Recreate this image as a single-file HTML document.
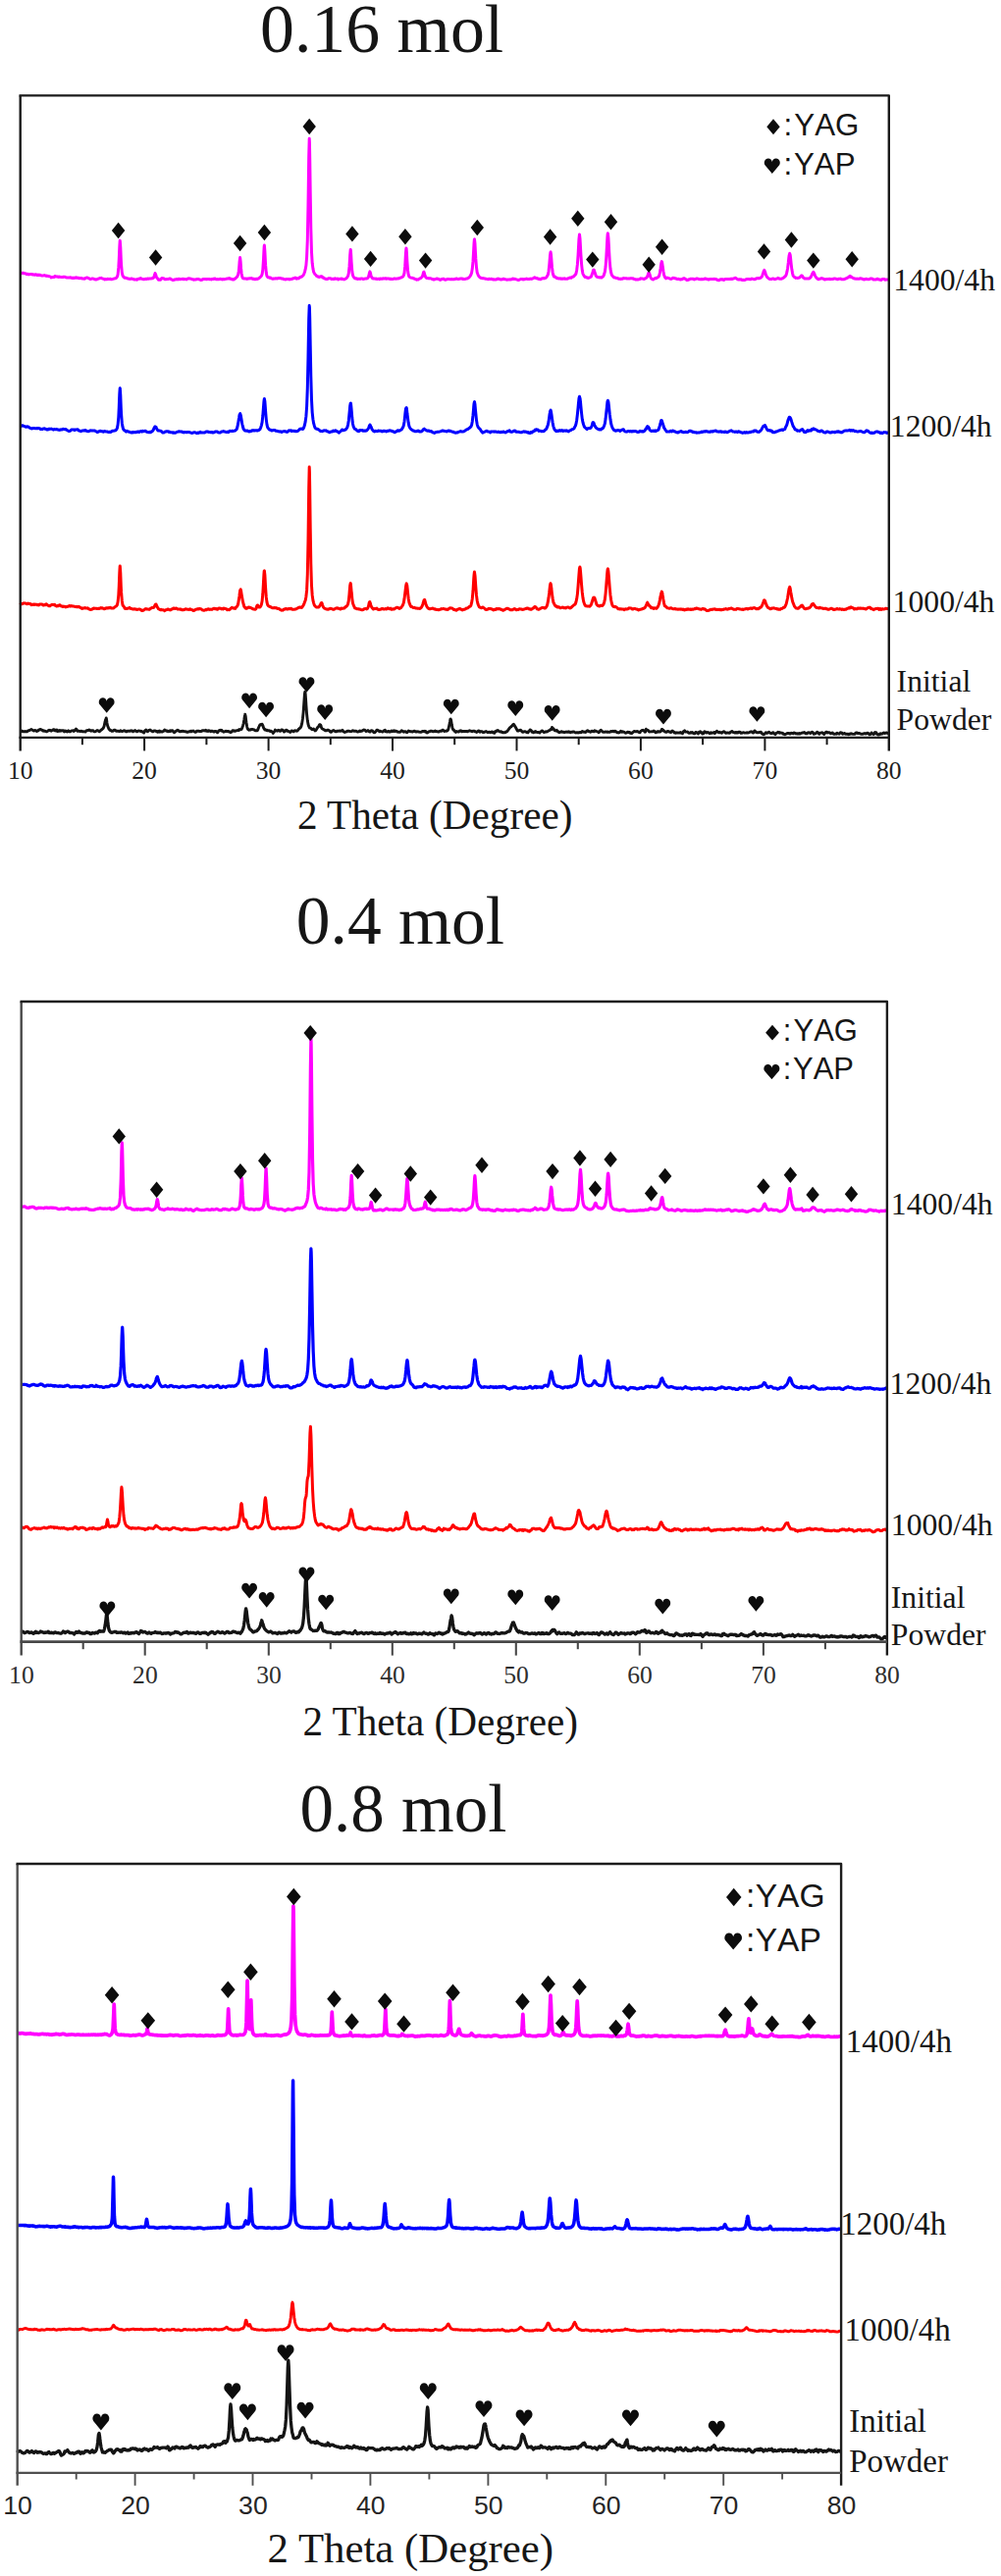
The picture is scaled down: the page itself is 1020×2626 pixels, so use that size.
<!DOCTYPE html>
<html lang="en"><head><meta charset="utf-8"><title>XRD patterns</title>
<style>
html,body{margin:0;padding:0;background:#fff}
svg{display:block}
text{white-space:pre}
</style></head><body>
<svg width="1020" height="2626" viewBox="0 0 1020 2626">
<rect width="1020" height="2626" fill="#ffffff"/>
<g>
<polyline points="20.7,278.1 21.4,278.0 22.1,278.4 22.8,278.4 23.5,278.2 24.2,278.5 24.9,278.8 25.6,278.7 26.3,278.9 27.0,279.5 27.7,279.4 28.4,279.2 29.1,279.9 29.8,279.7 30.5,279.6 31.2,279.4 31.9,279.5 32.6,279.4 33.3,280.0 34.0,279.7 34.7,280.1 35.4,280.3 36.1,279.8 36.8,279.8 37.5,280.5 38.2,280.4 38.9,280.0 39.6,280.4 40.3,280.3 41.0,280.3 41.7,280.6 42.4,281.1 43.1,281.0 43.8,280.9 44.5,280.8 45.2,280.6 45.9,280.9 46.6,281.0 47.3,281.4 48.0,281.2 48.7,281.4 49.4,281.5 50.1,281.7 50.8,281.9 51.5,282.1 52.2,282.9 52.9,282.7 53.6,282.4 54.3,282.4 55.0,282.5 55.7,281.6 56.4,281.6 57.1,282.0 57.8,282.1 58.5,282.0 59.2,282.3 59.9,282.5 60.6,282.1 61.3,282.3 62.0,282.4 62.7,282.5 63.4,282.4 64.1,282.5 64.8,282.2 65.5,282.2 66.2,282.3 66.9,282.6 67.6,282.9 68.3,282.9 69.0,282.9 69.7,282.9 70.4,282.9 71.1,282.9 71.8,282.7 72.5,283.2 73.2,283.2 73.9,283.5 74.6,283.3 75.3,283.5 76.0,283.2 76.7,283.3 77.4,282.8 78.1,283.3 78.8,283.1 79.5,283.4 80.2,283.3 80.9,283.7 81.6,283.5 82.3,283.6 83.0,283.5 83.7,284.1 84.4,283.9 85.1,284.0 85.8,284.2 86.5,284.0 87.2,283.4 87.9,283.2 88.6,282.9 89.3,283.1 90.0,283.6 90.7,283.8 91.4,284.2 92.1,284.6 92.8,284.4 93.5,284.1 94.2,284.0 94.9,284.1 95.6,284.3 96.3,284.7 97.0,284.8 97.7,285.1 98.4,284.8 99.1,284.6 99.8,284.3 100.5,284.1 101.2,283.7 101.9,283.6 102.6,283.6 103.3,283.3 104.0,283.9 104.7,284.1 105.4,284.3 106.1,284.5 106.8,284.9 107.5,284.6 108.2,284.7 108.9,284.8 109.6,284.3 110.3,284.5 111.0,284.4 111.7,284.4 112.4,284.3 113.1,284.7 113.8,284.7 114.5,284.6 115.2,284.4 115.9,284.1 116.6,283.9 117.3,283.8 118.0,283.8 118.7,283.1 119.4,282.2 120.1,279.8 120.8,272.9 121.3,264.2 121.5,259.6 121.8,252.1 122.2,245.3 122.3,245.6 122.8,252.4 122.9,254.9 123.3,264.2 123.6,270.2 124.3,277.9 125.0,280.8 125.7,282.1 126.4,282.8 127.1,283.3 127.8,283.1 128.5,283.4 129.2,283.4 129.9,283.9 130.6,284.0 131.3,284.2 132.0,284.3 132.7,284.4 133.4,284.2 134.1,284.0 134.8,284.3 135.5,284.4 136.2,284.5 136.9,285.0 137.6,285.1 138.3,285.1 139.0,284.7 139.7,285.1 140.4,284.4 141.1,284.3 141.8,284.1 142.5,284.3 143.2,283.6 143.9,284.0 144.6,284.3 145.3,284.4 146.0,284.5 146.7,284.8 147.4,284.6 148.1,284.3 148.8,284.5 149.5,284.4 150.2,284.0 150.9,284.3 151.6,284.3 152.3,283.9 153.0,284.0 153.7,284.1 154.4,283.8 155.1,283.7 155.8,283.7 156.5,283.1 157.0,281.8 157.2,281.3 157.5,280.3 157.9,278.9 158.0,278.5 158.5,279.7 158.6,279.6 159.0,280.9 159.3,282.4 160.0,283.3 160.7,284.1 161.4,285.3 162.1,285.3 162.8,285.0 163.5,285.2 164.2,284.4 164.9,283.5 165.6,283.7 166.3,283.7 167.0,284.0 167.7,284.5 168.4,284.8 169.1,284.7 169.8,284.6 170.5,284.5 171.2,284.6 171.9,284.4 172.6,283.9 173.3,284.0 174.0,284.5 174.7,284.8 175.4,285.2 176.1,285.5 176.8,285.6 177.5,285.1 178.2,285.0 178.9,284.9 179.6,284.5 180.3,284.7 181.0,284.9 181.7,284.5 182.4,284.3 183.1,284.8 183.8,284.5 184.5,284.4 185.2,284.5 185.9,284.5 186.6,284.2 187.3,284.8 188.0,284.6 188.7,284.6 189.4,284.7 190.1,284.9 190.8,284.2 191.5,284.1 192.2,283.8 192.9,284.1 193.6,283.9 194.3,284.1 195.0,284.4 195.7,284.7 196.4,284.8 197.1,285.0 197.8,285.2 198.5,284.9 199.2,285.1 199.9,284.8 200.6,284.5 201.3,284.5 202.0,284.6 202.7,284.6 203.4,285.1 204.1,285.2 204.8,285.5 205.5,285.3 206.2,285.0 206.9,284.4 207.6,284.4 208.3,284.4 209.0,284.6 209.7,284.5 210.4,284.7 211.1,284.5 211.8,284.5 212.5,284.4 213.2,284.5 213.9,284.7 214.6,284.7 215.3,284.9 216.0,284.5 216.7,284.4 217.4,284.3 218.1,284.4 218.8,283.9 219.5,284.3 220.2,284.7 220.9,284.8 221.6,284.6 222.3,284.7 223.0,284.7 223.7,284.6 224.4,284.2 225.1,284.6 225.8,284.7 226.5,284.9 227.2,284.5 227.9,284.8 228.6,284.7 229.3,284.4 230.0,284.4 230.7,284.2 231.4,284.0 232.1,283.9 232.8,283.9 233.5,283.5 234.2,284.2 234.9,284.1 235.6,284.5 236.3,284.5 237.0,284.9 237.7,284.8 238.4,284.9 239.1,284.3 239.8,283.9 240.5,283.2 241.2,282.5 241.9,281.7 242.6,280.2 243.3,276.2 243.6,273.3 244.0,268.1 244.1,266.6 244.6,262.6 244.7,262.9 245.1,266.4 245.4,270.5 245.6,273.4 246.1,278.7 246.8,282.1 247.5,283.7 248.2,283.9 248.9,284.1 249.6,284.0 250.3,283.9 251.0,284.2 251.7,284.4 252.4,284.0 253.1,283.9 253.8,284.0 254.5,283.7 255.2,283.7 255.9,283.9 256.6,283.6 257.3,284.1 258.0,284.5 258.7,284.3 259.4,284.5 260.1,284.8 260.8,284.3 261.5,284.3 262.2,284.5 262.9,284.1 263.6,283.8 264.3,283.3 265.0,282.7 265.7,282.0 266.4,281.3 267.1,279.4 267.8,275.0 268.4,266.2 268.5,264.5 268.9,256.1 269.2,251.1 269.4,250.0 269.9,256.3 270.4,266.5 270.6,270.2 271.3,278.1 272.0,281.5 272.7,282.5 273.4,282.8 274.1,282.8 274.8,283.3 275.5,283.0 276.2,283.6 276.9,283.9 277.6,284.3 278.3,284.1 279.0,284.2 279.7,283.9 280.4,284.0 281.1,283.7 281.8,283.9 282.5,284.0 283.2,283.7 283.9,283.4 284.6,283.7 285.3,283.4 286.0,283.7 286.7,284.0 287.4,284.1 288.1,284.0 288.8,284.6 289.5,284.6 290.2,284.8 290.9,284.9 291.6,284.5 292.3,284.4 293.0,284.5 293.7,284.4 294.4,284.5 295.1,284.9 295.8,284.7 296.5,284.4 297.2,284.4 297.9,284.3 298.6,283.8 299.3,283.7 300.0,283.7 300.7,283.1 301.4,283.3 302.1,284.1 302.8,283.7 303.5,283.8 304.2,283.9 304.9,283.4 305.6,282.6 306.3,282.5 307.0,282.3 307.7,281.9 308.4,281.2 309.1,280.5 309.8,279.1 310.5,277.2 311.2,274.4 311.9,270.5 312.6,262.0 313.3,244.6 314.0,209.4 314.2,195.9 314.7,159.5 315.2,141.3 315.4,144.7 315.7,160.3 316.1,189.0 316.2,196.2 316.8,232.7 317.5,257.1 318.2,268.3 318.9,273.6 319.6,277.1 320.3,278.5 321.0,279.6 321.7,280.1 322.4,281.3 323.1,281.4 323.8,282.1 324.5,282.1 325.2,282.5 325.9,282.2 326.6,282.1 326.8,281.8 327.3,281.9 327.8,281.8 328.0,281.7 328.3,282.0 328.7,282.9 328.8,282.5 329.4,282.8 330.1,283.6 330.8,284.0 331.5,284.0 332.2,284.5 332.9,284.4 333.6,284.5 334.3,284.0 335.0,283.8 335.7,283.7 336.4,283.7 337.1,283.9 337.8,284.5 338.5,284.4 339.2,284.2 339.9,284.5 340.6,284.4 341.3,283.7 342.0,284.2 342.7,284.3 343.4,284.2 344.1,284.1 344.8,284.9 345.5,284.4 346.2,284.3 346.9,284.2 347.6,284.4 348.3,284.0 349.0,284.4 349.7,284.4 350.4,284.9 351.1,284.7 351.8,284.4 352.5,283.9 353.2,283.6 353.9,282.4 354.6,281.2 355.3,278.6 356.0,271.9 356.2,268.7 356.7,259.9 357.2,254.4 357.4,255.4 357.7,259.7 358.1,267.3 358.2,268.7 358.8,276.5 359.5,280.5 360.2,282.3 360.9,283.0 361.6,283.8 362.3,283.9 363.0,283.8 363.7,283.9 364.4,284.5 365.1,284.2 365.8,284.2 366.5,284.3 367.2,284.4 367.9,283.9 368.6,284.1 369.3,284.1 370.0,284.6 370.7,284.2 371.4,284.2 372.1,284.1 372.8,284.1 373.5,283.9 374.2,283.8 374.9,283.3 375.6,282.0 375.9,280.9 376.3,278.7 376.4,278.3 376.9,276.9 377.0,277.0 377.4,278.0 377.7,279.3 377.9,280.3 378.4,282.0 379.1,283.1 379.8,283.9 380.5,284.1 381.2,284.1 381.9,284.1 382.6,284.2 383.3,284.1 384.0,284.5 384.7,284.4 385.4,284.2 386.1,284.2 386.8,284.6 387.5,284.0 388.2,284.1 388.9,284.3 389.6,284.2 390.3,283.7 391.0,284.1 391.7,284.1 392.4,283.8 393.1,283.7 393.8,284.2 394.5,284.1 395.2,284.1 395.9,283.9 396.6,284.3 397.3,284.2 398.0,284.5 398.7,284.3 399.4,284.6 400.1,284.4 400.8,284.3 401.5,284.0 402.2,283.9 402.9,284.2 403.6,284.2 404.3,284.1 405.0,283.9 405.7,284.0 406.4,283.7 407.1,283.6 407.8,283.2 408.5,283.1 409.2,282.7 409.9,282.3 410.6,282.0 411.3,280.8 412.0,278.5 412.7,271.7 412.9,268.7 413.4,258.7 413.9,253.1 414.1,253.4 414.4,257.7 414.8,265.3 414.9,267.0 415.5,275.2 416.2,280.1 416.9,282.0 417.6,282.5 418.3,282.9 419.0,283.2 419.7,283.3 420.4,283.3 421.1,283.7 421.8,284.0 422.5,284.1 423.2,284.6 423.9,284.8 424.6,285.2 425.3,284.9 426.0,285.1 426.7,284.4 427.4,284.1 428.1,283.7 428.8,283.5 429.5,282.8 430.2,282.1 430.9,280.3 431.4,278.1 431.6,277.4 431.9,277.2 432.3,278.1 432.4,278.4 432.9,280.7 433.0,281.0 433.7,282.4 434.4,283.2 435.1,283.5 435.8,283.6 436.5,283.7 437.2,283.9 437.9,283.7 438.6,283.8 439.3,283.9 440.0,284.4 440.7,284.5 441.4,284.9 442.1,284.8 442.8,284.9 443.5,284.6 444.2,284.4 444.9,284.0 445.6,284.0 446.3,284.4 447.0,284.4 447.7,284.8 448.4,285.4 449.1,285.2 449.8,284.6 450.5,284.6 451.2,284.2 451.9,284.3 452.6,284.5 453.3,285.2 454.0,285.2 454.7,285.1 455.4,284.6 456.1,284.5 456.8,284.5 457.5,284.4 458.2,284.6 458.9,284.8 459.6,284.7 460.3,284.5 461.0,284.7 461.7,284.8 462.4,284.8 463.1,284.5 463.8,284.5 464.5,284.2 465.2,284.0 465.9,284.3 466.6,284.4 467.3,284.4 468.0,284.3 468.7,284.3 469.4,283.9 470.1,284.1 470.8,284.1 471.5,284.5 472.2,284.3 472.9,284.6 473.6,284.6 474.3,284.4 475.0,284.1 475.7,284.1 476.4,283.8 477.1,283.4 477.8,283.0 478.5,282.2 479.2,281.3 479.9,280.1 480.6,278.0 481.3,273.8 482.0,266.4 482.5,257.7 482.7,254.0 483.0,248.5 483.4,244.0 483.5,243.9 484.0,248.5 484.1,250.5 484.5,258.2 484.8,263.7 485.5,272.5 486.2,277.7 486.9,279.6 487.6,281.1 488.3,282.1 489.0,282.7 489.7,283.2 490.4,283.5 491.1,283.6 491.8,283.8 492.5,283.6 493.2,283.8 493.9,283.9 494.6,284.3 495.3,284.2 496.0,284.4 496.7,284.4 497.4,284.7 498.1,284.3 498.8,284.3 499.5,284.6 500.2,284.5 500.9,284.3 501.6,284.7 502.3,284.9 503.0,284.8 503.7,285.0 504.4,285.0 505.1,285.0 505.8,284.8 506.5,284.5 507.2,284.1 507.9,284.4 508.6,284.3 509.3,284.6 510.0,284.9 510.7,285.0 511.4,284.7 512.1,284.7 512.8,284.2 513.5,284.3 514.2,284.7 514.9,284.7 515.6,284.9 516.3,285.2 517.0,285.2 517.7,284.9 518.4,285.1 519.1,285.1 519.8,284.7 520.5,284.9 521.2,284.8 521.9,284.5 522.6,284.0 523.3,284.6 524.0,284.3 524.7,284.4 525.4,284.4 526.1,284.9 526.8,285.1 527.5,285.3 528.2,285.5 528.9,285.4 529.6,284.9 530.3,284.7 531.0,284.4 531.7,284.5 532.4,284.6 533.1,285.0 533.8,284.6 534.5,284.8 535.2,284.4 535.9,284.3 536.6,284.1 537.3,284.5 538.0,284.4 538.7,284.4 539.4,284.5 540.1,284.3 540.8,284.1 541.5,284.4 542.2,284.2 542.9,283.9 543.6,283.5 544.3,283.2 544.7,282.7 545.0,282.8 545.2,283.0 545.7,283.3 546.2,283.5 546.4,283.7 546.7,283.8 547.1,283.6 547.8,283.7 548.5,284.4 549.2,284.2 549.9,284.5 550.6,284.7 551.3,284.5 552.0,284.0 552.7,283.8 553.4,283.6 554.1,283.9 554.8,283.6 555.5,283.5 556.2,283.2 556.9,282.5 557.6,281.4 558.3,280.1 559.0,277.0 559.7,270.6 560.0,267.2 560.4,262.0 560.5,260.7 561.0,257.0 561.1,256.9 561.5,259.5 561.8,263.2 562.0,266.0 562.5,272.4 563.2,277.8 563.9,280.5 564.6,282.0 565.3,282.2 566.0,282.2 566.7,283.1 567.4,283.7 568.1,283.4 568.8,283.8 569.5,284.1 570.2,283.9 570.9,283.8 571.6,284.3 572.3,284.2 573.0,284.0 573.7,284.3 574.4,284.1 575.1,283.7 575.8,284.2 576.5,284.3 577.2,284.3 577.9,284.2 578.6,284.0 579.3,283.6 580.0,283.4 580.7,283.0 581.4,283.0 582.1,283.2 582.8,282.4 583.5,282.2 584.2,282.0 584.9,281.5 585.6,280.6 586.3,280.0 587.0,278.7 587.7,275.2 588.4,269.4 589.1,259.5 589.5,252.1 589.8,246.3 590.0,243.1 590.5,238.9 591.0,243.2 591.2,246.6 591.5,252.2 591.9,259.4 592.6,269.3 593.3,275.8 594.0,279.1 594.7,280.4 595.4,281.6 596.1,282.4 596.8,282.5 597.5,282.5 598.2,283.2 598.9,282.9 599.6,283.4 600.3,283.1 601.0,282.9 601.7,282.4 602.4,282.1 603.1,280.0 603.8,277.9 604.1,276.9 604.5,275.4 604.6,275.4 605.1,275.1 605.2,275.0 605.6,276.0 605.9,277.3 606.1,277.6 606.6,279.4 607.3,281.2 608.0,282.1 608.7,282.4 609.4,282.4 610.1,282.7 610.8,282.9 611.5,282.7 612.2,283.0 612.9,283.0 613.6,282.4 614.3,282.1 615.0,281.2 615.7,279.3 616.4,276.9 617.1,271.8 617.8,262.3 618.4,251.4 618.5,249.4 618.9,242.0 619.2,238.3 619.4,237.8 619.9,242.1 620.4,250.9 620.6,255.2 621.3,266.8 622.0,274.1 622.7,278.0 623.4,280.4 624.1,281.3 624.8,282.0 625.5,282.7 626.2,283.0 626.9,283.1 627.6,283.2 628.3,283.6 629.0,283.5 629.7,283.7 630.4,284.2 631.1,284.2 631.8,284.3 632.5,284.5 633.2,284.3 633.9,284.1 634.6,284.2 635.3,283.6 636.0,283.7 636.7,283.7 637.4,283.7 638.1,283.8 638.8,284.0 639.5,284.0 640.2,284.1 640.9,283.9 641.6,284.0 642.3,283.8 643.0,283.8 643.7,283.8 644.4,283.9 645.1,283.8 645.8,284.5 646.5,284.5 647.2,284.7 647.9,285.1 648.6,284.9 649.3,284.8 650.0,285.1 650.7,284.9 651.4,284.6 652.1,284.6 652.8,283.8 653.5,283.9 654.2,284.1 654.9,284.1 655.6,284.3 656.3,284.5 657.0,284.1 657.7,283.6 658.4,283.5 659.1,282.8 659.8,281.4 660.2,280.1 660.5,279.5 660.7,278.5 661.2,277.9 661.7,278.7 661.9,279.3 662.2,280.2 662.6,281.8 663.3,283.4 664.0,284.3 664.7,284.5 665.4,284.9 666.1,284.5 666.8,284.2 667.5,283.6 668.2,283.7 668.9,283.5 669.6,282.9 670.3,282.7 671.0,282.3 671.7,281.0 672.4,278.0 673.1,273.8 673.3,272.2 673.8,268.5 674.3,266.6 674.5,266.8 674.8,268.4 675.2,271.1 675.3,271.7 675.9,276.2 676.6,280.2 677.3,282.0 678.0,283.4 678.7,283.9 679.4,283.4 680.1,283.1 680.8,283.4 681.5,283.6 682.2,283.9 682.9,284.2 683.6,284.4 684.3,284.2 685.0,283.7 685.7,283.3 686.4,283.5 687.1,283.4 687.8,283.8 688.5,284.0 689.2,284.1 689.9,284.5 690.6,284.6 691.3,284.2 692.0,284.6 692.7,284.8 693.4,285.0 694.1,284.8 694.8,284.8 695.5,284.3 696.2,284.0 696.9,283.7 697.6,283.8 698.3,284.4 699.0,284.6 699.7,285.4 700.4,285.4 701.1,285.4 701.8,284.7 702.5,284.9 703.2,284.2 703.9,284.2 704.6,284.3 705.3,284.3 706.0,284.3 706.7,284.5 707.4,284.9 708.1,284.6 708.8,284.5 709.5,284.1 710.2,284.1 710.9,284.1 711.6,284.4 712.3,284.4 713.0,284.8 713.7,284.8 714.4,284.6 715.1,284.5 715.8,284.8 716.5,284.6 717.2,284.6 717.9,284.2 718.6,283.9 719.3,284.1 720.0,284.5 720.7,284.5 721.4,284.8 722.1,285.1 722.8,284.8 723.5,284.4 724.2,284.5 724.9,284.5 725.6,284.6 726.3,284.6 727.0,284.6 727.7,284.3 728.4,284.4 729.1,284.5 729.8,284.7 730.5,285.0 731.2,285.5 731.9,285.5 732.6,285.7 733.3,285.2 734.0,284.8 734.7,284.8 735.4,285.0 736.1,284.7 736.8,285.0 737.5,285.5 738.2,284.9 738.9,284.5 739.6,284.5 740.3,284.6 741.0,284.4 741.7,284.6 742.4,284.5 743.1,284.5 743.8,284.5 744.5,284.3 745.2,284.3 745.9,284.5 746.6,284.2 747.3,284.1 748.0,283.8 748.7,283.4 749.4,283.3 750.1,283.8 750.8,284.2 751.5,284.6 752.2,285.0 752.9,285.0 753.6,284.8 754.3,284.9 755.0,284.8 755.7,284.9 756.4,285.6 757.1,285.4 757.8,285.3 758.5,285.6 759.2,285.4 759.9,284.8 760.6,284.8 761.3,284.4 762.0,284.4 762.7,284.5 763.4,284.5 764.1,284.7 764.8,284.7 765.5,284.2 766.2,284.1 766.9,284.3 767.6,284.4 768.3,284.7 769.0,284.7 769.7,284.5 770.4,284.0 771.1,283.8 771.8,283.7 772.5,283.6 773.2,283.7 773.9,283.7 774.6,283.4 775.3,283.1 776.0,282.3 776.7,281.3 777.4,279.0 777.9,277.4 778.1,276.7 778.4,276.1 778.8,275.3 778.9,275.9 779.4,276.6 779.5,276.8 779.9,278.3 780.2,279.3 780.9,281.1 781.6,282.4 782.3,283.1 783.0,283.6 783.7,284.2 784.4,284.5 785.1,284.5 785.8,284.5 786.5,284.4 787.2,284.0 787.9,284.1 788.6,284.2 789.3,284.7 790.0,284.4 790.7,284.4 791.4,283.9 792.1,283.9 792.8,283.4 793.5,283.9 794.2,284.0 794.9,284.3 795.6,284.3 796.3,284.3 797.0,283.9 797.7,283.5 798.4,283.3 799.1,282.6 799.8,281.9 800.5,281.3 801.2,280.0 801.9,277.2 802.6,273.4 803.3,267.7 803.7,263.6 804.0,261.1 804.2,260.1 804.7,258.4 805.2,260.0 805.4,261.5 805.7,264.3 806.1,268.3 806.8,274.3 807.5,278.3 808.2,281.0 808.9,282.0 809.6,282.5 810.3,283.0 811.0,283.4 811.7,283.2 812.4,283.4 813.1,283.4 813.8,283.2 814.5,283.1 815.2,282.5 815.9,281.7 816.4,281.4 816.6,281.0 816.9,280.9 817.3,281.4 817.4,281.1 817.9,281.8 818.0,282.0 818.7,283.3 819.4,283.4 820.1,284.0 820.8,283.9 821.5,284.0 822.2,283.9 822.9,284.1 823.6,284.0 824.3,284.0 825.0,283.6 825.7,283.0 826.4,282.1 827.1,280.7 827.8,278.9 828.3,278.0 828.5,277.7 828.8,277.3 829.2,277.8 829.3,278.0 829.8,279.1 829.9,279.4 830.6,281.1 831.3,282.4 832.0,283.3 832.7,284.0 833.4,284.3 834.1,284.8 834.8,284.3 835.5,284.3 836.2,284.1 836.9,283.6 837.6,283.8 838.3,284.0 839.0,284.2 839.7,284.4 840.4,285.0 841.1,284.7 841.8,284.8 842.5,284.4 843.2,284.5 843.9,284.5 844.6,284.5 845.3,284.3 846.0,284.7 846.7,284.6 847.4,284.6 848.1,284.5 848.8,284.5 849.5,284.1 850.2,283.9 850.9,284.1 851.6,284.2 852.3,284.4 853.0,284.7 853.7,284.7 854.4,284.2 855.1,284.2 855.8,284.3 856.5,284.1 857.2,284.5 857.9,284.8 858.6,284.7 859.3,284.7 860.0,284.8 860.7,284.4 861.4,284.2 862.1,283.8 862.8,283.7 863.5,283.1 864.2,283.0 864.9,282.3 865.2,282.1 865.6,281.7 865.7,282.1 866.2,281.4 866.3,281.6 866.7,282.2 867.0,282.4 867.2,281.9 867.7,282.6 868.4,282.9 869.1,283.4 869.8,283.7 870.5,284.0 871.2,284.1 871.9,284.2 872.6,284.2 873.3,284.1 874.0,284.3 874.7,284.2 875.4,284.2 876.1,284.0 876.8,283.8 877.5,284.1 878.2,284.1 878.9,284.5 879.6,284.6 880.3,285.0 881.0,284.8 881.7,284.7 882.4,284.2 883.1,284.4 883.8,284.6 884.5,284.8 885.2,284.7 885.9,284.6 886.6,284.3 887.3,283.9 888.0,283.9 888.7,284.1 889.4,284.5 890.1,285.0 890.8,285.1 891.5,284.9 892.2,285.0 892.9,284.8 893.6,284.5 894.3,284.2 895.0,284.8 895.7,284.9 896.4,285.2 897.1,285.1 897.8,285.5 898.5,284.9 899.2,284.4 899.9,284.5 900.6,284.5 901.3,284.5 902.0,285.3 902.7,285.1 903.4,284.9 904.1,284.9 904.8,285.1 905.3,284.1" fill="none" stroke="#ff00ff" stroke-width="3.00" stroke-linejoin="round" stroke-linecap="butt"/>
<polyline points="20.7,434.9 21.4,434.6 22.1,434.0 22.8,433.7 23.5,434.0 24.2,434.4 24.9,434.6 25.6,434.7 26.3,435.2 27.0,435.2 27.7,434.8 28.4,434.9 29.1,435.3 29.8,436.0 30.5,436.1 31.2,436.6 31.9,436.8 32.6,436.9 33.3,436.5 34.0,436.5 34.7,436.6 35.4,436.6 36.1,436.8 36.8,436.7 37.5,436.6 38.2,436.7 38.9,436.5 39.6,436.6 40.3,436.7 41.0,437.4 41.7,437.3 42.4,437.4 43.1,437.5 43.8,437.2 44.5,436.9 45.2,436.8 45.9,437.3 46.6,437.2 47.3,437.7 48.0,438.0 48.7,438.1 49.4,437.2 50.1,437.5 50.8,437.3 51.5,437.3 52.2,437.1 52.9,437.4 53.6,437.6 54.3,438.1 55.0,437.6 55.7,437.6 56.4,437.8 57.1,437.7 57.8,437.4 58.5,437.9 59.2,438.0 59.9,438.2 60.6,438.4 61.3,438.2 62.0,437.8 62.7,437.9 63.4,438.0 64.1,437.3 64.8,437.4 65.5,437.6 66.2,437.8 66.9,437.5 67.6,438.1 68.3,438.5 69.0,438.9 69.7,439.4 70.4,439.4 71.1,439.4 71.8,439.1 72.5,438.3 73.2,437.9 73.9,438.1 74.6,437.9 75.3,438.0 76.0,438.6 76.7,438.0 77.4,437.9 78.1,438.1 78.8,437.8 79.5,438.0 80.2,439.0 80.9,439.1 81.6,439.4 82.3,439.7 83.0,439.2 83.7,439.2 84.4,438.9 85.1,439.1 85.8,438.7 86.5,438.9 87.2,438.5 87.9,439.3 88.6,439.4 89.3,439.6 90.0,439.8 90.7,439.6 91.4,439.1 92.1,438.8 92.8,439.1 93.5,438.9 94.2,439.1 94.9,438.9 95.6,438.9 96.3,438.9 97.0,439.3 97.7,439.6 98.4,440.1 99.1,440.7 99.8,440.1 100.5,440.2 101.2,439.6 101.9,439.3 102.6,439.5 103.3,439.8 104.0,439.6 104.7,440.1 105.4,440.2 106.1,439.7 106.8,439.5 107.5,439.9 108.2,440.1 108.9,440.0 109.6,440.1 110.3,440.5 111.0,440.4 111.7,440.3 112.4,440.5 113.1,440.3 113.8,439.7 114.5,439.2 115.2,439.3 115.9,439.2 116.6,439.1 117.3,438.8 118.0,438.5 118.7,437.9 119.4,436.4 120.1,432.9 120.8,425.3 121.3,415.1 121.5,409.5 121.8,401.9 122.2,395.8 122.3,395.7 122.8,403.1 122.9,406.0 123.3,416.1 123.6,422.2 124.3,431.2 125.0,435.2 125.7,437.6 126.4,438.4 127.1,438.8 127.8,439.6 128.5,440.1 129.2,439.3 129.9,439.6 130.6,439.9 131.3,440.3 132.0,440.2 132.7,440.6 133.4,440.9 134.1,441.0 134.8,440.5 135.5,440.9 136.2,440.6 136.9,440.6 137.6,440.7 138.3,440.7 139.0,440.2 139.7,440.5 140.4,439.9 141.1,439.9 141.8,440.5 142.5,439.9 143.2,439.7 143.9,439.5 144.6,440.1 145.3,439.3 146.0,439.8 146.7,439.6 147.4,439.5 148.1,439.2 148.8,439.8 149.5,440.3 150.2,440.4 150.9,440.6 151.6,440.7 152.3,440.8 153.0,440.2 153.7,440.6 154.4,440.0 155.1,439.8 155.8,438.9 156.5,437.7 157.0,436.2 157.2,436.2 157.5,435.5 157.9,434.9 158.0,434.8 158.5,435.5 158.6,435.2 159.0,435.2 159.3,436.3 160.0,437.7 160.7,438.7 161.4,439.1 162.1,439.1 162.8,439.1 163.5,439.3 164.2,439.5 164.9,440.0 165.6,440.9 166.3,441.0 167.0,440.9 167.7,440.5 168.4,440.0 169.1,440.0 169.8,439.7 170.5,439.7 171.2,439.8 171.9,440.5 172.6,440.1 173.3,440.8 174.0,440.8 174.7,440.8 175.4,440.8 176.1,441.2 176.8,440.7 177.5,441.3 178.2,441.3 178.9,441.2 179.6,440.6 180.3,440.4 181.0,440.2 181.7,440.1 182.4,439.7 183.1,440.0 183.8,440.1 184.5,440.0 185.2,440.0 185.9,440.6 186.6,440.5 187.3,440.9 188.0,440.6 188.7,440.4 189.4,440.6 190.1,440.8 190.8,440.5 191.5,440.6 192.2,440.6 192.9,440.5 193.6,440.9 194.3,441.1 195.0,441.2 195.7,441.6 196.4,441.1 197.1,440.9 197.8,440.8 198.5,440.8 199.2,440.9 199.9,441.4 200.6,441.7 201.3,441.0 202.0,441.5 202.7,441.2 203.4,440.7 204.1,440.3 204.8,441.1 205.5,440.9 206.2,441.0 206.9,441.1 207.6,441.1 208.3,441.1 209.0,440.7 209.7,440.2 210.4,440.0 211.1,440.0 211.8,439.9 212.5,440.5 213.2,440.4 213.9,440.6 214.6,440.7 215.3,440.6 216.0,440.4 216.7,441.1 217.4,440.9 218.1,440.8 218.8,440.3 219.5,440.0 220.2,440.0 220.9,439.9 221.6,440.3 222.3,440.8 223.0,440.9 223.7,440.9 224.4,440.9 225.1,440.5 225.8,440.0 226.5,440.1 227.2,439.7 227.9,439.6 228.6,440.1 229.3,440.1 230.0,440.4 230.7,440.6 231.4,440.5 232.1,440.1 232.8,440.6 233.5,439.7 234.2,439.3 234.9,439.4 235.6,439.6 236.3,439.2 237.0,439.5 237.7,439.4 238.4,439.2 239.1,439.2 239.8,438.9 240.5,438.1 241.2,437.6 241.9,435.2 242.6,431.9 243.3,427.6 243.6,425.9 244.0,423.0 244.1,423.0 244.6,421.8 244.7,421.6 245.1,422.7 245.4,423.6 245.6,425.1 246.1,428.1 246.8,432.3 247.5,435.0 248.2,437.5 248.9,438.2 249.6,439.1 250.3,439.1 251.0,439.2 251.7,439.1 252.4,439.1 253.1,439.6 253.8,440.0 254.5,439.4 255.2,439.7 255.9,439.6 256.6,439.0 257.3,438.7 258.0,439.0 258.7,438.8 259.4,439.1 260.1,438.7 260.8,438.7 261.5,438.8 262.2,439.1 262.9,438.8 263.6,438.6 264.3,438.0 265.0,437.5 265.7,435.7 266.4,433.6 267.1,430.4 267.8,424.0 268.4,416.2 268.5,414.8 268.9,409.7 269.2,407.1 269.4,406.5 269.9,409.3 270.4,416.1 270.6,419.2 271.3,427.6 272.0,432.9 272.7,435.6 273.4,436.7 274.1,437.6 274.8,438.0 275.5,438.3 276.2,438.5 276.9,439.0 277.6,438.8 278.3,438.6 279.0,438.5 279.7,438.5 280.4,438.7 281.1,439.2 281.8,439.3 282.5,439.5 283.2,439.6 283.9,439.8 284.6,440.0 285.3,439.9 286.0,439.8 286.7,440.5 287.4,440.4 288.1,439.9 288.8,439.7 289.5,439.7 290.2,439.6 290.9,439.9 291.6,440.0 292.3,440.4 293.0,440.2 293.7,439.5 294.4,438.8 295.1,438.9 295.8,439.0 296.5,438.8 297.2,439.6 297.9,439.3 298.6,439.3 299.3,439.2 300.0,439.6 300.7,439.3 301.4,439.8 302.1,439.7 302.8,439.6 303.5,439.3 304.2,438.7 304.9,438.1 305.6,437.3 306.3,437.2 307.0,437.1 307.7,437.1 308.4,437.5 309.1,436.9 309.8,435.4 310.5,433.0 311.2,429.6 311.9,424.4 312.6,414.5 313.3,395.6 314.0,364.3 314.2,352.7 314.7,324.8 315.2,311.6 315.4,313.2 315.7,323.8 316.1,346.0 316.2,351.9 316.8,383.3 317.5,407.7 318.2,420.6 318.9,427.2 319.6,431.4 320.3,433.9 321.0,435.9 321.7,436.8 322.4,437.2 323.1,437.2 323.8,437.5 324.5,437.8 325.2,438.2 325.9,439.1 326.6,439.6 327.3,439.6 328.0,439.6 328.7,439.7 329.4,439.1 330.1,438.8 330.8,438.9 331.5,438.9 332.2,438.8 332.9,439.5 333.6,439.7 334.3,440.0 335.0,440.2 335.7,440.7 336.4,440.5 337.1,440.1 337.8,440.1 338.5,440.1 339.2,439.2 339.9,439.1 340.6,439.6 341.3,438.9 342.0,438.8 342.7,439.5 343.4,439.8 344.1,440.0 344.8,440.7 345.5,441.1 346.2,440.3 346.9,439.7 347.6,439.3 348.3,438.2 349.0,438.0 349.7,438.8 350.4,438.6 351.1,438.2 351.8,438.3 352.5,437.6 353.2,436.6 353.9,435.5 354.6,432.8 355.3,428.7 356.0,421.5 356.2,419.3 356.7,413.7 357.2,411.1 357.4,411.0 357.7,413.2 358.1,417.3 358.2,418.6 358.8,426.0 359.5,432.0 360.2,434.8 360.9,436.3 361.6,437.3 362.3,437.4 363.0,438.1 363.7,438.8 364.4,439.4 365.1,439.2 365.8,439.6 366.5,438.6 367.2,438.6 367.9,438.7 368.6,438.7 369.3,438.5 370.0,439.3 370.7,439.3 371.4,438.9 372.1,439.3 372.8,439.0 373.5,439.0 374.2,438.2 374.9,437.4 375.6,436.2 375.9,435.6 376.3,434.0 376.4,434.2 376.9,433.6 377.0,433.0 377.4,433.6 377.7,434.5 377.9,434.7 378.4,435.8 379.1,437.8 379.8,438.5 380.5,439.4 381.2,439.5 381.9,440.0 382.6,439.3 383.3,439.4 384.0,439.4 384.7,439.7 385.4,439.0 386.1,439.2 386.8,439.3 387.5,439.3 388.2,439.2 388.9,439.7 389.6,439.9 390.3,439.5 391.0,439.3 391.7,439.3 392.4,439.5 393.1,439.5 393.8,439.9 394.5,439.2 395.2,439.4 395.9,439.2 396.6,439.0 397.3,438.8 398.0,439.1 398.7,439.2 399.4,439.5 400.1,439.8 400.8,439.8 401.5,440.6 402.2,440.7 402.9,440.2 403.6,440.0 404.3,439.6 405.0,439.0 405.7,438.8 406.4,439.3 407.1,439.0 407.8,438.7 408.5,438.3 409.2,437.9 409.9,436.7 410.6,435.7 411.3,433.8 412.0,429.9 412.7,423.6 412.9,421.5 413.4,417.1 413.9,415.7 414.1,415.5 414.4,416.3 414.8,420.3 414.9,421.3 415.5,426.0 416.2,431.1 416.9,434.4 417.6,436.0 418.3,437.0 419.0,437.7 419.7,438.1 420.4,438.7 421.1,439.1 421.8,439.1 422.5,439.8 423.2,439.8 423.9,439.8 424.6,439.5 425.3,439.4 426.0,439.0 426.7,439.5 427.4,440.0 428.1,439.8 428.8,440.1 429.5,439.9 430.2,439.4 430.9,438.2 431.4,437.7 431.6,437.4 431.9,437.4 432.3,437.1 432.4,437.2 432.9,438.1 433.0,438.1 433.7,438.3 434.4,438.7 435.1,439.0 435.8,439.2 436.5,439.1 437.2,439.1 437.9,439.8 438.6,439.8 439.3,439.5 440.0,440.0 440.7,440.8 441.4,440.8 442.1,441.1 442.8,441.5 443.5,440.8 444.2,440.6 444.9,440.4 445.6,440.3 446.3,440.3 447.0,440.3 447.7,440.1 448.4,439.9 449.1,439.7 449.8,439.4 450.5,439.1 451.2,439.0 451.9,439.2 452.6,439.2 453.3,439.6 454.0,439.6 454.7,439.8 455.4,439.9 456.1,439.4 456.8,439.0 457.5,439.0 458.2,439.5 458.9,439.2 459.6,439.6 460.3,439.9 461.0,440.3 461.7,440.2 462.4,440.5 463.1,440.9 463.8,441.0 464.5,441.2 465.2,441.1 465.9,441.1 466.6,440.4 467.3,440.4 468.0,440.1 468.7,439.9 469.4,439.5 470.1,440.0 470.8,440.0 471.5,439.9 472.2,439.9 472.9,439.6 473.6,439.2 474.3,438.8 475.0,438.1 475.7,437.8 476.4,437.6 477.1,437.2 477.8,436.5 478.5,436.3 479.2,435.5 479.9,434.9 480.6,433.2 481.3,429.4 482.0,423.2 482.5,417.6 482.7,414.7 483.0,411.6 483.4,409.8 483.5,409.6 484.0,412.2 484.1,413.5 484.5,418.2 484.8,421.1 485.5,428.3 486.2,432.6 486.9,434.9 487.6,435.9 488.3,436.7 489.0,437.1 489.7,438.4 490.4,439.5 491.1,440.3 491.8,441.2 492.5,440.9 493.2,440.4 493.9,440.2 494.6,439.9 495.3,439.4 496.0,439.3 496.7,439.8 497.4,440.1 498.1,440.1 498.8,440.3 499.5,440.9 500.2,440.0 500.9,440.0 501.6,439.9 502.3,440.0 503.0,439.9 503.7,440.2 504.4,440.0 505.1,439.9 505.8,440.2 506.5,440.4 507.2,440.4 507.9,440.1 508.6,440.5 509.3,440.6 510.0,440.8 510.7,440.3 511.4,440.4 512.1,440.4 512.8,440.0 513.5,440.2 514.2,440.6 514.9,440.9 515.6,440.8 516.3,440.1 517.0,439.6 517.7,439.7 518.4,439.3 519.1,438.9 519.8,440.0 520.5,440.1 521.2,440.4 521.9,440.2 522.6,439.9 523.3,439.3 524.0,439.4 524.7,439.0 525.4,439.5 526.1,440.3 526.8,440.3 527.5,440.2 528.2,440.2 528.9,440.3 529.6,440.6 530.3,440.8 531.0,440.7 531.7,440.7 532.4,440.3 533.1,440.1 533.8,439.8 534.5,440.3 535.2,440.1 535.9,440.2 536.6,440.3 537.3,441.0 538.0,440.5 538.7,441.0 539.4,441.6 540.1,441.6 540.8,440.5 541.5,440.6 542.2,441.0 542.9,439.9 543.6,439.6 544.3,439.3 544.7,439.4 545.0,438.3 545.2,438.7 545.7,438.6 546.2,438.5 546.4,437.8 546.7,438.3 547.1,437.9 547.8,437.9 548.5,438.6 549.2,439.4 549.9,439.2 550.6,439.3 551.3,439.4 552.0,439.9 552.7,439.4 553.4,439.5 554.1,439.7 554.8,439.1 555.5,438.2 556.2,437.9 556.9,436.9 557.6,435.1 558.3,433.2 559.0,430.1 559.7,425.1 560.0,422.7 560.4,420.3 560.5,419.6 561.0,418.3 561.1,418.1 561.5,419.4 561.8,421.4 562.0,422.7 562.5,426.6 563.2,431.0 563.9,434.6 564.6,436.9 565.3,438.2 566.0,438.7 566.7,439.7 567.4,439.4 568.1,439.0 568.8,439.5 569.5,439.1 570.2,438.6 570.9,439.3 571.6,439.3 572.3,438.6 573.0,438.7 573.7,439.5 574.4,439.1 575.1,439.2 575.8,438.9 576.5,439.3 577.2,438.8 577.9,439.1 578.6,439.5 579.3,439.9 580.0,439.3 580.7,438.9 581.4,438.6 582.1,438.3 582.8,437.7 583.5,437.6 584.2,437.4 584.9,436.9 585.6,435.3 586.3,434.2 587.0,432.0 587.7,428.2 588.4,422.3 589.1,415.2 589.5,410.7 589.8,407.8 590.0,405.9 590.5,404.3 591.0,406.0 591.2,407.1 591.5,409.7 591.9,414.2 592.6,421.3 593.3,427.3 594.0,430.8 594.7,433.0 595.4,435.0 596.1,435.9 596.8,436.4 597.5,437.0 598.2,437.6 598.9,436.8 599.6,436.6 600.3,436.4 601.0,436.6 601.7,436.3 602.4,435.7 603.1,434.0 603.5,432.7 603.8,431.2 604.0,430.7 604.5,430.6 605.0,431.1 605.2,432.0 605.5,432.9 605.9,433.8 606.6,434.9 607.3,436.0 608.0,436.5 608.7,437.0 609.4,437.4 610.1,437.5 610.8,438.0 611.5,437.7 612.2,437.9 612.9,437.1 613.6,437.1 614.3,436.5 615.0,435.6 615.7,433.7 616.4,431.6 617.1,426.8 617.8,420.4 618.4,414.8 618.5,413.9 618.9,409.8 619.2,408.6 619.4,408.3 619.9,409.5 620.4,413.6 620.6,415.7 621.3,422.4 622.0,427.6 622.7,432.0 623.4,434.3 624.1,436.2 624.8,437.3 625.5,438.4 626.2,438.4 626.9,439.0 627.6,439.2 628.3,438.7 629.0,438.7 629.7,438.6 630.4,438.7 631.1,438.8 631.8,439.5 632.5,438.8 633.2,438.6 633.9,438.1 634.6,438.0 635.3,437.7 636.0,439.0 636.7,439.7 637.4,440.0 638.1,439.9 638.8,440.2 639.5,439.6 640.2,439.4 640.9,439.4 641.6,439.9 642.3,439.5 643.0,439.6 643.7,440.1 644.4,439.7 645.1,439.4 645.8,439.8 646.5,439.5 647.2,439.4 647.9,439.7 648.6,440.0 649.3,440.2 650.0,440.5 650.7,440.3 651.4,440.2 652.1,439.4 652.8,439.7 653.5,439.8 654.2,440.0 654.9,439.5 655.6,440.0 656.3,439.6 657.0,439.1 657.7,437.6 658.4,437.3 659.1,435.7 659.2,435.3 659.7,434.7 659.8,434.9 660.2,434.7 660.5,435.0 660.7,435.6 661.2,436.1 661.9,438.1 662.6,438.7 663.3,439.2 664.0,439.6 664.7,439.4 665.4,439.0 666.1,439.5 666.8,439.4 667.5,438.9 668.2,439.6 668.9,439.1 669.6,438.8 670.3,438.6 671.0,438.1 671.7,435.9 672.4,433.7 673.1,430.9 673.3,430.0 673.8,428.5 674.3,428.7 674.5,429.1 674.8,430.3 675.2,431.5 675.3,431.8 675.9,433.5 676.6,436.0 677.3,436.9 678.0,438.3 678.7,439.0 679.4,440.1 680.1,440.0 680.8,440.1 681.5,440.1 682.2,440.1 682.9,439.5 683.6,439.3 684.3,439.9 685.0,439.2 685.7,439.0 686.4,439.5 687.1,439.8 687.8,439.7 688.5,440.4 689.2,440.7 689.9,440.7 690.6,441.0 691.3,440.8 692.0,440.3 692.7,440.1 693.4,439.7 694.1,439.6 694.8,440.0 695.5,440.6 696.2,440.5 696.9,440.7 697.6,440.6 698.3,440.2 699.0,440.3 699.7,440.6 700.4,440.7 701.1,440.4 701.8,439.8 702.5,439.2 703.2,439.4 703.9,439.2 704.6,439.6 705.3,440.2 706.0,440.5 706.7,440.2 707.4,440.7 708.1,440.7 708.8,440.7 709.5,441.0 710.2,441.2 710.9,440.9 711.6,441.1 712.3,441.1 713.0,440.8 713.7,440.8 714.4,440.6 715.1,440.0 715.8,440.4 716.5,440.2 717.2,439.9 717.9,439.7 718.6,440.0 719.3,439.4 720.0,439.6 720.7,439.9 721.4,440.0 722.1,440.3 722.8,440.2 723.5,440.4 724.2,439.8 724.9,440.1 725.6,439.8 726.3,440.0 727.0,439.4 727.7,439.4 728.4,439.2 729.1,439.1 729.8,439.2 730.5,439.8 731.2,440.0 731.9,439.9 732.6,440.2 733.3,440.1 734.0,439.7 734.7,440.0 735.4,440.4 736.1,440.2 736.8,440.3 737.5,440.3 738.2,440.6 738.9,440.0 739.6,440.2 740.3,440.5 741.0,440.7 741.7,440.2 742.4,440.2 743.1,439.6 743.8,439.3 744.5,439.1 745.2,438.8 745.9,439.4 746.6,439.9 747.3,440.0 748.0,439.9 748.7,440.4 749.4,440.1 750.1,440.2 750.8,440.1 751.5,440.6 752.2,440.0 752.9,439.8 753.6,440.1 754.3,440.5 755.0,440.7 755.7,440.9 756.4,441.4 757.1,441.2 757.8,441.1 758.5,440.6 759.2,441.2 759.9,441.1 760.6,440.5 761.3,440.9 762.0,441.0 762.7,440.9 763.4,440.6 764.1,440.7 764.8,440.3 765.5,440.4 766.2,439.9 766.9,440.1 767.6,440.0 768.3,439.1 769.0,439.2 769.7,439.0 770.4,439.1 771.1,439.7 771.8,440.2 772.5,440.2 773.2,440.4 773.9,440.0 774.6,439.4 775.3,438.8 776.0,437.7 776.7,436.4 777.4,435.1 777.9,434.2 778.1,434.6 778.4,434.5 778.8,434.3 778.9,434.4 779.4,434.3 779.5,433.6 779.9,434.3 780.2,435.0 780.9,436.4 781.6,437.8 782.3,438.7 783.0,438.9 783.7,438.7 784.4,438.5 785.1,439.3 785.8,439.0 786.5,439.3 787.2,440.5 787.9,440.7 788.6,440.5 789.3,440.8 790.0,440.3 790.7,440.0 791.4,440.1 792.1,439.6 792.8,439.3 793.5,439.1 794.2,438.7 794.9,438.5 795.6,438.4 796.3,437.9 797.0,438.3 797.7,438.5 798.4,437.9 799.1,437.8 799.8,437.4 800.5,435.5 801.2,434.3 801.9,432.7 802.6,429.8 803.3,427.5 803.7,426.8 804.0,425.7 804.2,425.3 804.7,425.3 805.2,425.9 805.4,426.1 805.7,426.7 806.1,427.8 806.8,430.2 807.5,432.4 808.2,434.5 808.9,435.4 809.6,436.7 810.3,438.0 811.0,438.0 811.7,438.2 812.4,439.2 813.1,439.0 813.8,438.9 814.5,439.4 815.2,439.2 815.9,438.3 816.4,438.3 816.6,438.1 816.9,437.9 817.3,437.6 817.4,437.7 817.9,437.7 818.0,438.2 818.7,439.3 819.4,440.4 820.1,440.0 820.8,440.6 821.5,440.2 822.2,439.4 822.9,438.7 823.6,439.5 824.3,439.0 825.0,438.8 825.7,438.8 826.4,439.0 827.1,437.6 827.8,437.7 828.3,437.2 828.5,437.1 828.8,437.0 829.2,437.8 829.3,436.9 829.8,437.5 829.9,437.7 830.6,437.7 831.3,437.9 832.0,438.4 832.7,438.7 833.4,439.4 834.1,439.6 834.8,439.7 835.5,439.9 836.2,439.5 836.9,438.9 837.6,439.1 838.3,439.7 839.0,440.4 839.7,440.8 840.4,440.9 841.1,441.1 841.8,440.5 842.5,439.9 843.2,439.9 843.9,440.1 844.6,440.6 845.3,440.8 846.0,441.0 846.7,441.0 847.4,440.7 848.1,440.2 848.8,440.6 849.5,440.6 850.2,440.3 850.9,440.9 851.6,440.4 852.3,440.1 853.0,440.0 853.7,440.2 854.4,439.7 855.1,440.2 855.8,440.2 856.5,440.8 857.2,440.6 857.9,440.9 858.6,440.3 859.3,439.9 860.0,439.4 860.7,439.1 861.4,438.9 862.1,439.0 862.8,439.1 863.5,438.9 864.2,438.9 864.9,438.7 865.2,438.6 865.6,438.4 865.7,438.3 866.2,438.5 866.3,438.5 866.7,439.2 867.0,439.1 867.2,439.0 867.7,438.6 868.4,439.1 869.1,438.6 869.8,438.9 870.5,438.9 871.2,439.7 871.9,439.4 872.6,439.7 873.3,439.9 874.0,440.0 874.7,439.9 875.4,439.7 876.1,439.7 876.8,439.4 877.5,439.7 878.2,439.9 878.9,440.4 879.6,440.6 880.3,440.8 881.0,440.7 881.7,440.1 882.4,439.2 883.1,438.8 883.8,439.4 884.5,439.3 885.2,440.1 885.9,440.6 886.6,441.2 887.3,441.2 888.0,441.5 888.7,441.1 889.4,441.6 890.1,441.2 890.8,441.2 891.5,440.7 892.2,440.4 892.9,440.1 893.6,440.0 894.3,440.0 895.0,440.5 895.7,440.5 896.4,441.0 897.1,441.5 897.8,441.0 898.5,441.2 899.2,441.7 899.9,441.1 900.6,440.6 901.3,440.8 902.0,440.7 902.7,440.8 903.4,441.3 904.1,441.4 904.8,440.8 905.3,440.0" fill="none" stroke="#0000ff" stroke-width="3.00" stroke-linejoin="round" stroke-linecap="butt"/>
<polyline points="20.7,616.6 21.4,615.6 22.1,615.8 22.8,615.5 23.5,615.2 24.2,614.8 24.9,615.1 25.6,615.1 26.3,615.1 27.0,615.6 27.7,615.7 28.4,615.0 29.1,615.5 29.8,615.6 30.5,615.4 31.2,615.6 31.9,616.6 32.6,616.3 33.3,616.2 34.0,616.5 34.7,616.1 35.4,616.4 36.1,616.1 36.8,616.3 37.5,616.3 38.2,616.8 38.9,616.4 39.6,616.9 40.3,616.0 41.0,616.0 41.7,615.9 42.4,615.9 43.1,616.2 43.8,616.9 44.5,616.9 45.2,616.5 45.9,616.7 46.6,615.9 47.3,615.8 48.0,616.5 48.7,617.2 49.4,617.2 50.1,617.7 50.8,617.8 51.5,616.9 52.2,616.9 52.9,616.3 53.6,616.4 54.3,616.4 55.0,616.7 55.7,616.3 56.4,617.4 57.1,617.7 57.8,618.0 58.5,617.5 59.2,617.7 59.9,617.2 60.6,616.7 61.3,617.0 62.0,617.8 62.7,618.0 63.4,617.9 64.1,618.5 64.8,618.3 65.5,618.3 66.2,618.3 66.9,618.9 67.6,618.6 68.3,618.5 69.0,618.3 69.7,618.2 70.4,617.6 71.1,617.6 71.8,618.2 72.5,617.6 73.2,617.8 73.9,618.0 74.6,618.1 75.3,618.1 76.0,618.4 76.7,618.6 77.4,618.6 78.1,618.7 78.8,618.5 79.5,618.8 80.2,618.5 80.9,618.7 81.6,619.3 82.3,619.7 83.0,620.0 83.7,620.4 84.4,620.2 85.1,619.8 85.8,620.1 86.5,619.6 87.2,619.7 87.9,620.1 88.6,620.1 89.3,619.7 90.0,620.5 90.7,620.9 91.4,621.0 92.1,621.4 92.8,621.4 93.5,621.2 94.2,620.7 94.9,620.5 95.6,619.9 96.3,620.1 97.0,620.3 97.7,620.2 98.4,620.2 99.1,620.6 99.8,620.4 100.5,620.3 101.2,620.4 101.9,620.1 102.6,619.6 103.3,619.9 104.0,619.8 104.7,620.0 105.4,620.4 106.1,620.8 106.8,620.2 107.5,620.4 108.2,619.8 108.9,620.1 109.6,619.7 110.3,619.9 111.0,619.6 111.7,619.7 112.4,619.2 113.1,619.7 113.8,620.1 114.5,620.1 115.2,620.0 115.9,619.8 116.6,619.2 117.3,618.6 118.0,618.1 118.7,617.7 119.4,616.6 120.1,613.7 120.8,606.8 121.3,597.4 121.5,592.1 121.8,584.1 122.2,577.0 122.3,577.0 122.8,584.4 122.9,587.4 123.3,598.1 123.6,603.7 124.3,612.4 125.0,616.8 125.7,617.8 126.4,618.5 127.1,620.1 127.8,620.5 128.5,620.3 129.2,620.5 129.9,620.3 130.6,620.1 131.3,620.0 132.0,619.4 132.7,620.0 133.4,620.5 134.1,620.6 134.8,620.7 135.5,621.1 136.2,621.0 136.9,620.7 137.6,620.9 138.3,621.2 139.0,621.1 139.7,621.4 140.4,621.3 141.1,621.1 141.8,620.9 142.5,621.2 143.2,621.2 143.9,622.1 144.6,622.5 145.3,622.6 146.0,621.9 146.7,621.9 147.4,621.3 148.1,620.8 148.8,620.6 149.5,621.0 150.2,620.9 150.9,621.1 151.6,621.2 152.3,621.2 153.0,620.4 153.7,620.2 154.4,619.8 155.1,619.4 155.8,619.6 156.5,619.4 157.2,618.6 157.6,617.7 157.9,617.1 158.1,616.5 158.6,616.0 159.1,616.0 159.3,616.8 159.6,617.5 160.0,618.2 160.7,619.5 161.4,620.6 162.1,621.0 162.8,621.4 163.5,621.8 164.2,621.3 164.9,621.7 165.6,621.8 166.3,621.8 167.0,621.9 167.7,622.7 168.4,622.0 169.1,621.8 169.8,621.6 170.5,621.2 171.2,621.0 171.9,621.3 172.6,621.6 173.3,621.9 174.0,621.7 174.7,621.1 175.4,621.0 176.1,620.5 176.8,620.0 177.5,620.0 178.2,620.5 178.9,620.2 179.6,620.1 180.3,620.5 181.0,621.0 181.7,620.9 182.4,620.9 183.1,621.0 183.8,621.2 184.5,621.0 185.2,621.7 185.9,621.8 186.6,621.8 187.3,621.5 188.0,621.4 188.7,621.0 189.4,620.8 190.1,621.1 190.8,621.2 191.5,621.2 192.2,621.3 192.9,621.5 193.6,620.8 194.3,621.2 195.0,621.5 195.7,621.7 196.4,621.9 197.1,622.5 197.8,622.4 198.5,621.8 199.2,621.5 199.9,621.2 200.6,621.1 201.3,620.7 202.0,621.0 202.7,620.7 203.4,620.5 204.1,620.7 204.8,620.8 205.5,621.2 206.2,621.9 206.9,622.1 207.6,622.2 208.3,622.2 209.0,621.9 209.7,621.3 210.4,621.7 211.1,621.2 211.8,620.9 212.5,620.7 213.2,621.4 213.9,621.1 214.6,621.2 215.3,621.2 216.0,621.4 216.7,620.9 217.4,620.5 218.1,620.3 218.8,620.5 219.5,620.8 220.2,620.5 220.9,621.0 221.6,621.2 222.3,620.4 223.0,620.0 223.7,620.0 224.4,620.2 225.1,620.3 225.8,620.9 226.5,620.6 227.2,620.9 227.9,620.1 228.6,620.2 229.3,620.6 230.0,620.6 230.7,620.8 231.4,621.7 232.1,621.5 232.8,621.4 233.5,621.7 234.2,621.3 234.9,620.4 235.6,620.1 236.3,619.3 237.0,619.8 237.7,619.9 238.4,620.2 239.1,619.9 239.8,620.4 240.5,619.0 241.2,618.6 241.9,617.7 242.6,615.9 243.3,611.8 244.0,607.4 244.2,605.2 244.7,601.8 245.2,600.9 245.4,601.5 245.7,602.9 246.1,605.6 246.2,606.2 246.8,609.8 247.5,613.5 248.2,616.0 248.9,618.5 249.6,619.3 250.3,620.2 251.0,620.1 251.7,620.2 252.4,619.5 253.1,619.2 253.8,618.9 254.5,619.5 255.2,619.4 255.9,619.8 256.6,620.2 257.3,620.5 258.0,620.8 258.7,621.1 259.4,621.0 260.1,621.2 260.8,620.8 261.2,619.7 261.5,618.8 261.7,617.9 262.2,617.1 262.7,617.1 262.9,617.7 263.2,618.5 263.6,618.9 264.3,618.9 265.0,618.9 265.7,617.9 266.4,616.2 267.1,612.8 267.8,605.5 268.4,595.4 268.5,593.0 268.9,585.8 269.2,582.1 269.4,581.9 269.9,586.1 270.4,595.7 270.6,599.1 271.3,608.9 272.0,614.0 272.7,616.7 273.4,617.7 274.1,618.0 274.8,618.4 275.5,618.5 276.2,619.0 276.9,619.4 277.6,619.7 278.3,619.8 279.0,619.6 279.7,619.5 280.4,619.8 281.1,619.6 281.8,619.8 282.5,620.5 283.2,620.5 283.9,620.4 284.6,620.7 285.3,621.4 286.0,621.6 286.7,622.2 287.4,621.9 288.1,622.2 288.8,621.5 289.5,621.2 290.2,620.7 290.9,621.0 291.6,620.6 292.3,620.7 293.0,621.1 293.7,620.8 294.4,620.4 295.1,620.7 295.8,620.8 296.5,620.2 297.2,620.7 297.9,621.2 298.6,621.2 299.3,621.3 300.0,621.2 300.7,621.1 301.4,621.0 302.1,620.6 302.8,620.2 303.5,619.9 304.2,619.2 304.9,619.3 305.6,619.0 306.3,619.1 307.0,619.4 307.7,619.3 308.4,618.2 309.1,617.2 309.8,615.7 310.5,613.6 311.2,612.0 311.9,608.2 312.6,601.9 313.3,585.5 314.0,551.5 314.2,537.2 314.7,497.9 315.2,476.0 315.4,480.5 315.7,498.4 316.1,530.3 316.2,538.0 316.8,574.4 317.5,597.0 318.2,606.9 318.9,611.9 319.6,614.6 320.3,616.9 321.0,617.8 321.7,618.5 322.4,618.9 323.1,618.9 323.8,619.1 324.5,619.1 325.2,618.5 325.9,617.4 326.6,616.5 326.8,615.7 327.3,614.6 327.8,614.5 328.0,614.9 328.3,615.6 328.7,617.1 328.8,617.4 329.4,618.7 330.1,619.8 330.8,620.1 331.5,620.6 332.2,620.8 332.9,621.1 333.6,621.0 334.3,621.3 335.0,620.9 335.7,620.8 336.4,620.2 337.1,620.6 337.8,620.6 338.5,620.8 339.2,621.2 339.9,621.3 340.6,621.0 341.3,620.7 342.0,620.1 342.7,619.9 343.4,619.8 344.1,620.2 344.8,620.1 345.5,620.4 346.2,620.8 346.9,621.0 347.6,620.1 348.3,620.4 349.0,620.2 349.7,620.3 350.4,619.9 351.1,619.9 351.8,618.8 352.5,618.5 353.2,618.0 353.9,617.3 354.6,615.4 355.3,612.4 356.0,605.6 356.2,602.6 356.7,596.8 357.2,594.5 357.4,595.4 357.7,598.6 358.1,603.4 358.2,603.5 358.8,610.1 359.5,614.8 360.2,616.9 360.9,618.3 361.6,619.8 362.3,620.1 363.0,620.4 363.7,620.7 364.4,620.8 365.1,620.7 365.8,621.0 366.5,620.9 367.2,621.3 367.9,621.6 368.6,621.7 369.3,621.7 370.0,621.6 370.7,621.0 371.4,620.7 372.1,620.6 372.8,620.4 373.5,620.9 374.2,620.6 374.9,619.5 375.6,617.6 375.9,615.9 376.3,614.2 376.4,613.9 376.9,613.5 377.0,613.9 377.4,615.3 377.7,616.2 377.9,616.9 378.4,618.4 379.1,619.5 379.8,620.4 380.5,621.0 381.2,620.5 381.9,620.5 382.6,620.6 383.3,620.5 384.0,620.1 384.7,621.0 385.4,621.4 386.1,621.6 386.8,621.3 387.5,621.2 388.2,621.0 388.9,620.5 389.6,620.7 390.3,620.5 391.0,620.9 391.7,620.9 392.4,620.8 393.1,620.5 393.8,620.9 394.5,620.7 395.2,619.7 395.9,620.1 396.6,620.7 397.3,620.6 398.0,620.1 398.7,621.2 399.4,621.2 400.1,620.8 400.8,621.0 401.5,621.0 402.2,620.5 402.9,620.0 403.6,619.6 404.3,619.3 405.0,619.2 405.7,619.7 406.4,620.0 407.1,620.4 407.8,619.8 408.5,619.7 409.2,618.7 409.9,617.8 410.6,616.5 411.3,614.5 412.0,610.6 412.7,605.3 413.2,600.9 413.4,599.4 413.7,597.0 414.1,595.2 414.2,594.9 414.7,596.4 414.8,597.0 415.2,600.7 415.5,603.8 416.2,610.2 416.9,614.1 417.6,615.9 418.3,617.6 419.0,618.6 419.7,618.5 420.4,619.0 421.1,619.4 421.8,619.4 422.5,619.3 423.2,619.9 423.9,619.9 424.6,619.9 425.3,620.3 426.0,620.2 426.7,620.2 427.4,620.4 428.1,620.3 428.8,619.7 429.5,618.9 430.2,617.8 430.9,615.7 431.6,613.3 432.1,611.8 432.3,611.6 432.6,611.4 433.0,612.2 433.1,612.9 433.6,614.5 433.7,615.3 434.4,617.2 435.1,618.6 435.8,619.5 436.5,620.3 437.2,620.5 437.9,620.7 438.6,620.7 439.3,620.4 440.0,620.4 440.7,620.1 441.4,620.2 442.1,620.7 442.8,621.1 443.5,620.7 444.2,621.5 444.9,621.6 445.6,621.5 446.3,621.6 447.0,621.8 447.7,621.4 448.4,621.3 449.1,621.0 449.8,620.6 450.5,620.8 451.2,620.6 451.9,620.6 452.6,620.7 453.3,620.9 454.0,621.0 454.7,621.3 455.4,621.3 456.1,621.5 456.8,621.0 457.5,620.5 458.2,620.0 458.9,619.8 459.6,619.9 460.3,619.9 461.0,620.3 461.7,620.7 462.4,621.5 463.1,621.2 463.8,621.9 464.5,622.1 465.2,622.2 465.9,621.3 466.6,621.3 467.3,620.9 468.0,620.5 468.7,620.4 469.4,621.0 470.1,621.2 470.8,621.7 471.5,621.9 472.2,621.4 472.9,621.2 473.6,621.2 474.3,620.8 475.0,620.1 475.7,620.2 476.4,619.9 477.1,619.5 477.8,618.7 478.5,618.4 479.2,618.1 479.9,617.0 480.6,614.4 481.3,610.2 482.0,602.5 482.5,594.3 482.7,590.7 483.0,586.5 483.4,583.1 483.5,583.1 484.0,586.7 484.1,587.7 484.5,593.6 484.8,598.1 485.5,606.9 486.2,612.2 486.9,615.4 487.6,617.1 488.3,618.6 489.0,619.3 489.7,619.3 490.4,619.7 491.1,619.5 491.8,619.0 492.5,619.3 493.2,619.9 493.9,620.4 494.6,621.1 495.3,621.5 496.0,621.4 496.7,621.1 497.4,621.1 498.1,620.3 498.8,620.6 499.5,620.4 500.2,620.8 500.9,620.7 501.6,621.2 502.3,621.5 503.0,621.9 503.7,621.3 504.4,621.5 505.1,621.4 505.8,620.6 506.5,620.6 507.2,620.9 507.9,620.4 508.6,620.7 509.3,620.8 510.0,621.0 510.7,621.6 511.4,621.6 512.1,622.0 512.8,622.3 513.5,621.9 514.2,621.5 514.9,621.1 515.6,620.6 516.3,620.3 517.0,620.3 517.7,620.5 518.4,620.7 519.1,621.1 519.8,621.5 520.5,621.8 521.2,621.7 521.9,621.8 522.6,621.2 523.3,621.2 524.0,620.6 524.7,620.7 525.4,621.3 526.1,621.7 526.8,621.5 527.5,621.6 528.2,621.5 528.9,621.0 529.6,620.7 530.3,620.9 531.0,620.9 531.7,621.3 532.4,621.4 533.1,621.2 533.8,621.2 534.5,620.9 535.2,620.6 535.9,620.2 536.6,620.4 537.3,619.9 538.0,620.3 538.7,620.5 539.4,621.0 540.1,620.7 540.8,621.2 541.5,621.2 542.2,620.8 542.9,620.1 543.6,620.0 544.3,619.0 544.7,618.6 545.0,618.6 545.2,618.5 545.7,618.6 546.2,619.6 546.4,619.6 546.7,619.8 547.1,620.7 547.8,620.9 548.5,621.3 549.2,621.2 549.9,620.9 550.6,620.4 551.3,620.0 552.0,619.6 552.7,619.4 553.4,619.5 554.1,619.5 554.8,620.0 555.5,620.0 556.2,619.4 556.9,618.4 557.6,616.8 558.3,613.7 559.0,609.6 559.7,604.2 560.0,601.4 560.4,597.6 560.5,596.9 561.0,594.7 561.1,594.9 561.5,596.3 561.8,599.3 562.0,600.9 562.5,605.6 563.2,610.2 563.9,614.1 564.6,615.2 565.3,617.0 566.0,617.7 566.7,618.2 567.4,618.1 568.1,618.9 568.8,618.9 569.5,618.7 570.2,619.2 570.9,619.8 571.6,619.6 572.3,619.4 573.0,619.1 573.7,619.2 574.4,619.5 575.1,619.8 575.8,619.6 576.5,619.9 577.2,619.6 577.9,619.1 578.6,619.1 579.3,619.1 580.0,619.6 580.7,619.9 581.4,619.8 582.1,619.3 582.8,618.5 583.5,617.9 584.2,617.3 584.9,616.6 585.6,616.3 586.3,615.7 587.0,613.5 587.7,610.4 588.4,605.6 589.1,597.2 589.8,587.7 589.9,586.3 590.4,580.1 590.5,579.2 590.9,578.0 591.2,579.1 591.4,581.2 591.9,587.1 592.6,596.3 593.3,604.0 594.0,609.6 594.7,613.2 595.4,615.3 596.1,616.9 596.8,617.7 597.5,617.8 598.2,617.9 598.9,618.0 599.6,618.0 600.3,618.1 601.0,618.2 601.7,617.3 602.4,616.3 603.1,614.3 603.8,611.8 604.1,610.7 604.5,610.0 604.6,609.4 605.1,609.1 605.2,609.0 605.6,609.2 605.9,609.3 606.1,610.3 606.6,611.7 607.3,614.0 608.0,616.3 608.7,617.0 609.4,617.5 610.1,617.7 610.8,618.0 611.5,617.2 612.2,617.4 612.9,617.3 613.6,617.5 614.3,616.9 615.0,615.9 615.7,613.9 616.4,610.9 617.1,604.8 617.8,596.5 618.4,588.5 618.5,587.1 618.9,582.4 619.2,580.3 619.4,579.9 619.9,582.4 620.4,588.0 620.6,590.6 621.3,599.7 622.0,606.9 622.7,611.7 623.4,615.2 624.1,617.2 624.8,618.2 625.5,618.5 626.2,618.5 626.9,618.7 627.6,618.6 628.3,619.1 629.0,619.6 629.7,620.5 630.4,620.8 631.1,620.8 631.8,621.0 632.5,620.7 633.2,620.7 633.9,621.1 634.6,621.1 635.3,620.9 636.0,621.6 636.7,621.2 637.4,620.7 638.1,620.9 638.8,621.0 639.5,620.8 640.2,620.5 640.9,619.8 641.6,619.9 642.3,620.1 643.0,619.9 643.7,620.4 644.4,621.0 645.1,620.9 645.8,620.5 646.5,620.5 647.2,620.4 647.9,620.9 648.6,620.9 649.3,621.3 650.0,621.5 650.7,621.9 651.4,621.6 652.1,621.3 652.8,621.2 653.5,621.1 654.2,620.8 654.9,620.5 655.6,620.3 656.3,620.0 657.0,619.7 657.7,618.5 658.4,617.1 659.1,615.7 659.2,615.0 659.7,614.2 659.8,615.0 660.2,615.2 660.5,615.7 660.7,616.7 661.2,617.3 661.9,617.5 662.6,618.3 663.3,619.7 664.0,619.7 664.7,619.5 665.4,620.0 666.1,620.5 666.8,619.7 667.5,619.9 668.2,620.2 668.9,620.2 669.6,619.4 670.3,618.6 671.0,617.0 671.7,615.1 672.4,611.6 673.1,607.6 673.3,606.9 673.8,604.7 674.3,603.1 674.5,603.5 674.8,604.2 675.2,606.5 675.3,606.9 675.9,611.0 676.6,614.8 677.3,617.5 678.0,618.1 678.7,618.4 679.4,619.2 680.1,619.7 680.8,619.9 681.5,620.1 682.2,620.3 682.9,619.9 683.6,619.8 684.3,620.0 685.0,620.4 685.7,620.7 686.4,620.7 687.1,620.7 687.8,620.5 688.5,620.8 689.2,621.1 689.9,620.9 690.6,621.2 691.3,621.2 692.0,620.9 692.7,621.0 693.4,621.2 694.1,620.9 694.8,620.9 695.5,621.5 696.2,621.1 696.9,621.7 697.6,621.9 698.3,621.5 699.0,621.3 699.7,621.5 700.4,620.9 701.1,620.8 701.8,621.3 702.5,621.2 703.2,621.1 703.9,621.5 704.6,621.2 705.3,621.0 706.0,621.3 706.7,621.1 707.4,620.6 708.1,620.7 708.8,620.5 709.5,619.9 710.2,620.2 710.9,620.3 711.6,620.6 712.3,620.8 713.0,621.1 713.7,620.9 714.4,621.4 715.1,620.9 715.8,620.6 716.5,620.5 717.2,621.0 717.9,620.7 718.6,621.2 719.3,621.8 720.0,622.4 720.7,622.5 721.4,622.4 722.1,622.3 722.8,622.0 723.5,621.7 724.2,621.3 724.9,621.5 725.6,621.5 726.3,621.0 727.0,621.0 727.7,620.9 728.4,620.8 729.1,621.3 729.8,621.6 730.5,621.3 731.2,621.3 731.9,621.6 732.6,621.3 733.3,621.3 734.0,621.7 734.7,621.5 735.4,621.7 736.1,621.6 736.8,621.5 737.5,621.0 738.2,621.1 738.9,621.0 739.6,620.6 740.3,620.9 741.0,621.2 741.7,621.1 742.4,620.6 743.1,620.7 743.8,620.4 744.5,620.2 745.2,620.0 745.9,620.3 746.6,620.6 747.3,621.2 748.0,621.2 748.7,621.2 749.4,621.2 750.1,621.3 750.8,620.5 751.5,620.4 752.2,620.6 752.9,620.7 753.6,620.7 754.3,621.1 755.0,621.1 755.7,621.3 756.4,621.1 757.1,621.5 757.8,621.2 758.5,621.1 759.2,620.8 759.9,620.8 760.6,620.4 761.3,620.5 762.0,620.9 762.7,620.5 763.4,620.4 764.1,620.2 764.8,620.0 765.5,620.1 766.2,620.5 766.9,620.0 767.6,619.8 768.3,619.7 769.0,619.6 769.7,620.1 770.4,620.5 771.1,620.8 771.8,620.4 772.5,620.7 773.2,619.9 773.9,619.9 774.6,619.1 775.3,619.1 776.0,618.1 776.7,616.9 777.4,615.0 777.9,613.7 778.1,613.0 778.4,612.2 778.8,611.7 778.9,611.7 779.4,612.2 779.5,612.4 779.9,613.5 780.2,614.8 780.9,616.5 781.6,618.0 782.3,619.1 783.0,619.8 783.7,619.8 784.4,620.5 785.1,620.7 785.8,620.6 786.5,619.9 787.2,620.1 787.9,619.9 788.6,619.8 789.3,620.1 790.0,620.3 790.7,620.4 791.4,620.5 792.1,621.0 792.8,620.7 793.5,621.3 794.2,621.2 794.9,621.3 795.6,620.4 796.3,620.6 797.0,620.4 797.7,619.8 798.4,619.3 799.1,619.3 799.8,618.7 800.5,617.2 801.2,615.5 801.9,612.5 802.6,609.5 803.3,604.8 803.7,602.1 804.0,600.4 804.2,599.9 804.7,598.4 805.2,599.7 805.4,601.2 805.7,603.2 806.1,605.2 806.8,609.4 807.5,612.7 808.2,614.9 808.9,616.4 809.6,618.3 810.3,619.0 811.0,620.0 811.7,619.9 812.4,620.3 813.1,620.3 813.8,620.1 814.5,619.1 815.2,618.8 815.9,618.0 816.0,618.1 816.5,617.4 816.6,617.6 817.0,617.3 817.3,617.5 817.5,617.2 818.0,618.2 818.7,619.2 819.4,620.2 820.1,620.6 820.8,620.7 821.5,620.5 822.2,620.3 822.9,620.2 823.6,620.0 824.3,619.8 825.0,619.5 825.7,618.8 826.4,617.9 827.1,616.3 827.8,615.6 828.3,615.5 828.5,615.6 828.8,615.5 829.2,616.4 829.3,616.6 829.8,617.0 829.9,617.2 830.6,618.2 831.3,618.9 832.0,619.5 832.7,619.6 833.4,619.7 834.1,619.8 834.8,619.9 835.5,619.2 836.2,619.7 836.9,619.9 837.6,620.1 838.3,620.1 839.0,620.5 839.7,620.5 840.4,620.3 841.1,620.2 841.8,620.5 842.5,620.8 843.2,621.0 843.9,621.2 844.6,621.3 845.3,620.9 846.0,620.6 846.7,620.2 847.4,620.3 848.1,620.7 848.8,621.0 849.5,621.6 850.2,621.5 850.9,621.2 851.6,621.0 852.3,620.9 853.0,620.4 853.7,620.9 854.4,620.9 855.1,620.9 855.8,620.6 856.5,621.1 857.2,621.0 857.9,621.4 858.6,621.1 859.3,621.2 860.0,621.6 860.7,621.3 861.4,621.0 862.1,621.2 862.8,620.8 863.5,620.3 864.2,620.3 864.9,619.6 865.2,619.5 865.6,619.9 865.7,619.6 866.2,619.1 866.3,619.6 866.7,619.7 867.0,619.0 867.2,618.8 867.7,619.5 868.4,619.5 869.1,619.7 869.8,620.1 870.5,621.0 871.2,620.4 871.9,620.7 872.6,620.7 873.3,620.8 874.0,620.0 874.7,620.2 875.4,620.1 876.1,620.3 876.8,619.9 877.5,620.3 878.2,620.2 878.9,620.3 879.6,620.1 880.3,620.6 881.0,620.5 881.7,620.8 882.4,620.9 883.1,620.5 883.8,619.9 884.5,619.6 885.2,619.6 885.9,619.1 886.6,619.3 887.3,620.4 888.0,620.7 888.7,620.6 889.4,621.1 890.1,621.6 890.8,620.9 891.5,621.1 892.2,620.6 892.9,620.6 893.6,620.6 894.3,620.2 895.0,620.5 895.7,621.5 896.4,620.7 897.1,620.5 897.8,621.4 898.5,621.3 899.2,620.6 899.9,621.1 900.6,621.1 901.3,620.9 902.0,620.5 902.7,620.3 903.4,620.5 904.1,620.4 904.8,620.6 905.3,620.6" fill="none" stroke="#ff0000" stroke-width="3.00" stroke-linejoin="round" stroke-linecap="butt"/>
<polyline points="20.7,745.3 21.4,745.6 22.1,745.0 22.8,745.3 23.5,745.6 24.2,745.8 24.9,745.9 25.6,745.4 26.3,745.8 27.0,745.8 27.7,745.7 28.4,745.0 29.1,744.8 29.8,744.5 30.5,744.3 31.2,743.9 31.9,743.5 32.6,743.9 33.3,744.4 34.0,744.9 34.7,745.0 35.4,744.5 36.1,744.6 36.8,744.7 37.5,745.5 38.2,745.2 38.9,744.9 39.6,743.9 40.3,744.0 41.0,743.4 41.7,743.6 42.4,744.2 43.1,744.2 43.8,745.0 44.5,744.7 45.2,745.4 45.9,745.3 46.6,745.4 47.3,745.9 48.0,745.6 48.7,745.2 49.4,744.6 50.1,744.3 50.8,744.5 51.5,744.5 52.2,745.2 52.9,744.6 53.6,744.4 54.3,743.7 55.0,743.6 55.7,744.7 56.4,744.2 57.1,744.9 57.8,744.0 58.5,745.5 59.2,744.8 59.9,745.4 60.6,744.6 61.3,745.2 62.0,744.6 62.7,745.1 63.4,744.7 64.1,744.9 64.8,744.8 65.5,745.9 66.2,745.1 66.9,745.5 67.6,745.2 68.3,745.9 69.0,745.5 69.7,744.9 70.4,745.7 71.1,745.7 71.8,745.8 72.5,745.1 73.2,744.9 73.9,744.9 74.6,744.7 75.3,745.5 76.0,744.9 76.7,743.9 77.4,743.1 78.1,743.7 78.8,745.2 79.5,745.2 80.2,745.2 80.9,745.2 81.6,745.6 82.3,745.5 83.0,745.2 83.7,745.6 84.4,745.9 85.1,745.7 85.8,745.9 86.5,745.9 87.2,746.1 87.9,744.8 88.6,744.6 89.3,744.5 90.0,744.6 90.7,744.0 91.4,744.1 92.1,744.9 92.8,745.2 93.5,744.8 94.2,744.7 94.9,744.8 95.6,745.7 96.3,745.9 97.0,745.8 97.7,745.4 98.4,744.9 99.1,744.5 99.8,744.8 100.5,745.2 101.2,745.7 101.9,745.2 102.6,744.5 103.3,744.0 104.0,743.5 104.7,742.9 105.4,742.0 106.1,740.3 106.8,736.9 107.0,736.2 107.5,733.8 108.0,732.8 108.2,732.0 108.5,733.0 108.9,735.9 109.0,737.0 109.6,739.8 110.3,741.5 111.0,743.2 111.7,743.7 112.4,744.6 113.1,744.5 113.8,745.3 114.5,745.1 115.2,745.2 115.9,744.3 116.6,744.1 117.3,744.1 118.0,745.0 118.7,745.3 119.4,745.2 120.1,745.1 120.8,745.4 121.5,745.6 122.2,745.3 122.9,744.8 123.6,745.2 124.3,745.6 125.0,745.4 125.7,745.2 126.4,744.8 127.1,744.9 127.8,745.2 128.5,745.7 129.2,745.7 129.9,745.3 130.6,745.2 131.3,745.2 132.0,745.2 132.7,745.2 133.4,744.8 134.1,745.0 134.8,745.0 135.5,745.8 136.2,745.2 136.9,745.1 137.6,744.6 138.3,745.3 139.0,745.4 139.7,745.8 140.4,745.3 141.1,744.9 141.8,745.1 142.5,745.1 143.2,745.5 143.9,745.3 144.6,745.6 145.3,746.3 146.0,746.1 146.7,747.0 147.4,745.4 148.1,744.5 148.8,744.1 149.5,745.1 150.2,745.8 150.9,745.4 151.6,744.5 152.3,744.4 153.0,744.0 153.7,744.6 154.4,745.2 155.1,745.6 155.8,745.8 156.5,745.2 157.2,745.0 157.9,744.9 158.6,745.1 159.3,745.7 160.0,745.4 160.7,746.2 161.4,745.3 162.1,746.1 162.8,745.1 163.5,746.0 164.2,745.7 164.9,746.1 165.6,745.8 166.3,745.5 167.0,745.0 167.7,744.0 168.4,744.7 169.1,744.8 169.8,745.3 170.5,744.9 171.2,745.8 171.9,745.4 172.6,745.5 173.3,744.7 174.0,745.5 174.7,744.7 175.4,744.7 176.1,744.9 176.8,746.1 177.5,746.8 178.2,746.2 178.9,745.6 179.6,745.0 180.3,744.8 181.0,744.3 181.7,744.6 182.4,745.2 183.1,745.7 183.8,745.9 184.5,745.4 185.2,745.6 185.9,745.2 186.6,745.5 187.3,745.5 188.0,745.6 188.7,745.7 189.4,745.6 190.1,746.3 190.8,746.1 191.5,746.3 192.2,745.9 192.9,745.8 193.6,745.8 194.3,745.2 195.0,745.8 195.7,745.2 196.4,745.3 197.1,745.0 197.8,745.6 198.5,746.1 199.2,746.4 199.9,746.0 200.6,745.3 201.3,745.2 202.0,745.3 202.7,745.3 203.4,745.5 204.1,745.5 204.8,745.5 205.5,745.3 206.2,744.7 206.9,744.7 207.6,744.7 208.3,744.6 209.0,745.0 209.7,744.3 210.4,745.2 211.1,744.9 211.8,745.5 212.5,744.6 213.2,744.8 213.9,745.1 214.6,745.8 215.3,745.2 216.0,745.2 216.7,745.4 217.4,745.9 218.1,746.1 218.8,745.4 219.5,745.5 220.2,745.4 220.9,746.2 221.6,746.8 222.3,745.9 223.0,744.8 223.7,744.5 224.4,744.3 225.1,744.9 225.8,744.3 226.5,745.2 227.2,745.6 227.9,746.2 228.6,745.9 229.3,745.6 230.0,745.3 230.7,745.4 231.4,745.5 232.1,745.7 232.8,745.4 233.5,746.0 234.2,745.9 234.9,746.6 235.6,746.4 236.3,745.9 237.0,744.8 237.7,744.7 238.4,744.9 239.1,745.5 239.8,744.9 240.5,745.1 241.2,744.6 241.9,744.6 242.6,744.2 243.3,744.6 244.0,743.6 244.7,743.9 245.4,743.7 246.1,743.4 246.8,741.8 247.5,739.9 248.2,737.3 248.7,734.2 248.9,733.2 249.2,730.9 249.6,729.0 249.7,728.1 250.2,730.1 250.3,730.8 250.7,734.3 251.0,736.5 251.7,740.8 252.4,743.1 253.1,743.8 253.8,744.2 254.5,743.9 255.2,744.0 255.9,743.5 256.6,743.6 257.3,743.5 258.0,743.6 258.7,743.8 259.4,744.3 260.1,744.6 260.8,744.9 261.5,744.8 262.2,744.9 262.9,743.5 263.6,741.5 264.3,740.0 265.0,738.8 265.5,738.8 265.7,738.5 266.0,738.7 266.4,738.6 266.5,738.8 267.0,738.9 267.1,738.3 267.8,739.5 268.5,741.7 269.2,742.9 269.9,744.1 270.6,743.8 271.3,744.5 272.0,744.3 272.7,744.8 273.4,744.7 274.1,744.8 274.8,744.9 275.5,745.6 276.2,745.3 276.9,745.8 277.6,746.2 278.3,747.4 279.0,746.3 279.7,745.7 280.4,744.1 281.1,744.8 281.8,744.9 282.5,745.2 283.2,744.5 283.9,744.3 284.6,745.0 285.3,745.3 286.0,745.1 286.7,744.0 287.4,744.0 288.1,744.1 288.8,745.1 289.5,746.0 290.2,745.5 290.9,744.6 291.6,744.1 292.3,744.3 293.0,745.3 293.7,745.3 294.4,745.7 295.1,746.1 295.8,746.4 296.5,745.5 297.2,744.9 297.9,745.1 298.6,745.5 299.3,745.8 300.0,744.9 300.7,744.8 301.4,744.9 302.1,745.2 302.8,745.1 303.5,744.6 304.2,743.4 304.9,742.8 305.6,742.2 306.3,741.7 307.0,740.1 307.7,737.4 308.4,732.9 309.1,726.3 309.8,716.4 310.3,709.3 310.5,706.8 310.8,705.3 311.2,707.3 311.3,709.0 311.8,716.5 311.9,718.6 312.6,728.0 313.3,734.3 314.0,738.3 314.7,740.5 315.4,742.0 316.1,741.9 316.8,742.4 317.5,743.2 318.2,743.7 318.9,743.5 319.6,743.0 320.3,744.0 321.0,745.0 321.7,744.7 322.4,743.6 323.1,742.4 323.8,741.4 324.5,740.7 325.1,739.7 325.2,739.4 325.6,738.8 325.9,738.6 326.1,738.8 326.6,738.9 327.1,739.9 327.3,741.2 328.0,742.6 328.7,743.1 329.4,743.3 330.1,743.9 330.8,744.2 331.5,744.7 332.2,744.6 332.9,744.8 333.6,744.1 334.3,744.2 335.0,744.5 335.7,745.0 336.4,745.9 337.1,746.3 337.8,746.1 338.5,745.1 339.2,744.9 339.9,744.5 340.6,745.0 341.3,745.4 342.0,745.8 342.7,745.8 343.4,745.2 344.1,745.1 344.8,745.2 345.5,745.2 346.2,745.0 346.9,745.3 347.6,745.0 348.3,745.1 349.0,744.3 349.7,745.5 350.4,745.9 351.1,746.5 351.8,746.1 352.5,746.0 353.2,745.9 353.9,745.2 354.6,745.2 355.3,745.3 356.0,745.4 356.7,745.6 357.4,745.6 358.1,745.6 358.8,745.1 359.5,744.7 360.2,745.1 360.9,745.4 361.6,745.1 362.3,745.2 363.0,745.1 363.7,745.9 364.4,746.0 365.1,745.8 365.8,745.8 366.5,745.0 367.2,745.5 367.9,745.1 368.6,745.4 369.3,744.9 370.0,744.3 370.7,744.0 371.4,744.1 372.1,744.5 372.8,745.5 373.5,745.3 374.2,745.1 374.9,744.5 375.6,745.4 376.3,745.9 377.0,746.1 377.7,745.1 378.4,744.6 379.1,744.8 379.8,745.3 380.5,746.2 381.2,746.7 381.9,746.6 382.6,745.9 383.3,745.2 384.0,744.2 384.7,744.1 385.4,744.6 386.1,745.3 386.8,745.8 387.5,745.2 388.2,745.6 388.9,745.6 389.6,746.1 390.3,745.9 391.0,745.0 391.7,744.8 392.4,744.3 393.1,745.8 393.8,745.9 394.5,746.1 395.2,745.7 395.9,745.4 396.6,746.1 397.3,745.6 398.0,745.9 398.7,745.1 399.4,745.6 400.1,744.9 400.8,745.4 401.5,744.8 402.2,745.7 402.9,745.0 403.6,745.4 404.3,745.4 405.0,746.1 405.7,746.1 406.4,746.3 407.1,746.4 407.8,746.2 408.5,745.5 409.2,744.7 409.9,745.1 410.6,745.3 411.3,746.2 412.0,746.0 412.7,745.7 413.4,745.7 414.1,746.4 414.8,746.7 415.5,746.0 416.2,745.0 416.9,745.4 417.6,745.5 418.3,745.7 419.0,745.6 419.7,745.8 420.4,746.0 421.1,745.6 421.8,745.3 422.5,745.3 423.2,745.6 423.9,746.1 424.6,745.8 425.3,745.9 426.0,745.8 426.7,746.1 427.4,746.1 428.1,746.3 428.8,746.4 429.5,746.2 430.2,745.5 430.9,745.5 431.6,745.5 432.3,745.7 433.0,745.3 433.7,745.5 434.4,746.6 435.1,747.0 435.8,746.9 436.5,746.1 437.2,745.7 437.9,745.7 438.6,745.3 439.3,745.3 440.0,745.3 440.7,745.6 441.4,745.8 442.1,745.4 442.8,745.5 443.5,745.1 444.2,745.7 444.9,745.4 445.6,745.8 446.3,745.8 447.0,746.1 447.7,745.6 448.4,745.2 449.1,745.1 449.8,745.2 450.5,744.4 451.2,744.2 451.9,744.5 452.6,745.5 453.3,745.4 454.0,745.3 454.7,745.0 455.4,745.2 456.1,744.6 456.8,743.5 457.5,740.5 458.1,737.8 458.2,736.9 458.6,735.3 458.9,733.1 459.1,733.0 459.6,734.0 460.1,737.2 460.3,738.6 461.0,741.9 461.7,743.8 462.4,744.1 463.1,745.2 463.8,745.8 464.5,746.4 465.2,745.5 465.9,745.8 466.6,745.9 467.3,746.1 468.0,745.6 468.7,744.9 469.4,745.2 470.1,744.9 470.8,745.8 471.5,745.4 472.2,745.6 472.9,745.5 473.6,745.7 474.3,745.5 475.0,745.4 475.7,745.5 476.4,745.9 477.1,745.4 477.8,745.1 478.5,744.8 479.2,745.1 479.9,745.2 480.6,745.6 481.3,745.7 482.0,745.1 482.7,745.2 483.4,745.2 484.1,745.7 484.8,745.6 485.5,746.4 486.2,746.1 486.9,745.5 487.6,745.0 488.3,745.2 489.0,746.3 489.7,745.6 490.4,745.8 491.1,745.6 491.8,746.3 492.5,746.6 493.2,746.5 493.9,746.1 494.6,745.8 495.3,745.5 496.0,746.1 496.7,746.5 497.4,746.6 498.1,746.2 498.8,746.2 499.5,746.7 500.2,746.5 500.9,746.2 501.6,745.9 502.3,746.9 503.0,747.0 503.7,747.3 504.4,745.8 505.1,746.0 505.8,745.0 506.5,745.2 507.2,744.6 507.9,745.0 508.6,745.5 509.3,745.8 510.0,746.0 510.7,745.7 511.4,746.5 512.1,746.5 512.8,746.9 513.5,746.6 514.2,746.7 514.9,746.6 515.6,745.9 516.3,746.0 517.0,745.2 517.7,744.4 518.4,743.3 519.1,742.3 519.8,741.6 520.5,741.0 521.2,740.5 521.9,739.8 522.4,739.2 522.6,738.8 522.9,738.8 523.3,738.4 523.4,738.5 523.9,738.8 524.0,739.1 524.7,740.4 525.4,741.4 526.1,742.7 526.8,744.0 527.5,745.1 528.2,745.1 528.9,744.6 529.6,744.3 530.3,744.1 531.0,744.7 531.7,745.5 532.4,746.3 533.1,746.2 533.8,745.8 534.5,745.6 535.2,745.7 535.9,746.1 536.6,746.6 537.3,746.3 538.0,746.9 538.7,745.6 539.4,745.2 540.1,743.9 540.8,744.3 541.5,744.9 542.2,746.2 542.9,746.3 543.6,746.8 544.3,745.9 545.0,746.2 545.7,745.5 546.4,746.4 547.1,746.4 547.8,746.5 548.5,746.5 549.2,746.6 549.9,747.0 550.6,746.1 551.3,745.7 552.0,745.0 552.7,745.0 553.4,745.8 554.1,746.5 554.8,746.5 555.5,746.2 556.2,745.7 556.9,746.1 557.6,745.6 558.3,745.5 559.0,744.9 559.7,744.7 560.4,744.3 561.1,743.5 561.7,743.1 561.8,743.6 562.2,743.0 562.5,741.5 562.7,741.7 563.2,742.1 563.7,743.3 563.9,742.9 564.6,743.5 565.3,744.7 566.0,744.6 566.7,745.0 567.4,744.4 568.1,745.6 568.8,745.7 569.5,746.6 570.2,746.6 570.9,746.3 571.6,745.9 572.3,745.7 573.0,746.2 573.7,746.2 574.4,746.3 575.1,746.6 575.8,746.5 576.5,746.1 577.2,746.0 577.9,746.3 578.6,746.4 579.3,745.8 580.0,746.4 580.7,746.2 581.4,746.8 582.1,746.1 582.8,746.2 583.5,746.2 584.2,745.9 584.9,746.0 585.6,746.4 586.3,746.9 587.0,747.0 587.7,746.7 588.4,746.6 589.1,747.0 589.8,746.6 590.5,746.7 591.2,746.4 591.9,746.8 592.6,746.3 593.3,745.5 594.0,746.0 594.7,746.0 595.4,746.4 596.1,746.0 596.8,746.4 597.5,745.8 598.2,744.9 598.9,744.8 599.6,745.2 600.3,745.8 601.0,745.8 601.7,746.2 602.4,745.8 603.1,745.2 603.8,745.4 604.5,745.7 605.2,745.9 605.9,744.8 606.6,745.2 607.3,745.2 608.0,745.6 608.7,745.6 609.4,746.2 610.1,746.8 610.8,746.1 611.5,744.9 612.2,744.3 612.9,744.7 613.6,745.5 614.3,746.2 615.0,746.4 615.7,746.3 616.4,746.2 617.1,746.0 617.8,746.2 618.5,746.4 619.2,745.9 619.9,746.4 620.6,746.4 621.3,746.3 622.0,745.8 622.7,745.4 623.4,745.7 624.1,745.6 624.8,745.3 625.5,745.8 626.2,745.8 626.9,745.3 627.6,745.7 628.3,746.2 629.0,746.7 629.7,746.6 630.4,747.0 631.1,746.7 631.8,746.3 632.5,745.3 633.2,746.1 633.9,746.2 634.6,745.8 635.3,746.1 636.0,746.1 636.7,746.9 637.4,747.2 638.1,747.1 638.8,746.6 639.5,746.1 640.2,746.4 640.9,746.7 641.6,746.4 642.3,747.4 643.0,747.5 643.7,747.6 644.4,746.6 645.1,746.5 645.8,745.7 646.5,745.5 647.2,745.6 647.9,745.8 648.6,745.8 649.3,745.5 650.0,745.6 650.7,746.4 651.4,746.6 652.1,746.8 652.8,745.4 653.5,745.0 654.2,744.5 654.9,744.5 655.6,744.3 656.3,745.2 656.8,745.6 657.0,746.1 657.3,745.6 657.7,746.1 657.8,745.3 658.3,744.3 658.4,743.3 658.8,743.8 659.1,744.3 659.8,744.2 660.5,744.6 661.2,745.5 661.9,746.0 662.6,745.9 663.3,745.9 664.0,745.8 664.7,745.9 665.4,745.7 666.1,745.0 666.8,745.9 667.5,745.8 668.2,746.8 668.9,746.2 669.6,746.4 670.3,745.6 671.0,746.0 671.7,745.8 672.4,746.0 673.1,745.9 673.3,745.1 673.8,744.9 674.3,743.5 674.5,743.5 674.8,744.0 675.2,743.8 675.3,744.5 675.9,744.3 676.6,745.4 677.3,745.4 678.0,746.2 678.7,746.4 679.4,746.3 680.1,745.4 680.8,745.5 681.5,745.6 682.2,746.2 682.9,746.3 683.6,746.5 684.3,745.6 685.0,745.0 685.7,745.4 686.4,745.9 687.1,747.1 687.8,746.8 688.5,747.2 689.2,746.8 689.9,747.0 690.6,746.9 691.3,747.1 692.0,747.0 692.7,747.0 693.4,746.5 694.1,747.3 694.8,747.3 695.5,747.7 696.2,745.9 696.9,745.6 697.6,744.9 698.3,746.0 699.0,746.1 699.7,746.1 700.4,746.0 701.1,746.5 701.8,747.3 702.5,747.2 703.2,747.3 703.9,746.6 704.6,747.1 705.3,746.4 706.0,747.0 706.7,747.6 707.4,747.8 708.1,747.9 708.8,746.5 709.5,746.4 710.2,746.9 710.9,747.5 711.6,747.9 712.3,746.3 713.0,746.3 713.7,745.8 714.4,746.9 715.1,746.7 715.8,748.0 716.5,747.1 717.2,747.4 717.9,745.8 718.6,746.0 719.3,746.3 720.0,747.1 720.7,746.7 721.4,746.5 722.1,746.9 722.8,747.5 723.5,747.7 724.2,746.8 724.9,747.3 725.6,747.2 726.3,747.0 727.0,747.0 727.7,746.6 728.4,747.6 729.1,746.1 729.8,746.1 730.5,745.2 731.2,746.3 731.9,746.4 732.6,746.8 733.3,746.3 734.0,746.8 734.7,746.9 735.4,747.2 736.1,746.4 736.8,746.1 737.5,745.7 738.2,746.0 738.9,746.7 739.6,747.2 740.3,747.2 741.0,747.0 741.7,746.9 742.4,747.2 743.1,747.4 743.8,747.2 744.5,746.2 745.2,746.0 745.9,745.4 746.6,746.0 747.3,746.6 748.0,746.6 748.7,747.0 749.4,746.5 750.1,747.0 750.8,746.5 751.5,747.0 752.2,746.8 752.9,746.2 753.6,746.1 754.3,746.3 755.0,747.3 755.7,747.4 756.4,747.0 757.1,746.9 757.8,746.7 758.5,747.1 759.2,747.1 759.9,747.1 760.6,746.9 761.3,746.8 762.0,747.1 762.7,746.9 763.4,746.9 764.1,746.1 764.8,746.0 765.5,745.8 766.2,746.1 766.9,746.9 767.6,746.8 767.7,747.0 768.2,746.6 768.3,746.6 768.7,745.1 769.0,745.0 769.2,745.0 769.7,745.9 770.4,746.1 771.1,746.8 771.8,746.9 772.5,746.8 773.2,746.7 773.9,746.5 774.6,746.3 775.3,746.1 776.0,747.2 776.7,748.0 777.4,748.2 778.1,748.7 778.8,748.4 779.5,747.7 780.2,746.8 780.9,746.9 781.6,747.5 782.3,746.8 783.0,746.8 783.7,746.3 784.4,747.0 785.1,747.4 785.8,747.6 786.5,747.5 787.2,746.9 787.9,746.7 788.6,747.7 789.3,748.1 790.0,748.6 790.7,747.6 791.4,747.1 792.1,746.9 792.8,746.3 793.5,746.9 794.2,746.4 794.9,747.2 795.6,747.0 796.3,747.2 797.0,747.3 797.7,747.4 798.4,748.4 799.1,748.4 799.8,748.8 800.5,748.3 801.2,748.1 801.9,747.7 802.6,747.4 803.3,747.5 804.0,747.4 804.7,748.0 805.4,748.1 806.1,747.3 806.8,747.4 807.5,747.4 808.2,747.8 808.9,747.0 809.6,747.2 810.3,747.4 811.0,748.0 811.7,747.7 812.4,748.1 813.1,747.8 813.8,748.0 814.5,747.5 815.2,748.0 815.9,747.6 816.6,747.4 817.3,747.0 818.0,747.0 818.7,746.8 819.4,746.5 820.1,747.0 820.8,747.8 821.5,747.9 822.2,747.9 822.9,746.9 823.6,747.0 824.3,746.6 825.0,747.1 825.7,747.5 826.4,747.0 827.1,746.4 827.8,746.3 828.5,746.9 829.2,748.2 829.9,748.1 830.6,747.9 831.3,747.6 832.0,746.7 832.7,746.3 833.4,746.8 834.1,747.6 834.8,748.3 835.5,747.2 836.2,747.1 836.9,747.1 837.6,746.7 838.3,747.3 839.0,747.7 839.7,748.4 840.4,747.7 841.1,746.7 841.8,746.3 842.5,746.2 843.2,747.1 843.9,746.7 844.6,746.8 845.3,746.7 846.0,747.4 846.7,747.8 847.4,747.3 848.1,746.9 848.8,747.6 849.5,748.4 850.2,748.4 850.9,748.3 851.6,747.9 852.3,748.2 853.0,747.2 853.7,747.9 854.4,747.9 855.1,748.2 855.8,747.3 856.5,746.8 857.2,746.9 857.9,747.2 858.6,748.3 859.3,747.9 860.0,747.7 860.7,747.5 861.4,748.2 862.1,748.1 862.8,748.2 863.5,748.1 864.2,748.7 864.9,748.3 865.6,748.5 866.3,748.0 867.0,747.8 867.7,747.9 868.4,748.2 869.1,748.4 869.8,748.4 870.5,748.3 871.2,748.4 871.9,747.1 872.6,746.9 873.3,747.0 874.0,747.5 874.7,747.6 875.4,747.4 876.1,747.7 876.8,748.1 877.5,748.2 878.2,748.2 878.9,748.3 879.6,748.0 880.3,747.8 881.0,747.5 881.7,747.9 882.4,748.1 883.1,747.6 883.8,747.1 884.5,747.3 885.2,747.9 885.9,748.8 886.6,748.6 887.3,748.3 888.0,746.9 888.7,747.4 889.4,747.8 890.1,748.6 890.8,747.9 891.5,746.6 892.2,746.9 892.9,746.8 893.6,748.4 894.3,748.4 895.0,749.1 895.7,748.5 896.4,748.7 897.1,747.7 897.8,748.3 898.5,747.9 899.2,748.0 899.9,747.3 900.6,746.9 901.3,747.5 902.0,747.3 902.7,747.2 903.4,747.0 904.1,747.2 904.8,747.8 905.3,748.1" fill="none" stroke="#141414" stroke-width="2.90" stroke-linejoin="round" stroke-linecap="butt"/>
<line x1="20.7" y1="97.4" x2="20.7" y2="765.4" stroke="#1a1a1a" stroke-width="2.40"/>
<path d="M19.5,97.4 L905.8,97.4 L905.8,765.4" fill="none" stroke="#1a1a1a" stroke-width="2.40" stroke-linejoin="round"/>
<line x1="19.5" y1="751.8" x2="905.8" y2="751.8" stroke="#1a1a1a" stroke-width="2.30"/>
<text x="20.7" y="794.4" font-family='"Liberation Serif", serif' font-size="25.6" text-anchor="middle" fill="#1e1e1e">10</text>
<line x1="83.9" y1="751.8" x2="83.9" y2="759.2" stroke="#1a1a1a" stroke-width="2.00"/>
<line x1="147.1" y1="751.8" x2="147.1" y2="765.4" stroke="#1a1a1a" stroke-width="2.00"/>
<text x="147.1" y="794.4" font-family='"Liberation Serif", serif' font-size="25.6" text-anchor="middle" fill="#1e1e1e">20</text>
<line x1="210.4" y1="751.8" x2="210.4" y2="759.2" stroke="#1a1a1a" stroke-width="2.00"/>
<line x1="273.6" y1="751.8" x2="273.6" y2="765.4" stroke="#1a1a1a" stroke-width="2.00"/>
<text x="273.6" y="794.4" font-family='"Liberation Serif", serif' font-size="25.6" text-anchor="middle" fill="#1e1e1e">30</text>
<line x1="336.8" y1="751.8" x2="336.8" y2="759.2" stroke="#1a1a1a" stroke-width="2.00"/>
<line x1="400.0" y1="751.8" x2="400.0" y2="765.4" stroke="#1a1a1a" stroke-width="2.00"/>
<text x="400.0" y="794.4" font-family='"Liberation Serif", serif' font-size="25.6" text-anchor="middle" fill="#1e1e1e">40</text>
<line x1="463.2" y1="751.8" x2="463.2" y2="759.2" stroke="#1a1a1a" stroke-width="2.00"/>
<line x1="526.5" y1="751.8" x2="526.5" y2="765.4" stroke="#1a1a1a" stroke-width="2.00"/>
<text x="526.5" y="794.4" font-family='"Liberation Serif", serif' font-size="25.6" text-anchor="middle" fill="#1e1e1e">50</text>
<line x1="589.7" y1="751.8" x2="589.7" y2="759.2" stroke="#1a1a1a" stroke-width="2.00"/>
<line x1="652.9" y1="751.8" x2="652.9" y2="765.4" stroke="#1a1a1a" stroke-width="2.00"/>
<text x="652.9" y="794.4" font-family='"Liberation Serif", serif' font-size="25.6" text-anchor="middle" fill="#1e1e1e">60</text>
<line x1="716.1" y1="751.8" x2="716.1" y2="759.2" stroke="#1a1a1a" stroke-width="2.00"/>
<line x1="779.4" y1="751.8" x2="779.4" y2="765.4" stroke="#1a1a1a" stroke-width="2.00"/>
<text x="779.4" y="794.4" font-family='"Liberation Serif", serif' font-size="25.6" text-anchor="middle" fill="#1e1e1e">70</text>
<line x1="842.6" y1="751.8" x2="842.6" y2="759.2" stroke="#1a1a1a" stroke-width="2.00"/>
<text x="905.8" y="794.4" font-family='"Liberation Serif", serif' font-size="25.6" text-anchor="middle" fill="#1e1e1e">80</text>
<polygon points="120.6,226.8 127.3,235.0 120.6,243.2 113.9,235.0" fill="#0c0c0c"/>
<polygon points="158.6,254.3 165.3,262.5 158.6,270.7 151.9,262.5" fill="#0c0c0c"/>
<polygon points="244.6,239.8 251.3,248.0 244.6,256.2 237.9,248.0" fill="#0c0c0c"/>
<polygon points="269.4,228.8 276.1,237.0 269.4,245.2 262.7,237.0" fill="#0c0c0c"/>
<polygon points="315.2,120.8 321.9,129.0 315.2,137.2 308.5,129.0" fill="#0c0c0c"/>
<polygon points="358.9,230.2 365.6,238.4 358.9,246.6 352.2,238.4" fill="#0c0c0c"/>
<polygon points="377.6,255.7 384.3,263.9 377.6,272.1 370.9,263.9" fill="#0c0c0c"/>
<polygon points="412.9,233.0 419.6,241.2 412.9,249.4 406.2,241.2" fill="#0c0c0c"/>
<polygon points="433.6,257.4 440.3,265.6 433.6,273.8 426.9,265.6" fill="#0c0c0c"/>
<polygon points="486.3,223.8 493.0,232.0 486.3,240.2 479.6,232.0" fill="#0c0c0c"/>
<polygon points="560.6,233.3 567.3,241.5 560.6,249.7 553.9,241.5" fill="#0c0c0c"/>
<polygon points="588.8,214.6 595.5,222.8 588.8,231.0 582.1,222.8" fill="#0c0c0c"/>
<polygon points="603.8,256.4 610.5,264.6 603.8,272.8 597.1,264.6" fill="#0c0c0c"/>
<polygon points="622.5,218.0 629.2,226.2 622.5,234.4 615.8,226.2" fill="#0c0c0c"/>
<polygon points="661.2,261.5 667.9,269.7 661.2,277.9 654.5,269.7" fill="#0c0c0c"/>
<polygon points="674.6,243.5 681.3,251.7 674.6,259.9 667.9,251.7" fill="#0c0c0c"/>
<polygon points="778.5,248.2 785.2,256.4 778.5,264.6 771.8,256.4" fill="#0c0c0c"/>
<polygon points="806.4,236.3 813.1,244.5 806.4,252.7 799.7,244.5" fill="#0c0c0c"/>
<polygon points="828.8,257.4 835.5,265.6 828.8,273.8 822.1,265.6" fill="#0c0c0c"/>
<polygon points="868.2,256.0 874.9,264.2 868.2,272.4 861.5,264.2" fill="#0c0c0c"/>
<path d="M108.70,726.85 L101.43,718.06 C99.85,715.55 101.27,711.15 104.75,711.15 C106.96,711.15 108.23,712.56 108.70,714.76 C109.17,712.56 110.44,711.15 112.65,711.15 C116.13,711.15 117.55,715.55 115.97,718.06 Z" fill="#0c0c0c"/>
<path d="M254.10,722.15 L246.83,713.36 C245.25,710.85 246.67,706.45 250.15,706.45 C252.36,706.45 253.63,707.86 254.10,710.06 C254.57,707.86 255.84,706.45 258.05,706.45 C261.53,706.45 262.95,710.85 261.37,713.36 Z" fill="#0c0c0c"/>
<path d="M271.10,731.35 L263.83,722.56 C262.25,720.05 263.67,715.65 267.15,715.65 C269.36,715.65 270.63,717.06 271.10,719.26 C271.57,717.06 272.84,715.65 275.05,715.65 C278.53,715.65 279.95,720.05 278.37,722.56 Z" fill="#0c0c0c"/>
<path d="M312.50,705.85 L305.23,697.06 C303.65,694.55 305.07,690.15 308.55,690.15 C310.76,690.15 312.03,691.56 312.50,693.76 C312.97,691.56 314.24,690.15 316.45,690.15 C319.93,690.15 321.35,694.55 319.77,697.06 Z" fill="#0c0c0c"/>
<path d="M331.20,734.05 L323.93,725.26 C322.35,722.75 323.77,718.35 327.25,718.35 C329.46,718.35 330.73,719.76 331.20,721.96 C331.67,719.76 332.94,718.35 335.15,718.35 C338.63,718.35 340.05,722.75 338.47,725.26 Z" fill="#0c0c0c"/>
<path d="M459.80,728.35 L452.53,719.56 C450.95,717.05 452.37,712.65 455.85,712.65 C458.06,712.65 459.33,714.06 459.80,716.26 C460.27,714.06 461.54,712.65 463.75,712.65 C467.23,712.65 468.65,717.05 467.07,719.56 Z" fill="#0c0c0c"/>
<path d="M525.30,730.05 L518.03,721.26 C516.45,718.75 517.87,714.35 521.35,714.35 C523.56,714.35 524.83,715.76 525.30,717.96 C525.77,715.76 527.04,714.35 529.25,714.35 C532.73,714.35 534.15,718.75 532.57,721.26 Z" fill="#0c0c0c"/>
<path d="M562.70,734.75 L555.43,725.96 C553.85,723.45 555.27,719.05 558.75,719.05 C560.96,719.05 562.23,720.46 562.70,722.66 C563.17,720.46 564.44,719.05 566.65,719.05 C570.13,719.05 571.55,723.45 569.97,725.96 Z" fill="#0c0c0c"/>
<path d="M676.00,738.45 L668.73,729.66 C667.15,727.15 668.57,722.75 672.05,722.75 C674.26,722.75 675.53,724.16 676.00,726.36 C676.47,724.16 677.74,722.75 679.95,722.75 C683.43,722.75 684.85,727.15 683.27,729.66 Z" fill="#0c0c0c"/>
<path d="M771.40,735.85 L764.13,727.06 C762.55,724.55 763.97,720.15 767.45,720.15 C769.66,720.15 770.93,721.56 771.40,723.76 C771.87,721.56 773.14,720.15 775.35,720.15 C778.83,720.15 780.25,724.55 778.67,727.06 Z" fill="#0c0c0c"/>
<text x="265.0" y="52.6" font-family='"Liberation Serif", serif' font-size="69.8" text-anchor="start" fill="#161616">0.16 mol</text>
<text x="302.9" y="845.0" font-family='"Liberation Serif", serif' font-size="41.2" text-anchor="start" fill="#161616">2 Theta (Degree)</text>
<text x="910.2" y="296.2" font-family='"Liberation Serif", serif' font-size="31.7" text-anchor="start" fill="#161616">1400/4h</text>
<text x="906.8" y="444.5" font-family='"Liberation Serif", serif' font-size="31.7" text-anchor="start" fill="#161616">1200/4h</text>
<text x="909.6" y="623.8" font-family='"Liberation Serif", serif' font-size="31.7" text-anchor="start" fill="#161616">1000/4h</text>
<text x="913.6" y="705.2" font-family='"Liberation Serif", serif' font-size="31.7" text-anchor="start" fill="#161616">Initial</text>
<text x="913.6" y="743.6" font-family='"Liberation Serif", serif' font-size="31.7" text-anchor="start" fill="#161616">Powder</text>
<text x="798.4" y="137.6" font-family='"Liberation Sans", sans-serif' font-size="31.3" text-anchor="start" fill="#161616" style="font-kerning:none">:<tspan x="809.3">YAG</tspan></text>
<text x="798.4" y="178.3" font-family='"Liberation Sans", sans-serif' font-size="31.3" text-anchor="start" fill="#161616" style="font-kerning:none">:<tspan x="809.0">YAP</tspan></text>
<polygon points="788.0,121.2 794.7,129.2 788.0,137.2 781.3,129.2" fill="#0c0c0c"/>
<path d="M786.80,176.90 L779.44,168.28 C777.84,165.81 779.28,161.50 782.80,161.50 C785.04,161.50 786.32,162.89 786.80,165.04 C787.28,162.89 788.56,161.50 790.80,161.50 C794.32,161.50 795.76,165.81 794.16,168.28 Z" fill="#0c0c0c"/>
</g>
<g>
<polyline points="21.7,1230.2 22.4,1230.0 23.1,1230.1 23.8,1230.1 24.5,1230.0 25.2,1229.9 25.9,1230.3 26.6,1230.9 27.3,1231.1 28.0,1231.3 28.7,1231.5 29.4,1231.3 30.1,1230.7 30.8,1230.8 31.5,1230.7 32.2,1230.3 32.9,1230.5 33.6,1230.3 34.3,1230.5 35.0,1230.9 35.7,1231.7 36.4,1231.8 37.1,1232.1 37.8,1231.8 38.5,1231.7 39.2,1231.1 39.9,1231.4 40.6,1231.4 41.3,1231.2 42.0,1231.4 42.7,1231.4 43.4,1231.5 44.1,1231.5 44.8,1231.8 45.5,1231.2 46.2,1231.1 46.9,1231.0 47.6,1231.2 48.3,1231.1 49.0,1231.5 49.7,1231.4 50.4,1231.3 51.1,1231.1 51.8,1231.0 52.5,1231.0 53.2,1231.4 53.9,1231.2 54.6,1231.3 55.3,1231.4 56.0,1231.3 56.7,1231.5 57.4,1231.6 58.1,1231.9 58.8,1232.3 59.5,1232.6 60.2,1232.6 60.9,1232.6 61.6,1232.5 62.3,1232.1 63.0,1232.2 63.7,1232.3 64.4,1232.6 65.1,1232.4 65.8,1232.5 66.5,1232.0 67.2,1231.6 67.9,1231.6 68.6,1231.5 69.3,1231.3 70.0,1231.8 70.7,1232.5 71.4,1232.4 72.1,1232.6 72.8,1232.9 73.5,1233.0 74.2,1232.8 74.9,1232.6 75.6,1232.6 76.3,1232.7 77.0,1232.2 77.7,1232.1 78.4,1232.6 79.1,1232.9 79.8,1232.6 80.5,1232.8 81.2,1232.7 81.9,1232.3 82.6,1232.1 83.3,1232.0 84.0,1232.3 84.7,1232.1 85.4,1232.2 86.1,1232.1 86.8,1232.3 87.5,1231.6 88.2,1232.1 88.9,1232.2 89.6,1232.4 90.3,1232.6 91.0,1233.2 91.7,1233.1 92.4,1233.2 93.1,1233.4 93.8,1233.3 94.5,1233.5 95.2,1233.4 95.9,1233.2 96.6,1233.1 97.3,1232.7 98.0,1232.5 98.7,1232.4 99.4,1232.2 100.1,1232.1 100.8,1232.1 101.5,1231.8 102.2,1231.5 102.9,1232.0 103.6,1232.2 104.3,1232.2 105.0,1232.3 105.7,1232.5 106.4,1232.1 107.1,1232.1 107.8,1232.1 108.5,1232.5 109.2,1232.2 109.9,1232.0 110.6,1232.0 111.3,1232.1 112.0,1231.4 112.7,1232.4 113.4,1232.9 114.1,1232.7 114.8,1232.2 115.5,1232.7 116.2,1232.1 116.9,1231.8 117.6,1231.5 118.3,1231.4 119.0,1230.6 119.7,1230.2 120.4,1229.6 121.1,1228.6 121.8,1226.6 122.5,1220.9 123.2,1204.8 123.3,1201.5 123.8,1179.3 123.9,1174.4 124.3,1164.8 124.6,1170.4 124.8,1178.0 125.3,1199.8 126.0,1218.6 126.7,1225.2 127.4,1228.0 128.1,1229.5 128.8,1230.8 129.5,1231.1 130.2,1231.5 130.9,1231.5 131.6,1231.6 132.3,1231.7 133.0,1231.7 133.7,1232.1 134.4,1232.6 135.1,1233.0 135.8,1232.9 136.5,1233.1 137.2,1233.2 137.9,1233.1 138.6,1232.8 139.3,1232.7 140.0,1233.1 140.7,1232.6 141.4,1232.6 142.1,1232.9 142.8,1233.2 143.5,1232.7 144.2,1233.2 144.9,1233.0 145.6,1233.1 146.3,1232.6 147.0,1232.8 147.7,1232.4 148.4,1232.3 149.1,1232.4 149.8,1232.4 150.5,1232.5 151.2,1232.1 151.9,1232.7 152.6,1232.6 153.3,1233.2 154.0,1233.2 154.7,1233.7 155.4,1233.3 156.1,1233.1 156.8,1232.7 157.5,1232.2 158.2,1231.3 158.9,1229.6 159.3,1227.9 159.6,1225.8 159.8,1224.4 160.3,1222.6 160.8,1224.3 161.0,1225.8 161.3,1228.1 161.7,1230.1 162.4,1231.6 163.1,1232.5 163.8,1232.6 164.5,1232.9 165.2,1232.8 165.9,1233.0 166.6,1233.3 167.3,1233.6 168.0,1233.0 168.7,1232.7 169.4,1232.5 170.1,1232.5 170.8,1231.9 171.5,1232.1 172.2,1232.5 172.9,1232.6 173.6,1232.5 174.3,1232.6 175.0,1232.5 175.7,1232.2 176.4,1232.4 177.1,1232.5 177.8,1233.0 178.5,1232.9 179.2,1232.8 179.9,1232.7 180.6,1232.7 181.3,1232.8 182.0,1233.0 182.7,1233.1 183.4,1233.3 184.1,1233.1 184.8,1232.8 185.5,1233.2 186.2,1233.6 186.9,1233.4 187.6,1233.3 188.3,1233.3 189.0,1232.4 189.7,1232.2 190.4,1232.7 191.1,1233.0 191.8,1233.0 192.5,1233.4 193.2,1233.1 193.9,1232.8 194.6,1232.9 195.3,1233.4 196.0,1234.0 196.7,1234.2 197.4,1234.4 198.1,1233.7 198.8,1233.2 199.5,1232.8 200.2,1232.5 200.9,1232.2 201.6,1232.7 202.3,1233.2 203.0,1233.2 203.7,1233.4 204.4,1233.5 205.1,1233.6 205.8,1233.7 206.5,1233.5 207.2,1233.5 207.9,1233.6 208.6,1233.5 209.3,1233.0 210.0,1233.0 210.7,1232.8 211.4,1232.8 212.1,1233.0 212.8,1233.4 213.5,1233.5 214.2,1233.3 214.9,1233.3 215.6,1232.7 216.3,1232.8 217.0,1233.1 217.7,1233.2 218.4,1233.0 219.1,1233.0 219.8,1232.7 220.5,1232.3 221.2,1232.5 221.9,1232.7 222.6,1233.2 223.3,1233.5 224.0,1233.7 224.7,1233.6 225.4,1233.7 226.1,1233.4 226.8,1232.8 227.5,1232.3 228.2,1232.8 228.9,1232.4 229.6,1232.4 230.3,1232.8 231.0,1233.0 231.7,1232.8 232.4,1233.3 233.1,1233.4 233.8,1233.4 234.5,1233.2 235.2,1232.8 235.9,1232.3 236.6,1232.2 237.3,1232.3 238.0,1232.6 238.7,1232.9 239.4,1233.0 240.1,1233.2 240.8,1232.8 241.5,1232.7 242.2,1232.4 242.9,1232.4 243.6,1231.3 244.3,1229.2 245.0,1223.6 245.3,1219.0 245.7,1210.4 245.8,1207.8 246.3,1201.1 246.4,1201.1 246.8,1207.4 247.1,1213.8 247.3,1218.4 247.8,1225.5 248.5,1229.9 249.2,1231.1 249.9,1231.8 250.6,1231.6 251.3,1232.0 252.0,1232.0 252.7,1232.4 253.4,1232.7 254.1,1233.0 254.8,1233.0 255.5,1232.4 256.2,1232.6 256.9,1232.7 257.6,1232.9 258.3,1232.9 259.0,1233.3 259.7,1232.9 260.4,1232.9 261.1,1232.5 261.8,1232.7 262.5,1232.8 263.2,1232.8 263.9,1232.5 264.6,1232.9 265.3,1232.6 266.0,1232.0 266.7,1231.8 267.4,1231.2 268.1,1230.0 268.8,1228.0 269.5,1223.6 270.1,1213.2 270.2,1210.9 270.6,1199.9 270.9,1193.0 271.1,1191.2 271.6,1200.1 272.1,1214.0 272.3,1218.2 273.0,1226.9 273.7,1229.7 274.4,1230.7 275.1,1231.0 275.8,1231.3 276.5,1231.2 277.2,1231.4 277.9,1231.8 278.6,1231.9 279.3,1231.7 280.0,1231.8 280.7,1232.0 281.4,1232.1 282.1,1232.5 282.8,1232.7 283.5,1232.7 284.2,1233.0 284.9,1232.8 285.6,1232.6 286.3,1232.6 287.0,1232.7 287.7,1232.9 288.4,1233.2 289.1,1233.6 289.8,1233.9 290.5,1234.1 291.2,1233.3 291.9,1233.3 292.6,1233.2 293.3,1232.5 294.0,1232.3 294.7,1233.0 295.4,1233.0 296.1,1233.0 296.8,1233.1 297.5,1233.4 298.2,1233.1 298.9,1233.1 299.6,1232.5 300.3,1232.6 301.0,1231.9 301.7,1231.7 302.4,1231.4 303.1,1231.6 303.8,1231.4 304.5,1231.6 305.2,1231.8 305.9,1231.7 306.6,1231.3 307.3,1231.3 308.0,1231.4 308.7,1230.9 309.4,1230.3 310.1,1230.2 310.8,1229.5 311.5,1227.7 312.2,1226.1 312.9,1223.9 313.6,1220.2 314.3,1212.4 315.0,1195.1 315.7,1154.8 315.9,1137.8 316.4,1087.0 316.9,1058.8 317.1,1064.2 317.4,1087.3 317.8,1127.5 317.9,1137.2 318.5,1181.4 319.2,1207.0 319.9,1217.2 320.6,1221.9 321.3,1225.2 322.0,1227.3 322.7,1229.0 323.4,1230.3 324.1,1231.3 324.8,1231.3 325.5,1231.8 326.2,1231.4 326.9,1231.4 327.6,1231.6 328.3,1231.8 329.0,1232.3 329.7,1232.5 330.4,1232.5 331.1,1232.4 331.8,1232.8 332.5,1232.0 333.2,1232.5 333.9,1233.1 334.6,1232.8 335.3,1232.8 336.0,1233.0 336.7,1232.9 337.4,1232.7 338.1,1233.3 338.8,1233.1 339.5,1233.2 340.2,1233.0 340.9,1233.2 341.6,1233.2 342.3,1233.6 343.0,1233.5 343.7,1233.6 344.4,1233.3 345.1,1232.9 345.8,1232.8 346.5,1232.3 347.2,1232.6 347.9,1232.8 348.6,1232.6 349.3,1232.6 350.0,1233.3 350.7,1233.2 351.4,1232.9 352.1,1233.3 352.8,1232.6 353.5,1232.1 354.2,1231.7 354.9,1231.3 355.6,1230.2 356.3,1228.0 357.0,1221.0 357.2,1217.2 357.7,1205.7 358.2,1198.4 358.4,1200.2 358.7,1206.0 359.1,1215.3 359.2,1217.3 359.8,1225.8 360.5,1229.1 361.2,1231.1 361.9,1232.0 362.6,1232.6 363.3,1232.6 364.0,1232.9 364.7,1232.1 365.4,1232.0 366.1,1232.1 366.8,1232.4 367.5,1232.8 368.2,1232.8 368.9,1233.0 369.6,1233.2 370.3,1232.7 371.0,1232.4 371.7,1232.6 372.4,1232.3 373.1,1232.2 373.8,1232.6 374.5,1232.4 375.2,1232.3 375.9,1232.4 376.6,1231.7 377.2,1229.9 377.3,1229.9 377.7,1227.7 378.0,1226.1 378.2,1225.5 378.7,1227.3 379.2,1230.3 379.4,1231.0 380.1,1233.0 380.8,1234.0 381.5,1233.9 382.2,1233.7 382.9,1233.9 383.6,1234.0 384.3,1233.8 385.0,1233.6 385.7,1233.5 386.4,1233.2 387.1,1233.1 387.8,1233.0 388.5,1233.3 389.2,1233.6 389.9,1234.0 390.6,1233.7 391.3,1233.6 392.0,1232.9 392.7,1232.6 393.4,1232.1 394.1,1232.3 394.8,1232.2 395.5,1233.0 396.2,1233.1 396.9,1233.2 397.6,1233.0 398.3,1233.0 399.0,1233.0 399.7,1233.0 400.4,1233.3 401.1,1233.2 401.8,1233.3 402.5,1232.8 403.2,1232.9 403.9,1233.1 404.6,1233.1 405.3,1233.0 406.0,1233.4 406.7,1233.7 407.4,1233.2 408.1,1233.0 408.8,1233.3 409.5,1233.0 410.2,1232.2 410.9,1232.2 411.6,1231.5 412.3,1229.7 413.0,1226.2 413.7,1218.4 413.9,1215.5 414.4,1206.8 414.9,1201.5 415.1,1202.4 415.4,1205.9 415.8,1212.4 415.9,1213.6 416.5,1222.2 417.2,1227.0 417.9,1229.3 418.6,1230.8 419.3,1232.0 420.0,1232.3 420.7,1232.9 421.4,1233.5 422.1,1233.5 422.8,1233.5 423.5,1233.4 424.2,1233.1 424.9,1233.1 425.6,1232.8 426.3,1232.9 427.0,1232.9 427.7,1232.6 428.4,1232.2 429.1,1232.3 429.8,1232.2 430.5,1231.7 431.2,1231.8 431.9,1230.8 432.3,1229.4 432.6,1227.8 432.8,1226.8 433.3,1225.2 433.8,1227.1 434.0,1228.4 434.3,1229.9 434.7,1231.3 435.4,1232.1 436.1,1232.1 436.8,1232.1 437.5,1232.1 438.2,1232.7 438.9,1232.9 439.6,1233.0 440.3,1233.3 441.0,1233.9 441.7,1233.3 442.4,1233.7 443.1,1233.9 443.8,1233.5 444.5,1233.2 445.2,1233.2 445.9,1233.2 446.6,1233.0 447.3,1233.1 448.0,1233.3 448.7,1233.6 449.4,1233.4 450.1,1233.5 450.8,1233.3 451.5,1233.6 452.2,1233.5 452.9,1233.3 453.6,1233.6 454.3,1233.4 455.0,1233.3 455.7,1233.1 456.4,1233.6 457.1,1233.2 457.8,1233.3 458.5,1232.6 459.2,1232.8 459.9,1232.3 460.6,1232.8 461.3,1233.1 462.0,1233.5 462.7,1233.5 463.4,1233.5 464.1,1233.2 464.8,1233.0 465.5,1233.0 466.2,1233.3 466.9,1233.6 467.6,1233.7 468.3,1233.9 469.0,1234.0 469.7,1233.6 470.4,1233.3 471.1,1232.9 471.8,1233.1 472.5,1232.8 473.2,1233.0 473.9,1233.2 474.6,1233.7 475.3,1233.2 476.0,1233.0 476.7,1232.6 477.4,1232.2 478.1,1231.7 478.8,1231.4 479.5,1231.2 480.2,1230.6 480.9,1229.7 481.6,1227.4 482.3,1222.8 482.9,1214.0 483.0,1212.3 483.4,1204.6 483.7,1200.3 483.9,1198.6 484.4,1204.2 484.9,1213.4 485.1,1216.8 485.8,1225.2 486.5,1229.2 487.2,1230.5 487.9,1231.5 488.6,1232.4 489.3,1232.8 490.0,1232.9 490.7,1233.0 491.4,1233.3 492.1,1232.9 492.8,1233.2 493.5,1233.1 494.2,1233.3 494.9,1233.2 495.6,1233.3 496.3,1233.0 497.0,1232.9 497.7,1232.9 498.4,1233.1 499.1,1233.2 499.8,1233.7 500.5,1233.8 501.2,1233.6 501.9,1234.0 502.6,1234.3 503.3,1234.1 504.0,1234.4 504.7,1234.2 505.4,1233.5 506.1,1232.9 506.8,1232.8 507.5,1233.0 508.2,1233.3 508.9,1233.3 509.6,1233.5 510.3,1233.8 511.0,1233.7 511.7,1233.9 512.4,1234.1 513.1,1233.9 513.8,1233.6 514.5,1233.3 515.2,1233.1 515.9,1233.4 516.6,1233.7 517.3,1233.5 518.0,1233.7 518.7,1233.8 519.4,1233.8 520.1,1233.5 520.8,1233.6 521.5,1233.4 522.2,1233.7 522.9,1233.1 523.6,1233.2 524.3,1233.4 525.0,1233.4 525.7,1233.4 526.4,1234.1 527.1,1234.4 527.8,1234.2 528.5,1234.3 529.2,1234.0 529.9,1233.6 530.6,1233.3 531.3,1233.4 532.0,1233.1 532.7,1233.1 533.4,1233.1 534.1,1233.2 534.8,1233.4 535.5,1233.6 536.2,1233.6 536.9,1233.6 537.6,1233.9 538.3,1233.7 539.0,1233.9 539.7,1234.0 540.4,1234.1 541.1,1233.4 541.8,1233.6 542.5,1233.5 543.2,1232.8 543.9,1232.5 544.6,1232.3 544.7,1231.9 545.2,1231.3 545.3,1231.5 545.7,1231.6 546.0,1231.7 546.2,1231.8 546.7,1232.3 547.4,1233.1 548.1,1233.1 548.8,1233.0 549.5,1232.8 550.2,1232.2 550.9,1232.2 551.6,1232.0 552.3,1232.3 553.0,1232.7 553.7,1233.2 554.4,1233.3 555.1,1233.1 555.8,1233.0 556.5,1233.0 557.2,1232.7 557.9,1232.1 558.6,1231.3 559.3,1229.5 560.0,1225.5 560.7,1219.0 561.2,1213.0 561.4,1211.8 561.7,1210.2 562.1,1212.2 562.2,1213.1 562.7,1218.9 562.8,1219.8 563.5,1226.5 564.2,1229.8 564.9,1231.6 565.6,1232.1 566.3,1232.4 567.0,1232.7 567.7,1232.8 568.4,1232.7 569.1,1233.2 569.8,1233.0 570.5,1232.8 571.2,1233.1 571.9,1233.3 572.6,1233.5 573.3,1233.7 574.0,1233.6 574.7,1233.5 575.4,1233.3 576.1,1233.1 576.8,1233.1 577.5,1233.2 578.2,1233.0 578.9,1233.3 579.6,1233.1 580.3,1232.9 581.0,1233.0 581.7,1233.5 582.4,1232.9 583.1,1233.1 583.8,1233.1 584.5,1233.1 585.2,1232.4 585.9,1232.1 586.6,1231.8 587.3,1230.7 588.0,1229.7 588.7,1227.4 589.4,1222.8 590.1,1213.7 590.5,1206.8 590.8,1200.6 591.0,1197.0 591.5,1192.3 592.0,1197.3 592.2,1200.7 592.5,1206.6 592.9,1213.8 593.6,1222.7 594.3,1227.0 595.0,1229.1 595.7,1230.2 596.4,1230.8 597.1,1231.1 597.8,1231.5 598.5,1232.3 599.2,1232.4 599.9,1232.7 600.6,1232.9 601.3,1233.0 602.0,1232.9 602.7,1232.5 603.4,1232.4 604.1,1231.7 604.8,1230.9 605.5,1229.2 605.8,1228.7 606.2,1227.2 606.3,1227.2 606.8,1226.4 606.9,1226.5 607.3,1226.9 607.6,1227.8 607.8,1228.6 608.3,1229.6 609.0,1230.5 609.7,1231.3 610.4,1231.2 611.1,1231.1 611.8,1231.7 612.5,1232.0 613.2,1231.9 613.9,1231.8 614.6,1231.3 615.3,1230.6 616.0,1229.8 616.7,1227.9 617.4,1224.9 618.1,1218.0 618.7,1208.5 618.8,1206.5 619.2,1200.2 619.5,1196.5 619.7,1196.1 620.2,1200.0 620.7,1209.1 620.9,1212.5 621.6,1221.8 622.3,1227.2 623.0,1229.9 623.7,1230.7 624.4,1231.8 625.1,1232.4 625.8,1232.7 626.5,1232.9 627.2,1233.0 627.9,1232.9 628.6,1233.1 629.3,1233.3 630.0,1233.4 630.7,1233.7 631.4,1233.8 632.1,1233.7 632.8,1233.4 633.5,1233.3 634.2,1233.2 634.9,1233.0 635.6,1233.2 636.3,1233.1 637.0,1233.5 637.7,1234.0 638.4,1234.4 639.1,1234.3 639.8,1234.6 640.5,1234.6 641.2,1234.7 641.9,1234.5 642.6,1234.3 643.3,1234.5 644.0,1234.4 644.7,1234.1 645.4,1234.0 646.1,1234.5 646.8,1234.4 647.5,1234.4 648.2,1234.1 648.9,1234.3 649.6,1234.0 650.3,1234.0 651.0,1233.8 651.7,1234.0 652.4,1233.4 653.1,1233.8 653.8,1233.8 654.5,1234.0 655.2,1233.7 655.9,1233.9 656.6,1233.7 657.3,1233.3 658.0,1233.2 658.7,1233.3 659.4,1233.4 660.1,1233.3 660.8,1233.2 661.2,1232.9 661.5,1232.7 661.7,1232.1 662.2,1231.8 662.7,1231.6 662.9,1231.9 663.2,1232.0 663.6,1232.1 664.3,1232.1 665.0,1232.4 665.7,1232.5 666.4,1232.3 667.1,1233.0 667.8,1233.0 668.5,1232.9 669.2,1232.5 669.9,1232.7 670.6,1232.0 671.3,1231.7 672.0,1230.7 672.7,1229.1 673.4,1225.8 673.6,1224.9 674.1,1222.0 674.6,1220.8 674.8,1220.7 675.1,1221.9 675.5,1224.3 675.6,1225.2 676.2,1228.6 676.9,1231.1 677.6,1231.8 678.3,1232.3 679.0,1232.4 679.7,1232.7 680.4,1233.1 681.1,1233.8 681.8,1233.5 682.5,1233.5 683.2,1233.5 683.9,1233.2 684.6,1232.9 685.3,1233.6 686.0,1233.8 686.7,1234.0 687.4,1234.1 688.1,1234.2 688.8,1233.9 689.5,1233.4 690.2,1232.8 690.9,1233.0 691.6,1233.2 692.3,1233.3 693.0,1233.9 693.7,1234.0 694.4,1234.4 695.1,1234.1 695.8,1233.9 696.5,1233.6 697.2,1233.7 697.9,1233.4 698.6,1233.7 699.3,1233.8 700.0,1233.9 700.7,1234.2 701.4,1234.2 702.1,1234.2 702.8,1234.1 703.5,1233.9 704.2,1233.9 704.9,1234.2 705.6,1234.0 706.3,1234.2 707.0,1234.3 707.7,1234.3 708.4,1233.9 709.1,1233.8 709.8,1234.2 710.5,1234.3 711.2,1234.2 711.9,1234.2 712.6,1233.9 713.3,1233.9 714.0,1234.1 714.7,1234.0 715.4,1233.9 716.1,1233.9 716.8,1233.5 717.5,1233.3 718.2,1232.9 718.9,1233.3 719.6,1233.2 720.3,1233.3 721.0,1233.3 721.7,1233.5 722.4,1233.1 723.1,1233.4 723.8,1233.2 724.5,1233.2 725.2,1233.3 725.9,1233.4 726.6,1233.1 727.3,1233.5 728.0,1233.7 728.7,1233.6 729.4,1233.8 730.1,1234.1 730.8,1234.0 731.5,1233.8 732.2,1233.5 732.9,1233.7 733.6,1233.7 734.3,1233.1 735.0,1233.5 735.7,1234.2 736.4,1233.9 737.1,1233.8 737.8,1233.9 738.5,1233.8 739.2,1233.6 739.9,1233.3 740.6,1233.0 741.3,1233.3 742.0,1232.8 742.7,1232.8 743.4,1233.2 744.1,1233.7 744.8,1234.1 745.5,1234.7 746.2,1234.5 746.9,1234.2 747.6,1234.1 748.3,1233.7 749.0,1233.5 749.7,1233.6 750.4,1233.8 751.1,1234.0 751.8,1234.1 752.5,1234.4 753.2,1234.6 753.9,1234.4 754.6,1234.3 755.3,1234.1 756.0,1234.3 756.7,1233.9 757.4,1234.4 758.1,1234.6 758.8,1234.9 759.5,1234.6 760.2,1235.3 760.9,1235.3 761.6,1235.2 762.3,1235.1 763.0,1234.7 763.7,1234.5 764.4,1234.3 765.1,1234.1 765.8,1233.7 766.5,1233.7 767.2,1233.0 767.9,1232.6 768.6,1232.9 769.3,1233.4 770.0,1233.4 770.7,1233.8 771.4,1234.2 772.1,1234.3 772.8,1234.2 773.5,1234.2 774.2,1234.0 774.9,1233.6 775.6,1233.1 776.3,1232.6 777.0,1231.3 777.7,1230.0 777.9,1229.2 778.4,1228.1 778.9,1227.4 779.1,1227.5 779.4,1227.3 779.8,1228.6 779.9,1228.3 780.5,1230.0 781.2,1231.5 781.9,1232.7 782.6,1232.9 783.3,1233.6 784.0,1233.2 784.7,1233.2 785.4,1232.8 786.1,1232.9 786.8,1233.0 787.5,1233.6 788.2,1233.4 788.9,1233.6 789.6,1233.7 790.3,1233.3 791.0,1233.3 791.7,1233.5 792.4,1233.8 793.1,1234.3 793.8,1234.7 794.5,1234.8 795.2,1234.9 795.9,1234.6 796.6,1234.6 797.3,1234.3 798.0,1233.8 798.7,1233.3 799.4,1233.1 800.1,1231.9 800.8,1231.0 801.5,1230.0 802.2,1228.2 802.9,1224.1 803.6,1218.8 803.7,1217.7 804.2,1213.8 804.3,1212.9 804.7,1211.6 805.0,1212.5 805.2,1213.8 805.7,1217.3 806.4,1222.9 807.1,1227.1 807.8,1229.4 808.5,1231.0 809.2,1232.1 809.9,1232.6 810.6,1233.1 811.3,1232.9 812.0,1232.8 812.7,1233.0 813.4,1232.8 814.1,1232.8 814.8,1232.9 815.5,1232.8 816.0,1232.4 816.2,1232.6 816.5,1232.1 816.9,1232.0 817.0,1232.4 817.5,1232.9 817.6,1233.2 818.0,1233.9 818.3,1234.3 819.0,1234.0 819.7,1234.1 820.4,1233.6 821.1,1233.6 821.8,1233.4 822.5,1233.5 823.2,1233.6 823.9,1233.8 824.6,1233.8 825.3,1233.4 826.0,1233.2 826.7,1232.3 827.4,1231.3 827.8,1230.9 828.1,1230.8 828.3,1230.9 828.8,1230.9 829.3,1231.2 829.5,1231.0 829.8,1231.2 830.2,1231.4 830.9,1232.5 831.6,1233.1 832.3,1233.5 833.0,1234.0 833.7,1234.3 834.4,1233.8 835.1,1233.9 835.8,1233.9 836.5,1233.6 837.2,1233.6 837.9,1234.4 838.6,1234.7 839.3,1234.8 840.0,1235.4 840.7,1234.8 841.4,1234.3 842.1,1233.6 842.8,1233.8 843.5,1233.5 844.2,1233.8 844.9,1233.6 845.6,1233.9 846.3,1233.7 847.0,1233.6 847.7,1233.9 848.4,1234.0 849.1,1234.2 849.8,1234.2 850.5,1233.9 851.2,1233.8 851.9,1233.6 852.6,1233.0 853.3,1233.0 854.0,1233.3 854.7,1233.3 855.4,1233.7 856.1,1233.8 856.8,1233.8 857.5,1233.5 858.2,1233.5 858.9,1233.2 859.6,1233.6 860.3,1233.7 861.0,1234.1 861.7,1234.3 862.4,1234.5 863.1,1234.4 863.8,1234.6 864.5,1234.3 865.2,1234.2 865.7,1233.8 865.9,1233.7 866.2,1233.2 866.6,1233.4 866.7,1233.0 867.2,1232.7 867.3,1232.6 868.0,1232.7 868.7,1233.1 869.4,1233.4 870.1,1233.5 870.8,1233.6 871.5,1234.4 872.2,1233.9 872.9,1234.0 873.6,1234.2 874.3,1234.3 875.0,1233.6 875.7,1233.8 876.4,1233.7 877.1,1233.7 877.8,1234.2 878.5,1234.4 879.2,1234.4 879.9,1234.5 880.6,1234.8 881.3,1234.8 882.0,1235.2 882.7,1235.0 883.4,1234.7 884.1,1234.7 884.8,1233.9 885.5,1233.2 886.2,1233.4 886.9,1233.2 887.6,1233.3 888.3,1233.8 889.0,1234.0 889.7,1233.9 890.4,1234.3 891.1,1234.1 891.8,1234.0 892.5,1233.8 893.2,1234.2 893.9,1234.5 894.6,1234.7 895.3,1234.6 896.0,1235.1 896.7,1234.7 897.4,1234.3 898.1,1234.2 898.8,1234.7 899.5,1234.4 900.2,1234.3 900.9,1234.6 901.6,1234.2 902.3,1234.1 903.0,1234.3 903.4,1234.4" fill="none" stroke="#ff00ff" stroke-width="3.20" stroke-linejoin="round" stroke-linecap="butt"/>
<polyline points="21.7,1411.0 22.4,1411.4 23.1,1411.4 23.8,1411.5 24.5,1411.3 25.2,1411.3 25.9,1411.5 26.6,1411.6 27.3,1411.7 28.0,1412.3 28.7,1412.6 29.4,1412.4 30.1,1413.0 30.8,1412.5 31.5,1412.1 32.2,1411.8 32.9,1411.9 33.6,1411.3 34.3,1411.3 35.0,1411.5 35.7,1411.9 36.4,1412.1 37.1,1412.3 37.8,1412.5 38.5,1412.1 39.2,1412.2 39.9,1411.6 40.6,1411.3 41.3,1410.9 42.0,1411.4 42.7,1411.0 43.4,1411.5 44.1,1412.4 44.8,1412.8 45.5,1413.1 46.2,1412.9 46.9,1412.8 47.6,1412.1 48.3,1412.1 49.0,1412.0 49.7,1412.4 50.4,1412.3 51.1,1412.2 51.8,1412.1 52.5,1412.5 53.2,1412.4 53.9,1412.8 54.6,1412.7 55.3,1413.2 56.0,1412.5 56.7,1413.0 57.4,1412.8 58.1,1413.1 58.8,1413.0 59.5,1413.3 60.2,1412.8 60.9,1413.1 61.6,1412.9 62.3,1413.1 63.0,1413.0 63.7,1413.4 64.4,1413.3 65.1,1413.3 65.8,1412.9 66.5,1413.1 67.2,1412.8 67.9,1412.4 68.6,1412.2 69.3,1412.3 70.0,1412.7 70.7,1413.1 71.4,1413.7 72.1,1414.0 72.8,1414.0 73.5,1413.7 74.2,1413.6 74.9,1413.9 75.6,1413.6 76.3,1413.2 77.0,1413.7 77.7,1413.6 78.4,1413.4 79.1,1413.7 79.8,1413.6 80.5,1413.7 81.2,1414.1 81.9,1413.9 82.6,1413.9 83.3,1414.3 84.0,1413.4 84.7,1412.9 85.4,1413.0 86.1,1413.1 86.8,1413.2 87.5,1413.5 88.2,1413.9 88.9,1413.6 89.6,1413.5 90.3,1413.6 91.0,1413.6 91.7,1412.7 92.4,1412.7 93.1,1412.5 93.8,1412.4 94.5,1412.9 95.2,1413.1 95.9,1413.4 96.6,1413.5 97.3,1413.3 98.0,1412.3 98.7,1412.8 99.4,1413.4 100.1,1413.5 100.8,1413.3 101.5,1413.8 102.2,1413.7 102.9,1413.7 103.6,1413.6 104.3,1413.9 105.0,1414.4 105.7,1414.4 106.4,1414.2 107.1,1413.8 107.8,1413.7 108.5,1413.4 109.2,1413.8 109.9,1413.5 110.6,1413.7 111.3,1413.4 112.0,1412.9 112.7,1412.4 113.4,1412.0 114.1,1412.0 114.8,1412.4 115.5,1412.7 116.2,1412.8 116.9,1412.7 117.6,1412.4 118.3,1412.3 119.0,1412.0 119.7,1411.4 120.4,1410.6 121.1,1409.1 121.8,1407.2 122.5,1402.8 123.2,1392.4 123.7,1379.0 123.9,1372.4 124.2,1362.0 124.6,1353.0 124.7,1353.2 125.2,1362.5 125.3,1365.9 125.7,1378.6 126.0,1387.5 126.7,1400.0 127.4,1405.3 128.1,1408.2 128.8,1409.8 129.5,1411.2 130.2,1412.0 130.9,1413.0 131.6,1413.2 132.3,1413.3 133.0,1412.5 133.7,1411.9 134.4,1412.0 135.1,1411.5 135.8,1411.9 136.5,1412.3 137.2,1413.2 137.9,1412.8 138.6,1413.0 139.3,1413.5 140.0,1413.4 140.7,1412.8 141.4,1412.9 142.1,1413.1 142.8,1412.6 143.5,1412.2 144.2,1412.8 144.9,1413.2 145.6,1413.9 146.3,1414.2 147.0,1414.4 147.7,1413.8 148.4,1413.5 149.1,1412.6 149.8,1412.2 150.5,1412.4 151.2,1413.0 151.9,1413.2 152.6,1413.9 153.3,1414.4 154.0,1414.0 154.7,1413.5 155.4,1413.0 156.1,1412.2 156.8,1411.3 157.5,1410.4 158.2,1409.1 158.9,1406.9 159.3,1405.3 159.6,1404.7 159.8,1404.3 160.3,1403.4 160.8,1404.8 161.0,1405.5 161.3,1406.0 161.7,1408.0 162.4,1410.0 163.1,1411.3 163.8,1412.3 164.5,1413.4 165.2,1413.7 165.9,1413.4 166.6,1413.4 167.3,1413.2 168.0,1412.8 168.7,1412.5 169.4,1413.3 170.1,1413.4 170.8,1413.8 171.5,1413.6 172.2,1413.6 172.9,1412.8 173.6,1412.5 174.3,1412.4 175.0,1412.7 175.7,1412.9 176.4,1413.6 177.1,1413.9 177.8,1413.5 178.5,1413.5 179.2,1413.3 179.9,1413.7 180.6,1413.7 181.3,1413.9 182.0,1414.2 182.7,1414.4 183.4,1414.0 184.1,1413.7 184.8,1413.6 185.5,1413.2 186.2,1413.0 186.9,1413.4 187.6,1413.6 188.3,1413.7 189.0,1414.0 189.7,1414.2 190.4,1413.9 191.1,1413.6 191.8,1413.6 192.5,1413.7 193.2,1413.5 193.9,1413.2 194.6,1413.1 195.3,1412.8 196.0,1412.9 196.7,1412.5 197.4,1412.7 198.1,1412.8 198.8,1412.9 199.5,1412.7 200.2,1413.6 200.9,1413.7 201.6,1413.8 202.3,1413.8 203.0,1413.8 203.7,1413.7 204.4,1413.6 205.1,1413.3 205.8,1413.1 206.5,1412.9 207.2,1412.3 207.9,1412.7 208.6,1413.1 209.3,1413.3 210.0,1414.0 210.7,1414.2 211.4,1414.1 212.1,1414.2 212.8,1413.9 213.5,1413.1 214.2,1413.0 214.9,1413.1 215.6,1413.2 216.3,1413.3 217.0,1414.0 217.7,1414.1 218.4,1413.8 219.1,1413.3 219.8,1413.5 220.5,1412.7 221.2,1412.6 221.9,1412.3 222.6,1412.6 223.3,1413.2 224.0,1414.5 224.7,1414.6 225.4,1414.5 226.1,1414.2 226.8,1413.4 227.5,1413.2 228.2,1413.5 228.9,1413.7 229.6,1414.0 230.3,1414.4 231.0,1413.4 231.7,1413.1 232.4,1413.2 233.1,1413.0 233.8,1412.8 234.5,1413.1 235.2,1413.3 235.9,1413.1 236.6,1412.8 237.3,1413.1 238.0,1413.2 238.7,1413.1 239.4,1412.6 240.1,1412.6 240.8,1412.1 241.5,1411.1 242.2,1410.6 242.9,1409.6 243.6,1407.4 244.3,1403.1 245.0,1397.3 245.3,1394.2 245.7,1390.3 245.8,1389.8 246.3,1387.5 246.4,1387.3 246.8,1389.1 247.1,1391.7 247.3,1393.2 247.8,1398.8 248.5,1404.9 249.2,1407.7 249.9,1410.1 250.6,1411.8 251.3,1412.5 252.0,1412.5 252.7,1413.1 253.4,1413.1 254.1,1412.4 254.8,1412.2 255.5,1412.3 256.2,1412.4 256.9,1412.9 257.6,1413.1 258.3,1412.8 259.0,1413.2 259.7,1412.9 260.4,1412.4 261.1,1412.4 261.8,1412.6 262.5,1412.0 263.2,1412.1 263.9,1412.6 264.6,1412.3 265.3,1412.0 266.0,1412.1 266.7,1411.7 267.4,1410.2 268.1,1408.6 268.8,1404.1 269.5,1396.2 270.1,1386.6 270.2,1384.8 270.6,1378.4 270.9,1375.9 271.1,1375.4 271.6,1379.2 272.1,1387.3 272.3,1390.4 273.0,1400.2 273.7,1405.9 274.4,1408.6 275.1,1410.0 275.8,1411.1 276.5,1411.9 277.2,1412.6 277.9,1413.4 278.6,1414.0 279.3,1413.9 280.0,1413.9 280.7,1413.4 281.4,1413.2 282.1,1412.9 282.8,1413.1 283.5,1412.8 284.2,1413.1 284.9,1413.3 285.6,1413.9 286.3,1413.5 287.0,1413.4 287.7,1413.7 288.4,1413.3 289.1,1413.0 289.8,1413.1 290.5,1413.3 291.2,1412.6 291.9,1413.1 292.6,1412.8 293.3,1412.7 294.0,1413.3 294.7,1413.9 295.4,1414.7 296.1,1414.9 296.8,1415.0 297.5,1414.4 298.2,1414.6 298.9,1413.7 299.6,1413.6 300.3,1413.8 301.0,1413.5 301.7,1413.0 302.4,1412.8 303.1,1412.2 303.8,1412.2 304.5,1412.5 305.2,1412.3 305.9,1412.0 306.6,1411.5 307.3,1411.1 308.0,1410.5 308.7,1409.6 309.4,1409.2 310.1,1408.6 310.8,1407.4 311.5,1406.0 312.2,1404.4 312.9,1401.3 313.6,1396.1 314.3,1385.0 315.0,1364.1 315.7,1328.8 315.9,1316.3 316.4,1286.4 316.9,1272.8 317.1,1275.8 317.4,1286.9 317.8,1310.7 317.9,1316.9 318.5,1351.5 319.2,1377.9 319.9,1392.6 320.6,1400.0 321.3,1403.9 322.0,1406.1 322.7,1407.3 323.4,1408.9 324.1,1409.6 324.8,1410.4 325.5,1410.5 326.2,1410.7 326.9,1411.2 327.6,1411.8 328.3,1412.0 329.0,1412.1 329.7,1412.8 330.4,1413.0 331.1,1412.8 331.8,1412.9 332.5,1413.6 333.2,1413.3 333.9,1413.1 334.6,1412.7 335.3,1412.5 336.0,1412.0 336.7,1412.1 337.4,1412.1 338.1,1413.1 338.8,1413.3 339.5,1413.5 340.2,1414.3 340.9,1414.5 341.6,1413.6 342.3,1413.7 343.0,1413.5 343.7,1413.4 344.4,1413.1 345.1,1413.4 345.8,1412.8 346.5,1413.1 347.2,1412.3 347.9,1412.6 348.6,1412.6 349.3,1412.8 350.0,1412.9 350.7,1413.4 351.4,1413.2 352.1,1412.9 352.8,1412.5 353.5,1411.9 354.2,1411.7 354.9,1410.4 355.6,1408.3 356.3,1404.3 357.0,1397.0 357.2,1393.6 357.7,1387.8 358.2,1385.6 358.4,1386.3 358.7,1388.7 359.1,1393.2 359.2,1394.6 359.8,1401.0 360.5,1405.9 361.2,1408.6 361.9,1410.5 362.6,1411.5 363.3,1412.2 364.0,1412.9 364.7,1413.4 365.4,1413.6 366.1,1413.5 366.8,1414.0 367.5,1413.7 368.2,1413.8 368.9,1414.1 369.6,1414.0 370.3,1413.8 371.0,1414.1 371.7,1414.2 372.4,1413.8 373.1,1413.4 373.8,1412.6 374.5,1413.0 375.2,1412.8 375.9,1412.3 376.6,1411.5 377.2,1410.0 377.3,1409.4 377.7,1407.8 378.0,1407.0 378.2,1406.9 378.7,1407.4 379.2,1408.4 379.4,1409.1 380.1,1410.9 380.8,1411.9 381.5,1412.4 382.2,1412.8 382.9,1413.0 383.6,1413.7 384.3,1413.6 385.0,1413.9 385.7,1414.2 386.4,1414.4 387.1,1414.3 387.8,1414.7 388.5,1414.2 389.2,1414.6 389.9,1414.6 390.6,1414.2 391.3,1414.5 392.0,1414.9 392.7,1415.1 393.4,1415.3 394.1,1415.1 394.8,1414.6 395.5,1414.9 396.2,1414.3 396.9,1413.4 397.6,1413.6 398.3,1413.4 399.0,1412.9 399.7,1413.4 400.4,1413.9 401.1,1413.9 401.8,1413.8 402.5,1413.9 403.2,1413.2 403.9,1413.2 404.6,1413.3 405.3,1413.2 406.0,1413.3 406.7,1413.1 407.4,1413.0 408.1,1412.6 408.8,1412.5 409.5,1412.0 410.2,1411.7 410.9,1410.9 411.6,1409.5 412.3,1407.7 413.0,1403.5 413.7,1396.7 413.9,1394.1 414.4,1389.4 414.9,1386.6 415.1,1387.1 415.4,1388.8 415.8,1393.2 415.9,1394.1 416.5,1400.2 417.2,1405.3 417.9,1408.5 418.6,1410.1 419.3,1410.9 420.0,1411.4 420.7,1412.1 421.4,1413.4 422.1,1414.3 422.8,1414.2 423.5,1414.6 424.2,1414.7 424.9,1413.9 425.6,1413.8 426.3,1414.0 427.0,1413.8 427.7,1413.7 428.4,1413.6 429.1,1413.6 429.8,1413.7 430.5,1413.1 431.2,1412.6 431.9,1411.7 432.3,1411.2 432.6,1410.7 432.8,1411.2 433.3,1411.1 433.8,1411.0 434.0,1411.1 434.3,1411.4 434.7,1411.7 435.4,1412.1 436.1,1413.2 436.8,1413.2 437.5,1413.2 438.2,1413.3 438.9,1413.8 439.6,1413.6 440.3,1413.4 441.0,1412.9 441.7,1412.7 442.4,1412.9 443.1,1413.2 443.8,1413.0 444.5,1413.5 445.2,1413.8 445.9,1413.9 446.6,1414.3 447.3,1415.0 448.0,1415.3 448.7,1414.9 449.4,1414.3 450.1,1413.9 450.8,1413.6 451.5,1413.6 452.2,1413.8 452.9,1414.0 453.6,1414.5 454.3,1414.9 455.0,1415.0 455.7,1415.0 456.4,1414.5 457.1,1414.1 457.8,1414.0 458.5,1413.6 459.2,1414.0 459.9,1414.4 460.6,1414.5 461.3,1414.3 462.0,1414.2 462.7,1414.4 463.4,1414.2 464.1,1414.3 464.8,1414.2 465.5,1414.6 466.2,1413.9 466.9,1414.0 467.6,1414.0 468.3,1414.7 469.0,1414.4 469.7,1414.6 470.4,1414.9 471.1,1414.4 471.8,1414.1 472.5,1414.0 473.2,1414.2 473.9,1413.9 474.6,1414.4 475.3,1414.2 476.0,1413.9 476.7,1413.8 477.4,1413.1 478.1,1412.7 478.8,1412.6 479.5,1412.4 480.2,1411.0 480.9,1409.7 481.6,1406.1 482.3,1399.8 482.9,1393.1 483.0,1392.5 483.4,1388.1 483.7,1386.3 483.9,1386.1 484.4,1388.0 484.9,1392.6 485.1,1395.0 485.8,1401.9 486.5,1406.6 487.2,1409.1 487.9,1411.1 488.6,1412.1 489.3,1412.8 490.0,1413.6 490.7,1414.3 491.4,1414.0 492.1,1414.1 492.8,1414.4 493.5,1413.7 494.2,1413.8 494.9,1413.8 495.6,1414.0 496.3,1414.0 497.0,1414.4 497.7,1414.1 498.4,1414.4 499.1,1414.2 499.8,1413.4 500.5,1413.7 501.2,1413.9 501.9,1414.1 502.6,1413.8 503.3,1414.6 504.0,1414.0 504.7,1414.4 505.4,1413.7 506.1,1414.5 506.8,1414.1 507.5,1414.1 508.2,1413.7 508.9,1414.3 509.6,1413.7 510.3,1413.6 511.0,1414.1 511.7,1414.2 512.4,1413.2 513.1,1413.4 513.8,1413.7 514.5,1413.7 515.2,1414.0 515.9,1414.6 516.6,1415.4 517.3,1415.5 518.0,1415.5 518.7,1415.6 519.4,1416.0 520.1,1415.4 520.8,1415.0 521.5,1415.2 522.2,1415.0 522.9,1414.2 523.6,1413.9 524.3,1414.2 525.0,1413.9 525.7,1413.9 526.4,1414.6 527.1,1414.9 527.8,1415.2 528.5,1415.0 529.2,1414.9 529.9,1414.8 530.6,1414.9 531.3,1414.7 532.0,1415.3 532.7,1415.3 533.4,1415.5 534.1,1415.4 534.8,1414.9 535.5,1414.5 536.2,1415.2 536.9,1415.0 537.6,1414.8 538.3,1414.4 539.0,1414.3 539.7,1413.5 540.4,1413.3 541.1,1414.0 541.8,1414.9 542.5,1415.1 543.2,1415.0 543.9,1414.6 544.6,1413.8 545.3,1413.4 545.4,1414.1 545.9,1414.1 546.0,1414.2 546.4,1414.5 546.7,1414.7 546.9,1413.6 547.4,1414.1 548.1,1414.3 548.8,1413.8 549.5,1413.8 550.2,1414.3 550.9,1413.8 551.6,1414.1 552.3,1414.6 553.0,1414.2 553.7,1413.4 554.4,1412.7 555.1,1412.3 555.8,1412.2 556.5,1412.4 557.2,1412.8 557.9,1413.2 558.6,1411.9 559.3,1409.8 560.0,1406.1 560.7,1402.2 561.2,1399.6 561.4,1399.0 561.7,1398.2 562.1,1398.9 562.2,1399.1 562.7,1401.6 562.8,1402.1 563.5,1405.9 564.2,1408.9 564.9,1410.9 565.6,1411.5 566.3,1412.4 567.0,1412.7 567.7,1413.3 568.4,1413.2 569.1,1413.3 569.8,1413.3 570.5,1413.7 571.2,1414.1 571.9,1414.2 572.6,1414.8 573.3,1415.1 574.0,1414.9 574.7,1414.1 575.4,1414.3 576.1,1413.8 576.8,1413.9 577.5,1414.0 578.2,1414.5 578.9,1413.7 579.6,1414.1 580.3,1413.9 581.0,1413.2 581.7,1413.2 582.4,1413.8 583.1,1413.4 583.8,1412.8 584.5,1412.6 585.2,1411.8 585.9,1412.1 586.6,1411.5 587.3,1410.5 588.0,1408.7 588.7,1405.4 589.4,1399.5 590.1,1392.5 590.5,1388.4 590.8,1385.6 591.0,1384.4 591.5,1382.4 592.0,1384.8 592.2,1386.1 592.5,1389.2 592.9,1393.2 593.6,1400.0 594.3,1405.0 595.0,1408.0 595.7,1409.8 596.4,1410.7 597.1,1411.7 597.8,1411.8 598.5,1412.3 599.2,1412.6 599.9,1412.8 600.6,1412.4 601.3,1412.5 602.0,1412.5 602.7,1412.1 603.4,1411.2 604.1,1410.5 604.8,1409.1 605.3,1408.0 605.5,1407.7 605.8,1407.8 606.2,1407.9 606.3,1408.2 606.8,1408.9 606.9,1408.6 607.6,1410.1 608.3,1411.2 609.0,1411.3 609.7,1411.6 610.4,1412.4 611.1,1412.4 611.8,1412.4 612.5,1412.4 613.2,1412.6 613.9,1412.6 614.6,1412.0 615.3,1411.0 616.0,1409.6 616.7,1407.2 617.4,1403.0 618.1,1397.4 618.7,1392.5 618.8,1392.1 619.2,1389.1 619.5,1387.3 619.7,1387.2 620.2,1388.6 620.7,1392.0 620.9,1393.9 621.6,1400.9 622.3,1405.9 623.0,1408.8 623.7,1410.9 624.4,1412.1 625.1,1412.7 625.8,1413.2 626.5,1414.1 627.2,1414.6 627.9,1414.4 628.6,1413.8 629.3,1413.8 630.0,1414.2 630.7,1414.2 631.4,1414.3 632.1,1415.0 632.8,1415.0 633.5,1414.0 634.2,1414.0 634.9,1413.9 635.6,1414.3 636.3,1414.0 637.0,1414.6 637.7,1415.4 638.4,1416.2 639.1,1416.0 639.8,1416.7 640.5,1416.1 641.2,1415.5 641.9,1414.8 642.6,1414.4 643.3,1414.7 644.0,1414.6 644.7,1414.8 645.4,1414.7 646.1,1415.1 646.8,1414.8 647.5,1415.1 648.2,1415.5 648.9,1415.9 649.6,1415.9 650.3,1415.6 651.0,1415.6 651.7,1414.9 652.4,1414.9 653.1,1414.7 653.8,1414.6 654.5,1415.4 655.2,1415.4 655.9,1415.3 656.6,1414.9 657.3,1414.7 658.0,1413.6 658.7,1413.3 659.4,1413.5 660.1,1413.4 660.8,1413.2 661.2,1413.5 661.5,1413.9 661.7,1413.7 662.2,1413.8 662.7,1413.8 662.9,1413.7 663.2,1413.3 663.6,1413.4 664.3,1413.2 665.0,1413.5 665.7,1413.7 666.4,1413.9 667.1,1413.8 667.8,1413.9 668.5,1414.2 669.2,1414.1 669.9,1413.6 670.6,1413.4 671.3,1412.7 672.0,1411.0 672.7,1409.7 673.4,1407.6 673.6,1406.1 674.1,1405.3 674.6,1405.4 674.8,1405.0 675.1,1405.6 675.5,1407.6 675.6,1407.2 676.2,1408.4 676.9,1410.2 677.6,1411.6 678.3,1411.7 679.0,1412.9 679.7,1413.4 680.4,1414.0 681.1,1414.1 681.8,1414.1 682.5,1413.9 683.2,1413.7 683.9,1413.6 684.6,1413.5 685.3,1414.0 686.0,1414.1 686.7,1414.6 687.4,1414.9 688.1,1414.8 688.8,1414.9 689.5,1415.4 690.2,1415.4 690.9,1415.0 691.6,1415.2 692.3,1415.1 693.0,1415.0 693.7,1414.9 694.4,1415.2 695.1,1415.8 695.8,1415.5 696.5,1415.0 697.2,1414.6 697.9,1414.0 698.6,1413.7 699.3,1414.1 700.0,1414.8 700.7,1414.8 701.4,1415.0 702.1,1415.1 702.8,1415.3 703.5,1415.1 704.2,1415.9 704.9,1416.2 705.6,1415.8 706.3,1415.5 707.0,1415.5 707.7,1415.2 708.4,1415.3 709.1,1415.7 709.8,1415.4 710.5,1415.0 711.2,1415.2 711.9,1415.0 712.6,1414.6 713.3,1415.5 714.0,1415.8 714.7,1415.5 715.4,1415.9 716.1,1416.6 716.8,1415.7 717.5,1415.5 718.2,1415.6 718.9,1415.1 719.6,1415.0 720.3,1415.5 721.0,1415.6 721.7,1415.7 722.4,1415.6 723.1,1414.9 723.8,1414.8 724.5,1415.5 725.2,1414.8 725.9,1415.1 726.6,1415.6 727.3,1415.8 728.0,1415.7 728.7,1416.4 729.4,1416.3 730.1,1415.9 730.8,1415.5 731.5,1415.4 732.2,1415.0 732.9,1414.9 733.6,1414.8 734.3,1414.9 735.0,1413.8 735.7,1414.0 736.4,1414.1 737.1,1414.3 737.8,1414.7 738.5,1415.3 739.2,1415.2 739.9,1415.3 740.6,1415.4 741.3,1414.9 742.0,1414.6 742.7,1414.5 743.4,1414.7 744.1,1414.8 744.8,1414.8 745.5,1415.2 746.2,1415.7 746.9,1415.8 747.6,1415.3 748.3,1415.5 749.0,1415.9 749.7,1416.3 750.4,1416.3 751.1,1416.2 751.8,1416.4 752.5,1415.9 753.2,1415.3 753.9,1414.7 754.6,1414.9 755.3,1414.7 756.0,1415.3 756.7,1415.5 757.4,1415.8 758.1,1415.9 758.8,1415.7 759.5,1415.2 760.2,1415.3 760.9,1415.4 761.6,1415.9 762.3,1416.2 763.0,1416.3 763.7,1415.5 764.4,1415.4 765.1,1414.4 765.8,1414.7 766.5,1414.5 767.2,1414.9 767.9,1414.4 768.6,1414.7 769.3,1414.1 770.0,1414.5 770.7,1414.5 771.4,1414.5 772.1,1414.1 772.8,1414.2 773.5,1413.6 774.2,1413.1 774.9,1413.2 775.6,1413.2 776.3,1412.7 777.0,1411.8 777.7,1411.1 777.9,1410.6 778.4,1409.7 778.9,1409.7 779.1,1410.0 779.4,1409.8 779.8,1410.3 779.9,1411.2 780.5,1411.8 781.2,1412.9 781.9,1414.0 782.6,1414.5 783.3,1414.2 784.0,1414.1 784.7,1413.4 785.4,1413.4 786.1,1413.5 786.8,1414.0 787.5,1414.6 788.2,1415.2 788.9,1415.2 789.6,1415.2 790.3,1415.0 791.0,1415.2 791.7,1415.7 792.4,1416.2 793.1,1415.7 793.8,1415.6 794.5,1415.1 795.2,1414.4 795.9,1414.2 796.6,1414.6 797.3,1414.8 798.0,1414.6 798.7,1414.4 799.4,1413.7 800.1,1412.9 800.8,1412.3 801.5,1411.6 802.2,1410.5 802.9,1408.9 803.6,1407.1 803.7,1406.7 804.2,1405.5 804.3,1405.3 804.7,1404.6 805.0,1404.8 805.2,1404.9 805.7,1405.6 806.4,1407.5 807.1,1410.0 807.8,1411.3 808.5,1411.9 809.2,1412.8 809.9,1413.4 810.6,1413.7 811.3,1413.5 812.0,1414.2 812.7,1414.5 813.4,1414.5 814.1,1414.6 814.8,1414.8 815.5,1414.3 816.0,1414.0 816.2,1413.8 816.5,1413.5 816.9,1414.4 817.0,1414.8 817.5,1414.8 817.6,1414.5 818.0,1414.7 818.3,1414.3 819.0,1414.2 819.7,1414.3 820.4,1414.2 821.1,1414.4 821.8,1414.0 822.5,1414.4 823.2,1414.7 823.9,1415.2 824.6,1415.2 825.3,1415.1 826.0,1414.6 826.7,1413.7 827.1,1413.4 827.4,1413.3 827.6,1413.4 828.1,1413.1 828.6,1413.5 828.8,1413.6 829.1,1413.0 829.5,1413.3 830.2,1413.6 830.9,1414.1 831.6,1414.6 832.3,1415.4 833.0,1415.4 833.7,1416.1 834.4,1416.0 835.1,1416.1 835.8,1416.0 836.5,1416.1 837.2,1415.7 837.9,1415.9 838.6,1416.2 839.3,1416.1 840.0,1416.0 840.7,1416.0 841.4,1415.6 842.1,1415.3 842.8,1415.2 843.5,1414.9 844.2,1415.0 844.9,1415.1 845.6,1415.2 846.3,1415.4 847.0,1415.2 847.7,1415.6 848.4,1415.5 849.1,1415.2 849.8,1414.9 850.5,1415.5 851.2,1415.4 851.9,1415.3 852.6,1415.6 853.3,1415.2 854.0,1415.2 854.7,1414.9 855.4,1414.9 856.1,1415.1 856.8,1416.0 857.5,1416.2 858.2,1416.0 858.9,1416.5 859.6,1416.1 860.3,1415.5 861.0,1414.9 861.7,1415.0 862.4,1414.4 862.8,1414.3 863.1,1414.1 863.3,1414.1 863.8,1413.8 864.3,1414.0 864.5,1413.9 864.8,1414.1 865.2,1414.3 865.9,1414.5 866.6,1414.5 867.3,1414.4 868.0,1414.6 868.7,1414.9 869.4,1415.1 870.1,1415.6 870.8,1415.8 871.5,1415.8 872.2,1415.8 872.9,1415.8 873.6,1415.3 874.3,1415.8 875.0,1415.6 875.7,1415.6 876.4,1416.1 877.1,1416.2 877.8,1415.6 878.5,1415.4 879.2,1415.5 879.9,1415.1 880.6,1414.8 881.3,1414.7 882.0,1415.0 882.7,1415.2 883.4,1414.9 884.1,1414.6 884.8,1415.2 885.5,1415.0 886.2,1414.5 886.9,1414.8 887.6,1415.1 888.3,1415.1 889.0,1415.5 889.7,1415.7 890.4,1415.6 891.1,1416.1 891.8,1416.0 892.5,1415.9 893.2,1415.6 893.9,1415.9 894.6,1415.8 895.3,1416.2 896.0,1416.0 896.7,1416.4 897.4,1416.1 898.1,1416.1 898.8,1416.0 899.5,1416.3 900.2,1416.1 900.9,1415.9 901.6,1415.6 902.3,1415.4 903.0,1414.9 903.4,1415.2" fill="none" stroke="#0000ff" stroke-width="3.20" stroke-linejoin="round" stroke-linecap="butt"/>
<polyline points="21.7,1556.7 22.4,1557.2 23.1,1557.0 23.8,1557.7 24.5,1557.7 25.2,1557.0 25.9,1556.6 26.6,1556.5 27.3,1556.2 28.0,1556.6 28.7,1557.3 29.4,1558.3 30.1,1559.0 30.8,1559.0 31.5,1559.2 32.2,1559.0 32.9,1558.3 33.6,1558.1 34.3,1557.9 35.0,1557.5 35.7,1557.9 36.4,1558.3 37.1,1557.9 37.8,1557.9 38.5,1558.7 39.2,1558.0 39.9,1558.0 40.6,1558.4 41.3,1558.5 42.0,1558.0 42.7,1558.0 43.4,1557.6 44.1,1557.4 44.8,1557.1 45.5,1557.2 46.2,1557.8 46.9,1557.7 47.6,1557.9 48.3,1557.7 49.0,1557.3 49.7,1556.7 50.4,1557.1 51.1,1556.8 51.8,1556.3 52.5,1556.9 53.2,1556.9 53.9,1556.7 54.6,1557.0 55.3,1557.7 56.0,1556.8 56.7,1557.1 57.4,1557.4 58.1,1556.9 58.8,1557.4 59.5,1557.9 60.2,1557.5 60.9,1557.9 61.6,1558.2 62.3,1557.6 63.0,1557.7 63.7,1558.0 64.4,1557.8 65.1,1557.3 65.8,1558.0 66.5,1558.2 67.2,1558.3 67.9,1558.2 68.6,1559.1 69.3,1559.0 70.0,1558.7 70.7,1558.3 71.4,1558.4 72.1,1558.3 72.8,1558.2 73.5,1558.2 74.2,1558.7 74.9,1557.6 75.6,1557.4 76.3,1556.6 77.0,1556.6 77.7,1556.7 78.4,1558.1 79.1,1557.8 79.8,1558.7 80.5,1558.7 81.2,1557.7 81.9,1557.3 82.6,1557.4 83.3,1557.3 84.0,1557.1 84.7,1557.8 85.4,1557.6 86.1,1558.0 86.8,1558.0 87.5,1559.4 88.2,1559.3 88.9,1559.2 89.6,1558.8 90.3,1558.5 91.0,1557.9 91.7,1558.2 92.4,1557.9 93.1,1557.9 93.8,1558.5 94.5,1557.6 95.2,1557.5 95.9,1557.8 96.6,1558.5 97.3,1558.3 98.0,1558.6 98.7,1558.4 99.4,1559.0 100.1,1558.1 100.8,1558.7 101.5,1558.3 102.2,1558.4 102.9,1557.7 103.6,1557.6 104.3,1556.8 105.0,1557.4 105.7,1557.1 106.4,1556.6 107.1,1556.8 107.8,1556.5 108.4,1554.3 108.5,1554.2 108.9,1551.8 109.2,1550.2 109.4,1549.0 109.9,1550.8 110.4,1553.9 110.6,1555.0 111.3,1556.1 112.0,1556.7 112.7,1556.5 113.4,1555.5 114.1,1556.0 114.8,1555.5 115.5,1555.6 116.2,1556.2 116.9,1556.3 117.6,1555.6 118.3,1556.0 119.0,1555.7 119.7,1555.0 120.4,1553.4 121.1,1552.0 121.8,1546.9 122.5,1538.6 123.0,1529.6 123.2,1526.0 123.5,1520.1 123.9,1516.0 124.0,1516.5 124.5,1521.7 124.6,1523.3 125.0,1530.3 125.3,1535.7 126.0,1544.8 126.7,1549.7 127.4,1552.6 128.1,1554.3 128.8,1555.4 129.5,1556.1 130.2,1556.1 130.9,1556.9 131.6,1557.5 132.3,1557.8 133.0,1557.5 133.7,1558.3 134.4,1558.0 135.1,1557.5 135.8,1557.8 136.5,1557.9 137.2,1557.8 137.9,1557.9 138.6,1558.2 139.3,1558.1 140.0,1558.1 140.7,1557.5 141.4,1557.5 142.1,1558.0 142.8,1557.9 143.5,1558.1 144.2,1558.2 144.9,1558.4 145.6,1558.2 146.3,1558.5 147.0,1558.6 147.7,1559.5 148.4,1558.8 149.1,1558.7 149.8,1558.6 150.5,1558.8 151.2,1557.6 151.9,1557.7 152.6,1557.7 153.3,1557.9 154.0,1557.9 154.7,1557.9 155.4,1558.2 156.1,1558.4 156.8,1557.9 157.5,1556.7 158.0,1556.5 158.2,1555.8 158.5,1555.5 158.9,1555.1 159.0,1555.3 159.5,1555.5 159.6,1556.0 160.0,1555.8 160.3,1555.9 161.0,1556.6 161.7,1557.1 162.4,1557.5 163.1,1557.9 163.8,1558.6 164.5,1558.7 165.2,1558.9 165.9,1558.8 166.6,1558.5 167.3,1558.6 168.0,1558.4 168.7,1557.9 169.4,1558.2 170.1,1558.6 170.8,1558.1 171.5,1558.6 172.2,1559.4 172.9,1559.2 173.6,1558.7 174.3,1558.9 175.0,1558.3 175.7,1557.8 176.4,1557.4 177.1,1557.5 177.8,1557.6 178.5,1557.7 179.2,1558.1 179.9,1558.3 180.6,1558.4 181.3,1558.3 182.0,1558.8 182.7,1558.9 183.4,1558.8 184.1,1559.5 184.8,1559.7 185.5,1559.8 186.2,1559.1 186.9,1558.8 187.6,1558.7 188.3,1558.4 189.0,1558.2 189.7,1559.0 190.4,1558.9 191.1,1558.6 191.8,1559.3 192.5,1559.4 193.2,1559.1 193.9,1559.7 194.6,1559.6 195.3,1559.2 196.0,1559.4 196.7,1559.3 197.4,1559.3 198.1,1559.4 198.8,1559.4 199.5,1559.2 200.2,1559.0 200.9,1559.1 201.6,1559.3 202.3,1558.8 203.0,1558.4 203.7,1558.3 204.4,1557.9 205.1,1557.7 205.8,1557.7 206.5,1557.5 207.2,1557.7 207.9,1557.6 208.6,1557.3 209.3,1557.3 210.0,1557.7 210.7,1557.9 211.4,1557.9 212.1,1558.4 212.8,1558.6 213.5,1558.7 214.2,1558.3 214.9,1559.0 215.6,1558.6 216.3,1558.5 217.0,1558.3 217.7,1558.3 218.4,1557.5 219.1,1557.7 219.8,1557.9 220.5,1557.9 221.2,1558.3 221.9,1558.7 222.6,1558.7 223.3,1559.1 224.0,1558.9 224.7,1559.2 225.4,1559.4 226.1,1558.8 226.8,1558.0 227.5,1558.5 228.2,1558.0 228.9,1557.7 229.6,1558.3 230.3,1558.9 231.0,1559.1 231.7,1558.9 232.4,1558.9 233.1,1558.9 233.8,1558.4 234.5,1557.4 235.2,1557.5 235.9,1557.4 236.6,1557.5 237.3,1557.1 238.0,1556.8 238.7,1557.2 239.4,1556.9 240.1,1556.8 240.8,1556.9 241.5,1556.6 242.2,1555.9 242.9,1554.2 243.6,1551.2 244.3,1547.3 245.0,1540.8 245.5,1534.4 245.7,1533.2 246.0,1532.7 246.4,1533.6 246.5,1534.2 247.0,1540.0 247.1,1541.6 247.8,1546.6 248.5,1550.0 249.2,1551.0 249.4,1550.4 249.9,1549.1 250.4,1549.6 250.6,1550.3 250.9,1550.7 251.3,1552.5 251.4,1553.4 252.0,1555.4 252.7,1556.9 253.4,1557.8 254.1,1557.9 254.8,1558.2 255.5,1558.5 256.2,1558.4 256.9,1558.5 257.6,1558.4 258.3,1557.7 259.0,1557.2 259.7,1556.6 260.4,1556.5 261.1,1556.5 261.8,1557.0 262.5,1557.2 263.2,1557.3 263.9,1556.8 264.6,1556.5 265.3,1555.7 266.0,1554.9 266.7,1553.6 267.4,1552.0 268.1,1548.1 268.8,1542.3 269.4,1535.4 269.5,1534.0 269.9,1529.2 270.2,1527.7 270.4,1526.8 270.9,1529.3 271.4,1534.9 271.6,1537.4 272.3,1544.3 273.0,1549.3 273.7,1552.0 274.4,1554.5 275.1,1556.1 275.8,1556.9 276.5,1557.7 277.2,1558.4 277.9,1558.0 278.6,1558.3 279.3,1558.5 280.0,1558.7 280.7,1558.3 281.4,1558.1 282.1,1557.3 282.8,1557.2 283.5,1557.4 284.2,1557.6 284.9,1558.2 285.6,1558.4 286.3,1558.3 287.0,1558.1 287.7,1558.1 288.4,1557.3 289.1,1557.5 289.8,1558.1 290.5,1558.0 291.2,1557.7 291.9,1558.0 292.6,1557.6 293.3,1557.1 294.0,1556.9 294.7,1557.2 295.4,1557.4 296.1,1558.1 296.8,1557.8 297.5,1557.4 298.2,1557.9 298.9,1557.8 299.6,1557.2 300.3,1557.6 301.0,1557.8 301.7,1557.1 302.4,1557.0 303.1,1556.8 303.8,1556.4 304.5,1556.5 305.2,1556.2 305.9,1555.4 306.6,1554.9 307.3,1554.3 308.0,1553.1 308.7,1550.6 309.4,1546.9 310.0,1540.4 310.1,1538.4 310.5,1532.9 310.8,1529.7 311.0,1528.2 311.5,1526.6 312.0,1525.2 312.2,1522.9 312.7,1514.8 312.9,1511.0 313.2,1508.1 313.6,1506.3 313.7,1506.0 314.2,1504.6 314.3,1503.5 315.0,1489.3 315.4,1476.8 315.7,1467.1 315.9,1461.2 316.4,1454.2 316.9,1462.8 317.1,1468.9 317.4,1480.3 317.8,1495.6 318.5,1517.6 319.2,1531.1 319.9,1539.8 320.6,1545.4 321.3,1549.5 322.0,1551.7 322.7,1552.8 323.4,1554.0 324.1,1555.0 324.8,1554.4 325.5,1554.0 326.2,1554.2 326.8,1554.0 326.9,1553.4 327.3,1553.6 327.6,1553.8 327.8,1554.0 328.3,1554.0 328.8,1554.4 329.0,1554.0 329.7,1554.9 330.4,1555.7 331.1,1556.5 331.8,1556.9 332.5,1557.2 333.2,1557.2 333.9,1556.8 334.6,1556.2 335.3,1556.5 336.0,1556.9 336.7,1557.0 337.4,1557.4 338.1,1558.1 338.8,1558.3 339.5,1558.8 340.2,1558.8 340.9,1558.6 341.6,1558.4 342.3,1558.7 343.0,1558.5 343.7,1558.7 344.4,1559.4 345.1,1560.0 345.8,1559.0 346.5,1559.0 347.2,1559.1 347.9,1558.3 348.6,1557.5 349.3,1557.6 350.0,1557.2 350.7,1556.8 351.4,1556.1 352.1,1556.0 352.8,1555.7 353.5,1555.2 354.2,1553.9 354.9,1552.9 355.6,1550.4 356.3,1546.6 356.9,1542.4 357.0,1542.3 357.4,1540.1 357.7,1538.8 357.9,1538.9 358.4,1540.0 358.9,1542.6 359.1,1542.9 359.8,1547.5 360.5,1550.8 361.2,1553.1 361.9,1554.8 362.6,1556.3 363.3,1557.2 364.0,1557.3 364.7,1557.5 365.4,1558.1 366.1,1558.3 366.8,1557.9 367.5,1558.1 368.2,1558.6 368.9,1558.1 369.6,1558.4 370.3,1559.0 371.0,1559.2 371.7,1559.3 372.4,1558.7 373.1,1559.2 373.8,1558.9 374.5,1557.7 375.2,1557.4 375.9,1557.3 376.4,1556.5 376.6,1557.0 376.9,1557.5 377.3,1557.1 377.4,1556.9 377.9,1557.2 378.0,1556.9 378.7,1557.7 379.4,1558.3 380.1,1558.2 380.8,1558.4 381.5,1558.7 382.2,1558.5 382.9,1558.3 383.6,1558.7 384.3,1558.7 385.0,1557.9 385.7,1558.7 386.4,1558.8 387.1,1558.9 387.8,1558.5 388.5,1559.2 389.2,1558.9 389.9,1558.8 390.6,1559.0 391.3,1559.5 392.0,1559.6 392.7,1559.5 393.4,1560.0 394.1,1559.5 394.8,1560.2 395.5,1559.8 396.2,1559.3 396.9,1558.6 397.6,1559.1 398.3,1558.6 399.0,1559.4 399.7,1560.1 400.4,1560.1 401.1,1559.9 401.8,1559.5 402.5,1558.6 403.2,1558.1 403.9,1558.1 404.6,1558.4 405.3,1558.6 406.0,1558.9 406.7,1558.7 407.4,1558.3 408.1,1557.9 408.8,1557.3 409.5,1557.2 410.2,1556.9 410.9,1555.7 411.6,1553.4 412.3,1550.5 413.0,1545.9 413.2,1544.7 413.7,1542.3 414.2,1541.6 414.4,1541.9 414.7,1542.8 415.1,1544.9 415.2,1545.6 415.8,1549.6 416.5,1553.0 417.2,1555.4 417.9,1556.6 418.6,1557.7 419.3,1558.3 420.0,1558.5 420.7,1558.5 421.4,1558.3 422.1,1558.8 422.8,1558.5 423.5,1558.9 424.2,1559.3 424.9,1559.1 425.6,1558.8 426.3,1558.7 427.0,1558.6 427.7,1558.5 428.4,1558.9 429.1,1558.4 429.8,1557.9 430.5,1557.3 430.9,1557.1 431.2,1556.3 431.4,1556.4 431.9,1556.7 432.4,1556.6 432.6,1556.7 432.9,1557.6 433.3,1557.6 434.0,1558.4 434.7,1559.1 435.4,1559.1 436.1,1558.8 436.8,1559.7 437.5,1559.3 438.2,1559.4 438.9,1559.4 439.6,1560.5 440.3,1559.8 441.0,1560.2 441.7,1560.5 442.4,1560.8 443.1,1560.4 443.8,1560.8 444.5,1560.3 445.2,1559.4 445.9,1558.2 446.6,1558.4 447.3,1557.4 448.0,1557.9 448.7,1559.4 449.4,1559.7 450.1,1559.5 450.8,1560.3 451.5,1559.6 452.2,1558.1 452.9,1558.6 453.6,1558.9 454.3,1558.7 455.0,1558.9 455.7,1559.4 456.4,1559.4 457.1,1558.9 457.8,1559.5 458.5,1559.0 459.2,1558.0 459.9,1557.7 460.6,1556.7 460.8,1555.6 461.3,1554.9 461.8,1555.2 462.0,1554.8 462.3,1555.3 462.7,1555.7 462.8,1555.8 463.4,1556.7 464.1,1557.5 464.8,1557.2 465.5,1557.4 466.2,1558.3 466.9,1558.2 467.6,1558.2 468.3,1558.9 469.0,1558.9 469.7,1558.4 470.4,1558.6 471.1,1558.6 471.8,1558.1 472.5,1558.3 473.2,1558.5 473.9,1558.5 474.6,1558.7 475.3,1558.8 476.0,1558.4 476.7,1557.7 477.4,1557.1 478.1,1556.0 478.8,1555.3 479.5,1554.3 480.2,1552.9 480.9,1550.3 481.6,1547.5 481.9,1546.4 482.3,1545.3 482.4,1544.7 482.9,1543.2 483.0,1543.3 483.4,1543.0 483.7,1543.4 483.9,1544.5 484.4,1548.0 485.1,1550.6 485.8,1553.4 486.5,1554.9 487.2,1556.0 487.9,1556.0 488.6,1556.8 489.3,1557.4 490.0,1558.3 490.7,1558.4 491.4,1559.0 492.1,1559.0 492.8,1559.1 493.5,1558.5 494.2,1558.5 494.9,1558.4 495.6,1558.6 496.3,1559.0 497.0,1559.1 497.7,1559.4 498.4,1559.6 499.1,1559.7 499.8,1559.5 500.5,1559.8 501.2,1559.6 501.9,1559.5 502.6,1559.2 503.3,1558.6 504.0,1558.3 504.7,1557.7 505.4,1557.8 506.1,1558.2 506.8,1558.6 507.5,1558.8 508.2,1559.6 508.9,1559.4 509.6,1559.6 510.3,1559.6 511.0,1559.6 511.7,1559.6 512.4,1560.2 513.1,1559.2 513.8,1559.3 514.5,1558.7 515.2,1558.4 515.9,1557.4 516.6,1557.9 517.3,1557.1 518.0,1556.6 518.7,1555.9 519.2,1555.2 519.4,1554.4 519.7,1554.8 520.1,1554.6 520.2,1554.5 520.7,1555.5 520.8,1555.9 521.2,1556.3 521.5,1556.5 522.2,1557.5 522.9,1557.9 523.6,1558.4 524.3,1558.5 525.0,1559.5 525.7,1559.9 526.4,1560.2 527.1,1560.4 527.8,1560.1 528.5,1559.8 529.2,1560.0 529.9,1559.4 530.6,1559.4 531.3,1559.8 532.0,1560.2 532.7,1559.3 533.4,1560.3 534.1,1559.7 534.8,1559.5 535.5,1559.8 536.2,1559.9 536.9,1559.9 537.6,1560.5 538.3,1561.0 539.0,1560.7 539.7,1561.2 540.4,1560.2 541.1,1560.1 541.8,1559.1 542.5,1558.2 543.2,1558.3 543.9,1558.1 544.6,1558.3 545.3,1558.6 546.0,1559.0 546.7,1558.5 547.4,1558.6 548.1,1558.7 548.8,1558.4 549.5,1558.2 550.2,1558.4 550.9,1559.0 551.6,1559.3 552.3,1560.1 553.0,1560.4 553.7,1560.5 554.4,1560.4 555.1,1559.5 555.8,1558.6 556.5,1557.4 557.2,1556.7 557.9,1555.4 558.6,1554.1 559.3,1552.5 560.0,1550.4 560.5,1548.6 560.7,1548.5 561.0,1547.9 561.4,1547.6 561.5,1547.2 562.0,1548.6 562.1,1548.8 562.8,1552.0 563.5,1554.6 564.2,1556.3 564.9,1557.0 565.6,1557.6 566.3,1557.8 567.0,1557.3 567.7,1557.6 568.4,1557.7 569.1,1557.6 569.8,1557.5 570.5,1557.9 571.2,1557.8 571.9,1558.2 572.6,1558.1 573.3,1558.3 574.0,1558.8 574.7,1559.1 575.4,1558.8 576.1,1559.0 576.8,1558.6 577.5,1558.4 578.2,1558.4 578.9,1558.5 579.6,1558.4 580.3,1558.6 581.0,1558.3 581.7,1558.1 582.4,1558.0 583.1,1557.3 583.8,1556.5 584.5,1556.1 585.2,1554.9 585.9,1554.2 586.6,1552.8 587.3,1549.9 588.0,1546.5 588.7,1542.7 588.9,1541.2 589.4,1539.9 589.9,1539.6 590.1,1540.0 590.4,1540.6 590.8,1541.8 590.9,1541.3 591.5,1544.4 592.2,1547.6 592.9,1550.7 593.6,1552.8 594.3,1554.1 595.0,1554.9 595.7,1555.9 596.4,1556.0 597.1,1556.8 597.8,1557.9 598.5,1558.0 599.2,1558.2 599.9,1558.8 600.6,1557.7 601.3,1557.3 602.0,1557.4 602.7,1556.3 603.4,1555.9 603.5,1556.0 604.0,1555.6 604.1,1555.4 604.5,1555.2 604.8,1554.8 605.0,1555.0 605.5,1555.3 606.2,1556.2 606.9,1557.4 607.6,1558.2 608.3,1558.6 609.0,1558.6 609.7,1558.2 610.4,1556.9 611.1,1556.5 611.8,1556.8 612.5,1556.2 613.2,1556.3 613.9,1556.1 614.6,1553.9 615.3,1551.4 616.0,1548.5 616.7,1544.7 617.0,1543.2 617.4,1541.5 617.5,1541.0 618.0,1540.3 618.1,1540.6 618.5,1541.2 618.8,1542.5 619.0,1543.6 619.5,1546.3 620.2,1549.6 620.9,1552.0 621.6,1554.5 622.3,1556.4 623.0,1557.3 623.7,1557.2 624.4,1558.2 625.1,1558.2 625.8,1557.9 626.5,1558.4 627.2,1558.9 627.9,1559.0 628.6,1559.7 629.3,1560.4 630.0,1560.0 630.7,1559.9 631.4,1559.8 632.1,1559.3 632.8,1558.8 633.5,1558.7 634.2,1558.4 634.9,1558.3 635.6,1558.1 636.3,1558.1 637.0,1558.4 637.7,1559.1 638.4,1559.4 639.1,1559.6 639.8,1559.6 640.5,1558.9 641.2,1558.9 641.9,1558.4 642.6,1558.5 643.3,1559.0 644.0,1559.6 644.7,1559.1 645.4,1559.5 646.1,1559.4 646.8,1558.6 647.5,1558.4 648.2,1558.4 648.9,1558.5 649.6,1559.2 650.3,1559.1 651.0,1559.0 651.7,1559.0 652.4,1558.7 653.1,1558.4 653.8,1558.4 654.5,1558.3 655.2,1558.3 655.9,1558.6 656.6,1558.6 657.3,1558.8 658.0,1558.5 658.5,1558.0 658.7,1557.9 659.0,1558.1 659.4,1557.4 659.5,1557.1 660.0,1557.9 660.1,1557.8 660.5,1557.6 660.8,1558.7 661.5,1559.4 662.2,1559.2 662.9,1559.1 663.6,1559.2 664.3,1558.7 665.0,1559.2 665.7,1559.7 666.4,1559.5 667.1,1559.6 667.8,1559.4 668.5,1559.4 669.2,1559.2 669.9,1558.9 670.6,1558.3 671.3,1557.1 672.0,1555.4 672.6,1553.6 672.7,1553.7 673.1,1552.3 673.4,1552.1 673.6,1551.7 674.1,1552.1 674.6,1553.2 674.8,1553.8 675.5,1555.1 676.2,1556.2 676.9,1557.3 677.6,1557.9 678.3,1558.0 679.0,1559.0 679.7,1559.4 680.4,1559.5 681.1,1559.4 681.8,1560.2 682.5,1559.8 683.2,1560.5 683.9,1560.6 684.6,1560.3 685.3,1559.4 686.0,1560.0 686.7,1558.9 687.4,1558.3 688.1,1558.8 688.8,1559.3 689.5,1559.0 690.2,1558.8 690.9,1558.8 691.6,1558.9 692.3,1559.5 693.0,1559.6 693.7,1560.3 694.4,1560.6 695.1,1560.7 695.8,1560.3 696.5,1559.9 697.2,1559.3 697.9,1559.2 698.6,1558.8 699.3,1559.1 700.0,1559.1 700.7,1560.0 701.4,1559.4 702.1,1559.8 702.8,1558.9 703.5,1559.1 704.2,1558.8 704.9,1559.5 705.6,1559.2 706.3,1559.3 707.0,1559.5 707.7,1559.3 708.4,1559.2 709.1,1558.9 709.8,1559.3 710.5,1559.1 711.2,1559.3 711.9,1559.1 712.6,1559.7 713.3,1559.7 714.0,1559.7 714.7,1559.1 715.4,1559.5 716.1,1558.7 716.8,1558.7 717.5,1558.0 718.2,1559.3 718.9,1558.5 719.6,1558.9 720.3,1558.6 721.0,1558.9 721.7,1557.7 722.4,1558.7 723.1,1559.5 723.8,1559.8 724.5,1560.5 725.2,1560.8 725.9,1560.1 726.6,1560.0 727.3,1560.2 728.0,1559.6 728.7,1559.7 729.4,1560.0 730.1,1559.4 730.8,1559.2 731.5,1559.3 732.2,1559.3 732.9,1559.2 733.6,1559.2 734.3,1559.0 735.0,1559.7 735.7,1559.6 736.4,1559.6 737.1,1559.8 737.8,1560.0 738.5,1559.2 739.2,1559.6 739.9,1559.3 740.6,1559.0 741.3,1559.1 742.0,1559.4 742.7,1558.9 743.4,1559.3 744.1,1559.3 744.8,1559.0 745.5,1558.7 746.2,1558.5 746.9,1558.2 747.6,1558.5 748.3,1558.5 749.0,1558.8 749.7,1559.4 750.4,1559.6 751.1,1559.0 751.8,1559.2 752.5,1559.8 753.2,1558.6 753.9,1558.7 754.6,1558.9 755.3,1558.4 756.0,1558.1 756.7,1559.0 757.4,1559.1 758.1,1559.0 758.8,1559.3 759.5,1558.7 760.2,1559.2 760.9,1559.2 761.6,1559.0 762.3,1559.0 763.0,1559.8 763.7,1559.1 764.4,1559.0 765.1,1559.6 765.8,1559.8 766.5,1559.5 767.2,1559.6 767.9,1559.5 768.6,1559.7 769.3,1559.2 770.0,1559.0 770.7,1559.2 771.4,1559.2 772.1,1558.6 772.8,1559.3 773.5,1559.3 774.2,1558.9 774.9,1557.7 775.6,1557.9 776.2,1557.3 776.3,1557.2 776.7,1557.1 777.0,1557.7 777.2,1557.9 777.7,1558.0 778.2,1559.0 778.4,1559.8 779.1,1559.9 779.8,1559.9 780.5,1559.2 781.2,1558.9 781.9,1558.3 782.6,1558.8 783.3,1558.9 784.0,1559.6 784.7,1559.4 785.4,1559.3 786.1,1559.8 786.8,1559.8 787.5,1560.0 788.2,1560.2 788.9,1560.1 789.6,1559.7 790.3,1559.6 791.0,1559.1 791.7,1558.7 792.4,1559.1 793.1,1559.2 793.8,1559.0 794.5,1559.2 795.2,1559.2 795.9,1559.2 796.6,1558.8 797.3,1558.6 798.0,1557.7 798.7,1557.0 799.4,1555.3 800.1,1554.3 800.8,1553.1 801.0,1553.2 801.5,1552.5 802.0,1552.6 802.2,1552.7 802.5,1552.7 802.9,1552.6 803.0,1553.4 803.6,1554.8 804.3,1556.3 805.0,1557.6 805.7,1558.7 806.4,1558.6 807.1,1558.7 807.8,1559.0 808.5,1559.0 809.2,1559.1 809.9,1559.3 810.6,1560.4 811.3,1560.1 812.0,1560.3 812.7,1561.2 813.4,1560.8 814.1,1560.1 814.8,1560.5 815.5,1560.6 816.2,1559.7 816.9,1560.0 817.6,1560.0 818.3,1559.9 819.0,1560.0 819.7,1559.6 820.4,1559.6 821.1,1559.3 821.8,1559.0 822.5,1558.4 823.2,1559.0 823.9,1558.3 824.6,1558.3 825.3,1558.0 825.4,1558.5 825.9,1558.7 826.0,1559.1 826.4,1558.8 826.7,1559.1 826.9,1558.9 827.4,1558.7 828.1,1559.2 828.8,1559.3 829.5,1558.8 830.2,1558.6 830.9,1558.3 831.6,1558.7 832.3,1558.6 833.0,1558.9 833.7,1559.2 834.4,1559.3 835.1,1558.9 835.8,1559.3 836.5,1558.9 837.2,1558.5 837.9,1559.2 838.6,1559.0 839.3,1559.3 840.0,1559.9 840.7,1560.5 841.4,1559.8 842.1,1560.2 842.8,1560.5 843.5,1559.9 844.2,1560.0 844.9,1560.4 845.6,1560.5 846.3,1560.3 847.0,1560.7 847.7,1560.3 848.4,1560.3 849.1,1560.1 849.8,1560.0 850.5,1559.9 851.2,1560.5 851.9,1560.6 852.6,1560.8 853.3,1560.5 854.0,1560.8 854.7,1560.8 855.4,1560.1 856.1,1559.5 856.8,1559.8 857.5,1559.2 858.2,1558.8 858.9,1559.3 859.6,1559.0 860.3,1559.1 861.0,1559.5 861.7,1559.9 862.4,1559.8 863.1,1560.0 863.8,1559.7 864.5,1559.7 865.0,1558.7 865.2,1558.6 865.5,1559.0 865.9,1559.3 866.0,1559.3 866.5,1559.5 866.6,1559.6 867.3,1559.7 868.0,1559.5 868.7,1559.6 869.4,1560.5 870.1,1561.2 870.8,1560.9 871.5,1560.7 872.2,1560.6 872.9,1560.5 873.6,1559.6 874.3,1559.4 875.0,1559.4 875.7,1559.7 876.4,1559.2 877.1,1559.5 877.8,1560.2 878.5,1560.8 879.2,1560.4 879.9,1560.1 880.6,1560.5 881.3,1560.0 882.0,1559.7 882.7,1559.9 883.4,1560.1 884.1,1559.8 884.8,1559.9 885.5,1559.6 886.2,1559.6 886.9,1560.0 887.6,1560.4 888.3,1560.6 889.0,1561.6 889.7,1561.8 890.4,1561.6 891.1,1561.3 891.8,1561.0 892.5,1560.1 893.2,1559.8 893.9,1559.8 894.6,1559.4 895.3,1559.4 896.0,1559.8 896.7,1560.4 897.4,1560.3 898.1,1560.6 898.8,1560.4 899.5,1559.7 900.2,1559.4 900.9,1559.3 901.6,1559.1 902.3,1559.0 903.0,1559.9 903.4,1560.2" fill="none" stroke="#ff0000" stroke-width="3.00" stroke-linejoin="round" stroke-linecap="butt"/>
<polyline points="21.7,1664.2 22.4,1663.6 23.1,1663.2 23.8,1663.7 24.5,1664.5 25.2,1664.6 25.9,1664.4 26.6,1664.0 27.3,1663.6 28.0,1663.5 28.7,1663.6 29.4,1664.2 30.1,1664.6 30.8,1664.2 31.5,1664.2 32.2,1663.9 32.9,1664.8 33.6,1665.1 34.3,1665.3 35.0,1664.3 35.7,1663.9 36.4,1663.2 37.1,1664.4 37.8,1663.9 38.5,1664.4 39.2,1664.5 39.9,1664.1 40.6,1664.2 41.3,1663.1 42.0,1663.6 42.7,1663.3 43.4,1664.0 44.1,1664.0 44.8,1664.5 45.5,1664.4 46.2,1663.9 46.9,1664.3 47.6,1664.0 48.3,1664.0 49.0,1663.2 49.7,1663.7 50.4,1664.7 51.1,1664.7 51.8,1664.4 52.5,1664.1 53.2,1664.7 53.9,1664.6 54.6,1664.9 55.3,1664.2 56.0,1664.0 56.7,1663.9 57.4,1664.5 58.1,1664.7 58.8,1664.7 59.5,1664.5 60.2,1664.8 60.9,1665.0 61.6,1665.2 62.3,1665.2 63.0,1664.6 63.7,1664.2 64.4,1663.0 65.1,1663.3 65.8,1663.5 66.5,1664.6 67.2,1663.8 67.9,1663.6 68.6,1663.2 69.3,1663.2 70.0,1663.7 70.7,1664.4 71.4,1664.6 72.1,1664.4 72.8,1664.6 73.5,1664.6 74.2,1664.8 74.9,1664.8 75.6,1666.0 76.3,1665.1 77.0,1664.1 77.7,1663.4 78.4,1664.4 79.1,1664.3 79.8,1664.0 80.5,1663.1 81.2,1664.0 81.9,1664.1 82.6,1664.7 83.3,1664.5 84.0,1665.2 84.7,1665.1 85.4,1665.0 86.1,1665.0 86.8,1665.0 87.5,1664.4 88.2,1663.8 88.9,1663.9 89.6,1664.5 90.3,1664.5 91.0,1664.3 91.7,1665.5 92.4,1665.6 93.1,1665.7 93.8,1664.6 94.5,1664.5 95.2,1664.8 95.9,1664.9 96.6,1665.1 97.3,1664.2 98.0,1664.3 98.7,1664.4 99.4,1664.8 100.1,1663.3 100.8,1662.9 101.5,1662.4 102.2,1663.3 102.9,1663.0 103.6,1662.9 104.3,1663.1 105.0,1663.0 105.7,1663.0 106.4,1660.6 107.1,1657.2 107.7,1652.6 107.8,1652.2 108.2,1648.4 108.5,1645.7 108.7,1644.9 109.2,1647.4 109.7,1652.5 109.9,1654.6 110.6,1659.5 111.3,1662.0 112.0,1663.1 112.7,1663.9 113.4,1664.2 114.1,1664.4 114.8,1664.0 115.5,1663.8 116.2,1663.7 116.9,1663.3 117.6,1663.4 118.3,1663.5 119.0,1664.3 119.7,1664.1 120.4,1664.3 121.1,1664.2 121.8,1664.2 122.5,1664.3 123.2,1664.0 123.9,1664.0 124.6,1664.2 125.3,1664.7 126.0,1664.8 126.7,1664.2 127.4,1664.4 128.1,1665.1 128.8,1664.6 129.5,1664.7 130.2,1664.1 130.9,1665.3 131.6,1665.4 132.3,1664.9 133.0,1665.2 133.7,1664.5 134.4,1664.8 135.1,1664.4 135.8,1664.6 136.5,1664.8 137.2,1664.3 137.9,1664.0 138.6,1663.9 139.3,1663.7 140.0,1664.6 140.7,1664.7 141.4,1665.6 142.1,1664.6 142.8,1663.8 143.5,1662.4 144.2,1662.7 144.9,1663.0 145.6,1664.0 146.3,1663.6 147.0,1663.6 147.7,1663.5 148.4,1663.9 149.1,1664.7 149.8,1664.9 150.5,1665.2 151.2,1664.5 151.9,1663.9 152.6,1664.6 153.3,1665.0 154.0,1665.4 154.7,1664.6 155.4,1664.7 156.1,1664.5 156.8,1664.3 157.5,1664.1 158.2,1663.4 158.9,1664.2 159.6,1664.4 160.3,1664.6 161.0,1664.2 161.7,1664.5 162.4,1664.5 163.1,1664.1 163.8,1664.4 164.5,1665.1 165.2,1665.5 165.9,1665.3 166.6,1665.1 167.3,1664.8 168.0,1665.0 168.7,1665.0 169.4,1665.1 170.1,1664.7 170.8,1664.8 171.5,1664.4 172.2,1664.9 172.9,1664.8 173.6,1666.0 174.3,1665.4 175.0,1665.1 175.7,1665.0 176.4,1664.8 177.1,1664.8 177.8,1664.2 178.5,1663.5 179.2,1663.9 179.9,1663.7 180.6,1664.4 181.3,1663.9 182.0,1664.4 182.7,1664.7 183.4,1665.4 184.1,1665.8 184.8,1665.8 185.5,1665.4 186.2,1664.9 186.9,1664.5 187.6,1664.2 188.3,1664.4 189.0,1664.4 189.7,1663.9 190.4,1663.5 191.1,1663.9 191.8,1665.2 192.5,1665.0 193.2,1664.6 193.9,1664.1 194.6,1664.3 195.3,1664.7 196.0,1664.5 196.7,1664.6 197.4,1664.3 198.1,1664.9 198.8,1664.9 199.5,1665.4 200.2,1664.8 200.9,1664.2 201.6,1664.0 202.3,1664.1 203.0,1665.1 203.7,1665.4 204.4,1665.4 205.1,1665.0 205.8,1664.3 206.5,1664.3 207.2,1664.4 207.9,1664.6 208.6,1664.2 209.3,1664.6 210.0,1664.4 210.7,1665.4 211.4,1665.4 212.1,1666.3 212.8,1665.4 213.5,1665.2 214.2,1664.1 214.9,1664.3 215.6,1663.4 216.3,1663.7 217.0,1663.6 217.7,1664.6 218.4,1665.3 219.1,1665.3 219.8,1664.8 220.5,1664.1 221.2,1663.8 221.9,1663.2 222.6,1663.5 223.3,1664.1 224.0,1664.5 224.7,1664.7 225.4,1664.1 226.1,1664.0 226.8,1663.6 227.5,1664.4 228.2,1664.6 228.9,1665.1 229.6,1664.6 230.3,1664.4 231.0,1663.3 231.7,1663.3 232.4,1663.3 233.1,1664.4 233.8,1664.7 234.5,1664.4 235.2,1664.4 235.9,1664.4 236.6,1663.9 237.3,1663.2 238.0,1663.1 238.7,1663.5 239.4,1663.6 240.1,1663.6 240.8,1664.3 241.5,1664.6 242.2,1664.6 242.9,1664.1 243.6,1664.6 244.3,1664.4 245.0,1665.3 245.7,1663.9 246.4,1663.4 247.1,1661.8 247.8,1660.2 248.5,1657.0 249.2,1651.7 249.7,1647.0 249.9,1644.9 250.2,1642.0 250.6,1639.8 250.7,1640.1 251.2,1642.3 251.3,1643.2 251.7,1646.8 252.0,1649.1 252.7,1654.5 253.4,1657.7 254.1,1659.8 254.8,1661.0 255.5,1661.3 256.2,1662.2 256.9,1662.5 257.6,1663.8 258.3,1663.9 259.0,1663.6 259.7,1663.1 260.4,1662.8 261.1,1662.9 261.8,1662.5 262.5,1661.7 263.2,1660.9 263.9,1660.0 264.6,1658.7 265.3,1657.3 266.0,1654.1 266.5,1652.7 266.7,1651.8 267.0,1652.9 267.4,1654.0 267.5,1654.6 268.0,1655.7 268.1,1656.2 268.8,1658.5 269.5,1660.1 270.2,1661.1 270.9,1661.7 271.6,1662.5 272.3,1663.0 273.0,1663.4 273.7,1663.8 274.4,1663.6 275.1,1663.5 275.8,1663.0 276.5,1663.5 277.2,1664.0 277.9,1664.9 278.6,1664.7 279.3,1664.7 280.0,1664.5 280.7,1664.5 281.4,1665.0 282.1,1665.3 282.8,1665.6 283.5,1664.7 284.2,1664.1 284.9,1664.1 285.6,1664.9 286.3,1665.1 287.0,1665.0 287.7,1664.7 288.4,1664.8 289.1,1664.8 289.8,1664.1 290.5,1664.5 291.2,1664.6 291.9,1664.8 292.6,1664.3 293.3,1663.8 294.0,1663.3 294.7,1662.7 295.4,1663.3 296.1,1663.4 296.8,1664.1 297.5,1663.4 298.2,1663.2 298.9,1662.9 299.6,1663.0 300.3,1663.3 301.0,1664.1 301.7,1664.3 302.4,1664.2 303.1,1663.7 303.8,1663.3 304.5,1663.7 305.2,1662.4 305.9,1662.4 306.6,1660.8 307.3,1660.0 308.0,1658.0 308.7,1654.9 309.4,1648.8 310.1,1638.5 310.8,1623.7 311.3,1612.8 311.5,1610.2 311.8,1608.1 312.2,1611.7 312.3,1613.0 312.8,1624.2 312.9,1627.2 313.6,1640.9 314.3,1650.3 315.0,1655.5 315.7,1659.2 316.4,1660.7 317.1,1660.9 317.8,1661.6 318.5,1661.9 319.2,1662.6 319.9,1662.3 320.6,1662.5 321.3,1662.4 322.0,1662.1 322.7,1662.3 323.4,1661.8 324.1,1661.0 324.8,1659.3 325.5,1657.8 326.1,1656.7 326.2,1656.2 326.6,1655.3 326.9,1654.6 327.1,1654.4 327.6,1655.3 328.1,1657.4 328.3,1659.2 329.0,1661.4 329.7,1662.8 330.4,1662.9 331.1,1662.7 331.8,1663.2 332.5,1663.7 333.2,1664.0 333.9,1663.8 334.6,1664.2 335.3,1664.0 336.0,1664.1 336.7,1664.2 337.4,1664.0 338.1,1664.4 338.8,1664.6 339.5,1665.1 340.2,1665.3 340.9,1665.2 341.6,1665.7 342.3,1665.7 343.0,1664.6 343.7,1664.4 344.4,1664.3 345.1,1665.7 345.8,1665.7 346.5,1665.3 347.2,1664.5 347.9,1664.4 348.6,1664.2 349.3,1663.6 350.0,1663.5 350.7,1663.4 351.4,1664.1 352.1,1664.2 352.8,1664.3 353.5,1664.6 354.2,1664.8 354.9,1664.8 355.6,1664.6 356.3,1664.5 357.0,1664.6 357.7,1664.8 358.4,1665.3 359.1,1665.5 359.8,1665.4 360.5,1664.2 361.2,1663.5 361.9,1662.6 362.6,1663.7 363.3,1664.6 364.0,1665.6 364.7,1665.1 365.4,1664.9 366.1,1665.2 366.8,1664.7 367.5,1664.5 368.2,1664.2 368.9,1664.3 369.6,1665.0 370.3,1665.4 371.0,1665.6 371.7,1665.1 372.4,1664.6 373.1,1664.6 373.8,1664.5 374.5,1665.1 375.2,1665.3 375.9,1665.2 376.6,1664.6 377.3,1664.7 378.0,1664.6 378.7,1664.2 379.4,1664.1 380.1,1665.0 380.8,1665.3 381.5,1665.5 382.2,1664.8 382.9,1665.5 383.6,1665.6 384.3,1665.2 385.0,1665.4 385.7,1665.2 386.4,1665.4 387.1,1664.5 387.8,1664.6 388.5,1665.3 389.2,1665.4 389.9,1665.1 390.6,1665.2 391.3,1665.9 392.0,1666.0 392.7,1665.6 393.4,1665.2 394.1,1665.2 394.8,1664.8 395.5,1665.0 396.2,1664.7 396.9,1664.4 397.6,1664.2 398.3,1665.1 399.0,1666.0 399.7,1665.6 400.4,1665.0 401.1,1664.3 401.8,1664.4 402.5,1663.6 403.2,1663.7 403.9,1664.4 404.6,1664.9 405.3,1665.8 406.0,1665.4 406.7,1665.1 407.4,1664.8 408.1,1664.4 408.8,1665.3 409.5,1664.9 410.2,1665.1 410.9,1664.9 411.6,1664.4 412.3,1664.3 413.0,1664.2 413.7,1665.4 414.4,1665.4 415.1,1665.7 415.8,1665.2 416.5,1665.9 417.2,1665.7 417.9,1665.6 418.6,1664.8 419.3,1665.8 420.0,1665.2 420.7,1665.6 421.4,1664.6 422.1,1665.2 422.8,1664.9 423.5,1664.8 424.2,1665.1 424.9,1665.7 425.6,1665.8 426.3,1665.4 427.0,1665.1 427.7,1665.1 428.4,1665.3 429.1,1665.6 429.8,1665.8 430.5,1665.0 431.2,1664.7 431.9,1664.1 432.6,1664.9 433.3,1664.8 434.0,1665.3 434.7,1665.1 435.4,1665.6 436.1,1666.0 436.8,1666.0 437.5,1665.1 438.2,1664.6 438.9,1665.3 439.6,1665.6 440.3,1665.6 441.0,1665.7 441.7,1666.6 442.4,1666.9 443.1,1666.0 443.8,1664.9 444.5,1665.3 445.2,1665.5 445.9,1665.4 446.6,1664.7 447.3,1664.3 448.0,1664.9 448.7,1664.7 449.4,1665.6 450.1,1665.2 450.8,1666.0 451.5,1665.2 452.2,1665.5 452.9,1665.0 453.6,1664.9 454.3,1664.5 455.0,1663.9 455.7,1663.7 456.4,1663.7 457.1,1662.9 457.8,1659.9 458.5,1655.4 459.1,1651.4 459.2,1651.6 459.6,1649.6 459.9,1647.8 460.1,1646.9 460.6,1648.5 461.1,1652.4 461.3,1654.4 462.0,1658.6 462.7,1661.2 463.4,1662.3 464.1,1663.3 464.8,1663.2 465.5,1662.9 466.2,1662.7 466.9,1663.4 467.6,1664.1 468.3,1664.8 469.0,1664.5 469.7,1665.0 470.4,1664.7 471.1,1665.5 471.8,1665.2 472.5,1665.4 473.2,1665.4 473.9,1666.1 474.6,1665.6 475.3,1665.8 476.0,1664.9 476.7,1664.9 477.4,1664.1 478.1,1664.9 478.8,1664.8 479.5,1665.4 480.2,1665.2 480.9,1665.5 481.6,1665.4 482.3,1666.1 483.0,1666.7 483.7,1666.3 484.4,1665.6 485.1,1664.9 485.8,1665.1 486.5,1664.8 487.2,1665.2 487.9,1664.9 488.6,1664.7 489.3,1664.5 490.0,1664.9 490.7,1665.8 491.4,1666.0 492.1,1665.6 492.8,1664.8 493.5,1664.7 494.2,1665.1 494.9,1665.7 495.6,1666.1 496.3,1665.2 497.0,1664.7 497.7,1664.4 498.4,1664.8 499.1,1665.6 499.8,1665.4 500.5,1666.0 501.2,1665.3 501.9,1665.5 502.6,1665.4 503.3,1665.6 504.0,1665.0 504.7,1664.1 505.4,1663.9 506.1,1664.7 506.8,1665.3 507.5,1665.2 508.2,1665.3 508.9,1665.6 509.6,1665.3 510.3,1664.9 511.0,1664.6 511.7,1664.9 512.4,1664.7 513.1,1664.9 513.8,1664.8 514.5,1664.9 515.2,1664.5 515.9,1664.3 516.6,1663.7 517.3,1663.4 518.0,1663.1 518.7,1663.1 519.4,1662.9 520.1,1661.2 520.8,1658.7 521.5,1656.5 521.9,1655.6 522.2,1655.4 522.4,1654.2 522.9,1654.3 523.4,1654.0 523.6,1655.1 523.9,1655.2 524.3,1656.7 525.0,1658.5 525.7,1660.1 526.4,1661.3 527.1,1662.7 527.8,1663.3 528.5,1663.9 529.2,1662.8 529.9,1663.7 530.6,1663.8 531.3,1664.2 532.0,1663.8 532.7,1664.4 533.4,1665.1 534.1,1665.2 534.8,1665.1 535.5,1664.5 536.2,1664.7 536.9,1664.6 537.6,1664.9 538.3,1665.4 539.0,1665.7 539.7,1665.5 540.4,1665.6 541.1,1665.3 541.8,1664.9 542.5,1665.0 543.2,1665.3 543.9,1665.4 544.6,1665.0 545.3,1665.0 546.0,1665.8 546.7,1665.8 547.4,1665.4 548.1,1664.9 548.8,1664.6 549.5,1664.7 550.2,1665.6 550.9,1665.6 551.6,1665.5 552.3,1664.4 553.0,1665.4 553.7,1664.8 554.4,1665.5 555.1,1665.1 555.8,1665.3 556.5,1664.8 557.2,1664.6 557.9,1665.5 558.6,1665.5 559.3,1665.7 560.0,1665.1 560.7,1664.6 561.4,1663.5 562.1,1662.3 562.4,1662.5 562.8,1662.6 562.9,1662.9 563.4,1661.9 563.5,1661.3 563.9,1661.4 564.2,1661.8 564.4,1661.6 564.9,1661.4 565.6,1662.4 566.3,1663.8 567.0,1665.0 567.7,1665.7 568.4,1665.1 569.1,1664.3 569.8,1663.9 570.5,1664.9 571.2,1665.3 571.9,1665.3 572.6,1665.2 573.3,1665.3 574.0,1665.0 574.7,1664.7 575.4,1664.9 576.1,1665.5 576.8,1665.5 577.5,1665.2 578.2,1664.5 578.9,1664.5 579.6,1665.0 580.3,1665.1 581.0,1665.1 581.7,1665.2 582.4,1665.6 583.1,1666.5 583.8,1666.5 584.5,1666.6 585.2,1666.6 585.9,1665.8 586.6,1664.9 587.3,1663.8 588.0,1664.6 588.7,1665.6 589.4,1666.2 590.1,1665.9 590.8,1665.0 591.5,1664.9 592.2,1665.0 592.9,1665.1 593.6,1664.5 594.3,1664.9 595.0,1665.1 595.7,1665.7 596.4,1665.4 597.1,1665.2 597.8,1665.0 598.5,1664.8 599.2,1665.0 599.9,1664.9 600.6,1665.4 601.3,1665.1 602.0,1665.4 602.7,1665.2 603.4,1665.8 604.1,1664.6 604.8,1664.8 605.5,1664.7 606.2,1665.6 606.9,1665.3 607.6,1665.0 608.3,1664.6 609.0,1665.8 609.7,1665.9 610.4,1666.6 611.1,1665.1 611.8,1665.0 612.5,1663.9 613.2,1664.3 613.9,1664.2 614.6,1665.0 615.3,1665.2 616.0,1666.0 616.7,1666.1 617.4,1665.5 618.1,1664.8 618.8,1665.0 619.5,1666.1 620.2,1665.4 620.9,1664.7 621.6,1663.7 622.3,1664.6 623.0,1665.3 623.7,1666.0 624.4,1666.3 625.1,1666.6 625.8,1665.9 626.5,1665.3 627.2,1664.2 627.9,1664.1 628.6,1664.7 629.3,1665.3 630.0,1666.3 630.7,1665.9 631.4,1665.6 632.1,1665.0 632.8,1664.4 633.5,1665.0 634.2,1665.0 634.9,1665.2 635.6,1665.1 636.3,1665.0 637.0,1666.0 637.7,1665.7 638.4,1665.4 639.1,1664.9 639.8,1665.0 640.5,1664.8 641.2,1665.1 641.9,1665.5 642.6,1665.6 643.3,1665.0 644.0,1664.2 644.7,1664.3 645.4,1664.2 646.1,1664.6 646.8,1664.9 647.5,1665.7 648.2,1665.3 648.9,1664.7 649.6,1663.6 650.3,1663.8 651.0,1664.2 651.7,1664.2 652.4,1664.0 653.1,1663.2 653.8,1662.7 654.5,1662.3 655.2,1662.8 655.9,1663.0 656.6,1662.3 656.8,1661.6 657.3,1661.6 657.8,1662.9 658.0,1662.9 658.3,1664.1 658.7,1663.7 658.8,1664.7 659.4,1664.1 660.1,1663.0 660.8,1662.8 661.5,1662.8 662.2,1664.1 662.9,1664.7 663.6,1664.8 664.3,1664.5 665.0,1664.3 665.7,1664.5 666.4,1665.1 667.1,1664.8 667.8,1664.8 668.5,1663.5 669.2,1663.8 669.9,1664.2 670.6,1665.3 671.3,1665.0 672.0,1664.6 672.7,1663.9 673.3,1663.3 673.4,1663.7 673.8,1664.1 674.1,1663.4 674.3,1662.5 674.8,1662.2 675.3,1663.6 675.5,1663.5 676.2,1663.9 676.9,1664.3 677.6,1665.5 678.3,1665.5 679.0,1665.3 679.7,1664.8 680.4,1665.6 681.1,1666.0 681.8,1666.3 682.5,1666.6 683.2,1666.7 683.9,1666.6 684.6,1666.6 685.3,1666.9 686.0,1667.4 686.7,1667.5 687.4,1667.1 688.1,1665.8 688.8,1665.0 689.5,1665.0 690.2,1665.7 690.9,1666.2 691.6,1666.2 692.3,1667.0 693.0,1666.9 693.7,1667.2 694.4,1666.9 695.1,1667.3 695.8,1666.8 696.5,1666.9 697.2,1666.3 697.9,1665.8 698.6,1665.9 699.3,1666.0 700.0,1667.2 700.7,1666.2 701.4,1666.3 702.1,1665.6 702.8,1666.9 703.5,1667.3 704.2,1667.5 704.9,1665.7 705.6,1665.2 706.3,1665.3 707.0,1666.2 707.7,1666.3 708.4,1666.1 709.1,1666.4 709.8,1666.4 710.5,1666.3 711.2,1666.3 711.9,1666.4 712.6,1666.6 713.3,1666.1 714.0,1665.5 714.7,1666.5 715.4,1667.6 716.1,1668.3 716.8,1667.2 717.5,1666.6 718.2,1666.1 718.9,1665.9 719.6,1664.8 720.3,1664.9 721.0,1665.0 721.7,1666.2 722.4,1666.6 723.1,1666.6 723.8,1666.1 724.5,1665.9 725.2,1666.1 725.9,1666.3 726.6,1666.7 727.3,1666.2 728.0,1666.3 728.7,1665.9 729.4,1666.8 730.1,1666.7 730.8,1666.4 731.5,1666.4 732.2,1666.8 732.9,1666.9 733.6,1667.0 734.3,1667.5 735.0,1667.6 735.7,1667.5 736.4,1665.6 737.1,1665.9 737.8,1665.3 738.5,1666.4 739.2,1666.3 739.9,1666.7 740.6,1667.0 741.3,1667.4 742.0,1667.7 742.7,1667.0 743.4,1666.6 744.1,1666.2 744.8,1666.3 745.5,1666.1 746.2,1666.2 746.9,1666.5 747.6,1666.7 748.3,1666.3 749.0,1666.5 749.7,1666.4 750.4,1667.5 751.1,1667.2 751.8,1667.5 752.5,1667.3 753.2,1667.3 753.9,1666.7 754.6,1666.3 755.3,1665.5 756.0,1666.1 756.7,1666.1 757.4,1667.1 758.1,1667.0 758.8,1667.6 759.5,1667.5 760.2,1667.3 760.9,1667.7 761.6,1667.6 762.3,1668.1 763.0,1666.9 763.7,1666.7 764.4,1666.4 765.1,1666.1 765.8,1666.0 766.5,1665.6 767.0,1665.4 767.2,1665.0 767.5,1664.8 767.9,1664.0 768.0,1664.4 768.5,1663.7 768.6,1664.5 769.0,1664.5 769.3,1665.4 770.0,1665.9 770.7,1666.9 771.4,1667.3 772.1,1667.2 772.8,1666.7 773.5,1666.4 774.2,1666.0 774.9,1665.5 775.6,1666.1 776.3,1666.7 777.0,1667.2 777.7,1667.2 778.4,1666.6 779.1,1665.8 779.8,1665.3 780.5,1665.5 781.2,1666.3 781.9,1666.3 782.6,1666.4 783.3,1666.7 784.0,1666.5 784.7,1666.4 785.4,1666.4 786.1,1667.0 786.8,1667.4 787.5,1667.2 788.2,1666.9 788.9,1666.9 789.6,1666.5 790.3,1667.2 791.0,1667.3 791.7,1667.0 792.4,1666.0 793.1,1666.3 793.8,1666.3 794.5,1666.2 795.2,1665.8 795.9,1665.7 796.6,1666.4 797.3,1667.4 798.0,1668.7 798.7,1668.7 799.4,1668.5 800.1,1667.9 800.8,1667.8 801.5,1667.6 802.2,1667.5 802.9,1667.4 803.6,1667.1 804.3,1667.0 805.0,1667.3 805.7,1667.7 806.4,1667.4 807.1,1667.1 807.8,1666.2 808.5,1667.3 809.2,1667.8 809.9,1668.3 810.6,1667.4 811.3,1667.5 812.0,1667.0 812.7,1666.8 813.4,1666.2 814.1,1667.0 814.8,1667.6 815.5,1667.7 816.2,1667.0 816.9,1667.4 817.6,1667.3 818.3,1667.3 819.0,1667.2 819.7,1667.7 820.4,1667.9 821.1,1667.9 821.8,1667.8 822.5,1667.1 823.2,1667.0 823.9,1666.6 824.6,1667.4 825.3,1667.3 826.0,1667.7 826.7,1668.0 827.4,1667.7 828.1,1667.4 828.8,1666.9 829.5,1667.2 830.2,1666.9 830.9,1667.1 831.6,1667.5 832.3,1667.8 833.0,1667.1 833.7,1667.1 834.4,1667.9 835.1,1668.7 835.8,1669.1 836.5,1669.0 837.2,1668.8 837.9,1668.1 838.6,1668.6 839.3,1668.9 840.0,1668.9 840.7,1668.5 841.4,1668.0 842.1,1668.0 842.8,1668.0 843.5,1668.7 844.2,1668.7 844.9,1668.5 845.6,1668.5 846.3,1667.9 847.0,1667.5 847.7,1667.5 848.4,1668.4 849.1,1668.1 849.8,1668.1 850.5,1667.8 851.2,1668.5 851.9,1668.3 852.6,1668.9 853.3,1668.4 854.0,1669.0 854.7,1668.5 855.4,1668.7 856.1,1667.8 856.8,1667.9 857.5,1668.0 858.2,1668.1 858.9,1668.4 859.6,1668.6 860.3,1668.6 861.0,1668.4 861.7,1668.3 862.4,1668.7 863.1,1669.2 863.8,1668.8 864.5,1668.7 865.2,1668.5 865.9,1668.4 866.6,1668.3 867.3,1668.6 868.0,1669.0 868.7,1668.4 869.4,1667.0 870.1,1667.2 870.8,1667.5 871.5,1668.3 872.2,1668.6 872.9,1668.3 873.6,1668.3 874.3,1668.6 875.0,1669.6 875.7,1669.5 876.4,1668.2 877.1,1667.7 877.8,1668.1 878.5,1668.9 879.2,1668.4 879.9,1668.6 880.6,1668.2 881.3,1668.1 882.0,1667.5 882.7,1667.8 883.4,1668.2 884.1,1668.1 884.8,1668.3 885.5,1668.8 886.2,1668.7 886.9,1668.7 887.6,1668.0 888.3,1667.6 889.0,1667.5 889.7,1667.3 890.4,1668.2 891.1,1667.9 891.8,1667.3 892.5,1667.1 893.2,1667.7 893.9,1669.0 894.6,1668.9 895.3,1668.8 896.0,1668.8 896.7,1669.9 897.4,1670.3 898.1,1670.8 898.8,1670.7 899.5,1670.3 900.2,1669.7 900.9,1668.7 901.6,1668.4 902.3,1668.8 903.0,1669.6 903.4,1669.4" fill="none" stroke="#141414" stroke-width="3.30" stroke-linejoin="round" stroke-linecap="butt"/>
<line x1="21.7" y1="1021.0" x2="21.7" y2="1687.6" stroke="#484848" stroke-width="2.40"/>
<path d="M20.5,1021.0 L903.9,1021.0 L903.9,1687.6" fill="none" stroke="#1c1c1c" stroke-width="2.40" stroke-linejoin="round"/>
<line x1="20.5" y1="1673.6" x2="903.9" y2="1673.6" stroke="#484848" stroke-width="2.60"/>
<text x="21.9" y="1715.8" font-family='"Liberation Serif", serif' font-size="25.6" text-anchor="middle" fill="#2e2e2e">10</text>
<line x1="84.7" y1="1673.6" x2="84.7" y2="1681.2" stroke="#484848" stroke-width="2.10"/>
<line x1="147.7" y1="1673.6" x2="147.7" y2="1687.6" stroke="#484848" stroke-width="2.10"/>
<text x="147.9" y="1715.8" font-family='"Liberation Serif", serif' font-size="25.6" text-anchor="middle" fill="#2e2e2e">20</text>
<line x1="210.7" y1="1673.6" x2="210.7" y2="1681.2" stroke="#484848" stroke-width="2.10"/>
<line x1="273.8" y1="1673.6" x2="273.8" y2="1687.6" stroke="#484848" stroke-width="2.10"/>
<text x="274.0" y="1715.8" font-family='"Liberation Serif", serif' font-size="25.6" text-anchor="middle" fill="#2e2e2e">30</text>
<line x1="336.8" y1="1673.6" x2="336.8" y2="1681.2" stroke="#484848" stroke-width="2.10"/>
<line x1="399.8" y1="1673.6" x2="399.8" y2="1687.6" stroke="#484848" stroke-width="2.10"/>
<text x="400.0" y="1715.8" font-family='"Liberation Serif", serif' font-size="25.6" text-anchor="middle" fill="#2e2e2e">40</text>
<line x1="462.8" y1="1673.6" x2="462.8" y2="1681.2" stroke="#484848" stroke-width="2.10"/>
<line x1="525.8" y1="1673.6" x2="525.8" y2="1687.6" stroke="#484848" stroke-width="2.10"/>
<text x="526.0" y="1715.8" font-family='"Liberation Serif", serif' font-size="25.6" text-anchor="middle" fill="#2e2e2e">50</text>
<line x1="588.8" y1="1673.6" x2="588.8" y2="1681.2" stroke="#484848" stroke-width="2.10"/>
<line x1="651.8" y1="1673.6" x2="651.8" y2="1687.6" stroke="#484848" stroke-width="2.10"/>
<text x="652.0" y="1715.8" font-family='"Liberation Serif", serif' font-size="25.6" text-anchor="middle" fill="#2e2e2e">60</text>
<line x1="714.9" y1="1673.6" x2="714.9" y2="1681.2" stroke="#484848" stroke-width="2.10"/>
<line x1="777.9" y1="1673.6" x2="777.9" y2="1687.6" stroke="#484848" stroke-width="2.10"/>
<text x="778.1" y="1715.8" font-family='"Liberation Serif", serif' font-size="25.6" text-anchor="middle" fill="#2e2e2e">70</text>
<line x1="840.9" y1="1673.6" x2="840.9" y2="1681.2" stroke="#484848" stroke-width="2.10"/>
<text x="904.1" y="1715.8" font-family='"Liberation Serif", serif' font-size="25.6" text-anchor="middle" fill="#2e2e2e">80</text>
<polygon points="121.3,1150.2 128.0,1158.4 121.3,1166.6 114.6,1158.4" fill="#0c0c0c"/>
<polygon points="159.6,1204.6 166.3,1212.8 159.6,1221.0 152.9,1212.8" fill="#0c0c0c"/>
<polygon points="244.9,1185.9 251.6,1194.1 244.9,1202.3 238.2,1194.1" fill="#0c0c0c"/>
<polygon points="269.7,1175.0 276.4,1183.2 269.7,1191.4 263.0,1183.2" fill="#0c0c0c"/>
<polygon points="316.2,1044.9 322.9,1053.1 316.2,1061.3 309.5,1053.1" fill="#0c0c0c"/>
<polygon points="364.6,1185.9 371.3,1194.1 364.6,1202.3 357.9,1194.1" fill="#0c0c0c"/>
<polygon points="382.6,1210.4 389.3,1218.6 382.6,1226.8 375.9,1218.6" fill="#0c0c0c"/>
<polygon points="418.3,1188.3 425.0,1196.5 418.3,1204.7 411.6,1196.5" fill="#0c0c0c"/>
<polygon points="438.7,1212.4 445.4,1220.6 438.7,1228.8 432.0,1220.6" fill="#0c0c0c"/>
<polygon points="491.0,1179.5 497.7,1187.7 491.0,1195.9 484.3,1187.7" fill="#0c0c0c"/>
<polygon points="563.0,1185.9 569.7,1194.1 563.0,1202.3 556.3,1194.1" fill="#0c0c0c"/>
<polygon points="590.9,1172.3 597.6,1180.5 590.9,1188.7 584.2,1180.5" fill="#0c0c0c"/>
<polygon points="606.5,1203.6 613.2,1211.8 606.5,1220.0 599.8,1211.8" fill="#0c0c0c"/>
<polygon points="622.1,1173.7 628.8,1181.9 622.1,1190.1 615.4,1181.9" fill="#0c0c0c"/>
<polygon points="663.6,1208.3 670.3,1216.5 663.6,1224.7 656.9,1216.5" fill="#0c0c0c"/>
<polygon points="677.7,1190.7 684.4,1198.9 677.7,1207.1 671.0,1198.9" fill="#0c0c0c"/>
<polygon points="777.9,1201.2 784.6,1209.4 777.9,1217.6 771.2,1209.4" fill="#0c0c0c"/>
<polygon points="805.4,1189.6 812.1,1197.8 805.4,1206.0 798.7,1197.8" fill="#0c0c0c"/>
<polygon points="828.1,1209.7 834.8,1217.9 828.1,1226.1 821.4,1217.9" fill="#0c0c0c"/>
<polygon points="867.5,1209.0 874.2,1217.2 867.5,1225.4 860.8,1217.2" fill="#0c0c0c"/>
<path d="M109.40,1648.15 L102.13,1639.36 C100.55,1636.85 101.97,1632.45 105.45,1632.45 C107.66,1632.45 108.93,1633.86 109.40,1636.06 C109.87,1633.86 111.14,1632.45 113.35,1632.45 C116.83,1632.45 118.25,1636.85 116.67,1639.36 Z" fill="#0c0c0c"/>
<path d="M254.10,1629.45 L246.83,1620.66 C245.25,1618.15 246.67,1613.75 250.15,1613.75 C252.36,1613.75 253.63,1615.16 254.10,1617.36 C254.57,1615.16 255.84,1613.75 258.05,1613.75 C261.53,1613.75 262.95,1618.15 261.37,1620.66 Z" fill="#0c0c0c"/>
<path d="M271.70,1638.65 L264.43,1629.86 C262.85,1627.35 264.27,1622.95 267.75,1622.95 C269.96,1622.95 271.23,1624.36 271.70,1626.56 C272.17,1624.36 273.44,1622.95 275.65,1622.95 C279.13,1622.95 280.55,1627.35 278.97,1629.86 Z" fill="#0c0c0c"/>
<path d="M312.50,1613.15 L305.23,1604.36 C303.65,1601.85 305.07,1597.45 308.55,1597.45 C310.76,1597.45 312.03,1598.86 312.50,1601.06 C312.97,1598.86 314.24,1597.45 316.45,1597.45 C319.93,1597.45 321.35,1601.85 319.77,1604.36 Z" fill="#0c0c0c"/>
<path d="M332.20,1641.35 L324.93,1632.56 C323.35,1630.05 324.77,1625.65 328.25,1625.65 C330.46,1625.65 331.73,1627.06 332.20,1629.26 C332.67,1627.06 333.94,1625.65 336.15,1625.65 C339.63,1625.65 341.05,1630.05 339.47,1632.56 Z" fill="#0c0c0c"/>
<path d="M459.80,1635.25 L452.53,1626.46 C450.95,1623.95 452.37,1619.55 455.85,1619.55 C458.06,1619.55 459.33,1620.96 459.80,1623.16 C460.27,1620.96 461.54,1619.55 463.75,1619.55 C467.23,1619.55 468.65,1623.95 467.07,1626.46 Z" fill="#0c0c0c"/>
<path d="M525.30,1636.25 L518.03,1627.46 C516.45,1624.95 517.87,1620.55 521.35,1620.55 C523.56,1620.55 524.83,1621.96 525.30,1624.16 C525.77,1621.96 527.04,1620.55 529.25,1620.55 C532.73,1620.55 534.15,1624.95 532.57,1627.46 Z" fill="#0c0c0c"/>
<path d="M562.70,1642.05 L555.43,1633.26 C553.85,1630.75 555.27,1626.35 558.75,1626.35 C560.96,1626.35 562.23,1627.76 562.70,1629.96 C563.17,1627.76 564.44,1626.35 566.65,1626.35 C570.13,1626.35 571.55,1630.75 569.97,1633.26 Z" fill="#0c0c0c"/>
<path d="M675.30,1645.45 L668.03,1636.66 C666.45,1634.15 667.87,1629.75 671.35,1629.75 C673.56,1629.75 674.83,1631.16 675.30,1633.36 C675.77,1631.16 677.04,1629.75 679.25,1629.75 C682.73,1629.75 684.15,1634.15 682.57,1636.66 Z" fill="#0c0c0c"/>
<path d="M770.40,1642.65 L763.13,1633.86 C761.55,1631.35 762.97,1626.95 766.45,1626.95 C768.66,1626.95 769.93,1628.36 770.40,1630.56 C770.87,1628.36 772.14,1626.95 774.35,1626.95 C777.83,1626.95 779.25,1631.35 777.67,1633.86 Z" fill="#0c0c0c"/>
<text x="301.8" y="962.3" font-family='"Liberation Serif", serif' font-size="69.5" text-anchor="start" fill="#161616">0.4 mol</text>
<text x="308.4" y="1768.6" font-family='"Liberation Serif", serif' font-size="41.2" text-anchor="start" fill="#161616">2 Theta (Degree)</text>
<text x="907.8" y="1238.3" font-family='"Liberation Serif", serif' font-size="31.7" text-anchor="start" fill="#161616">1400/4h</text>
<text x="906.6" y="1421.0" font-family='"Liberation Serif", serif' font-size="31.7" text-anchor="start" fill="#161616">1200/4h</text>
<text x="907.8" y="1565.4" font-family='"Liberation Serif", serif' font-size="31.7" text-anchor="start" fill="#161616">1000/4h</text>
<text x="907.8" y="1638.6" font-family='"Liberation Serif", serif' font-size="31.7" text-anchor="start" fill="#161616">Initial</text>
<text x="907.8" y="1676.6" font-family='"Liberation Serif", serif' font-size="31.7" text-anchor="start" fill="#161616">Powder</text>
<text x="797.7" y="1060.5" font-family='"Liberation Sans", sans-serif' font-size="31.0" text-anchor="start" fill="#161616" style="font-kerning:none">:<tspan x="808.5">YAG</tspan></text>
<text x="797.7" y="1100.3" font-family='"Liberation Sans", sans-serif' font-size="31.0" text-anchor="start" fill="#161616" style="font-kerning:none">:<tspan x="808.0">YAP</tspan></text>
<polygon points="787.0,1044.8 793.9,1052.7 787.0,1060.6 780.1,1052.7" fill="#0c0c0c"/>
<path d="M786.40,1100.20 L779.04,1091.69 C777.44,1089.26 778.88,1085.00 782.40,1085.00 C784.64,1085.00 785.92,1086.37 786.40,1088.50 C786.88,1086.37 788.16,1085.00 790.40,1085.00 C793.92,1085.00 795.36,1089.26 793.76,1091.69 Z" fill="#0c0c0c"/>
</g>
<g>
<polyline points="17.7,2072.5 18.4,2072.5 19.1,2072.9 19.8,2072.7 20.5,2073.0 21.2,2073.0 21.9,2072.5 22.6,2072.5 23.3,2072.7 24.0,2072.9 24.7,2073.1 25.4,2073.4 26.1,2073.2 26.8,2073.3 27.5,2073.3 28.2,2073.1 28.9,2073.1 29.6,2073.1 30.3,2073.1 31.0,2072.9 31.7,2073.1 32.4,2073.4 33.1,2073.4 33.8,2073.3 34.5,2073.6 35.2,2073.6 35.9,2073.5 36.6,2073.7 37.3,2073.7 38.0,2073.7 38.7,2073.8 39.4,2073.9 40.1,2073.8 40.8,2073.7 41.5,2073.6 42.2,2073.5 42.9,2073.4 43.6,2073.3 44.3,2073.5 45.0,2073.7 45.7,2073.6 46.4,2073.6 47.1,2073.8 47.8,2073.8 48.5,2073.6 49.2,2073.7 49.9,2073.9 50.6,2074.1 51.3,2074.1 52.0,2074.1 52.7,2074.3 53.4,2074.2 54.1,2073.9 54.8,2073.9 55.5,2073.9 56.2,2073.7 56.9,2073.3 57.6,2073.6 58.3,2073.6 59.0,2073.6 59.7,2073.8 60.4,2074.1 61.1,2073.9 61.8,2073.8 62.5,2073.8 63.2,2073.5 63.9,2073.3 64.6,2073.3 65.3,2073.6 66.0,2073.7 66.7,2074.1 67.4,2074.4 68.1,2074.5 68.8,2074.3 69.5,2074.3 70.2,2074.1 70.9,2074.0 71.6,2074.1 72.3,2074.0 73.0,2073.9 73.7,2074.0 74.4,2074.0 75.1,2074.0 75.8,2074.2 76.5,2074.4 77.2,2074.3 77.9,2074.3 78.6,2074.1 79.3,2074.0 80.0,2074.1 80.7,2074.2 81.4,2074.3 82.1,2074.4 82.8,2074.4 83.5,2074.3 84.2,2074.3 84.9,2074.2 85.6,2074.5 86.3,2074.5 87.0,2074.4 87.7,2074.3 88.4,2074.4 89.1,2074.3 89.8,2074.3 90.5,2074.2 91.2,2074.4 91.9,2074.5 92.6,2074.3 93.3,2074.1 94.0,2074.4 94.7,2074.2 95.4,2074.1 96.1,2074.1 96.8,2074.5 97.5,2074.1 98.2,2074.4 98.9,2074.3 99.6,2074.5 100.3,2074.2 101.0,2074.4 101.7,2074.1 102.4,2074.2 103.1,2074.3 103.8,2074.2 104.5,2073.9 105.2,2074.0 105.9,2073.7 106.6,2073.4 107.3,2073.5 108.0,2073.7 108.7,2073.6 109.4,2074.1 110.1,2074.5 110.8,2074.7 111.5,2074.9 112.2,2074.8 112.9,2074.3 113.6,2073.5 114.3,2072.2 115.0,2068.8 115.2,2066.6 115.7,2055.4 116.2,2043.0 116.4,2046.1 116.7,2056.0 117.1,2065.8 117.2,2067.4 117.8,2071.5 118.5,2072.9 119.2,2073.6 119.9,2074.1 120.6,2074.1 121.3,2074.4 122.0,2074.4 122.7,2074.3 123.4,2074.2 124.1,2074.3 124.8,2074.3 125.5,2074.4 126.2,2074.4 126.9,2074.6 127.6,2074.5 128.3,2074.6 129.0,2074.5 129.7,2074.6 130.4,2074.6 131.1,2074.7 131.8,2074.9 132.5,2075.1 133.2,2075.1 133.9,2075.0 134.6,2074.9 135.3,2074.7 136.0,2074.7 136.7,2074.7 137.4,2074.9 138.1,2074.7 138.8,2074.8 139.5,2074.6 140.2,2074.5 140.9,2074.2 141.6,2074.2 142.3,2074.1 143.0,2074.3 143.7,2074.5 144.4,2074.8 145.1,2074.8 145.8,2074.9 146.5,2074.6 147.2,2074.2 147.9,2073.9 148.6,2073.6 149.1,2073.1 149.3,2072.3 149.6,2070.8 150.0,2068.5 150.1,2068.2 150.6,2070.2 150.7,2071.0 151.1,2072.6 151.4,2073.3 152.1,2073.7 152.8,2073.9 153.5,2074.0 154.2,2074.1 154.9,2074.2 155.6,2074.3 156.3,2074.4 157.0,2074.5 157.7,2074.6 158.4,2074.6 159.1,2074.6 159.8,2074.8 160.5,2074.7 161.2,2075.0 161.9,2074.8 162.6,2074.9 163.3,2074.8 164.0,2075.1 164.7,2074.9 165.4,2075.1 166.1,2075.2 166.8,2075.2 167.5,2075.0 168.2,2075.1 168.9,2075.0 169.6,2075.1 170.3,2075.1 171.0,2075.0 171.7,2074.8 172.4,2074.7 173.1,2074.4 173.8,2074.5 174.5,2074.7 175.2,2074.7 175.9,2074.8 176.6,2075.1 177.3,2075.0 178.0,2074.7 178.7,2074.7 179.4,2074.6 180.1,2074.5 180.8,2074.6 181.5,2074.7 182.2,2075.0 182.9,2075.2 183.6,2075.4 184.3,2075.4 185.0,2075.4 185.7,2075.1 186.4,2075.1 187.1,2075.0 187.8,2075.1 188.5,2074.9 189.2,2075.1 189.9,2074.8 190.6,2074.7 191.3,2074.6 192.0,2074.7 192.7,2074.8 193.4,2074.9 194.1,2075.0 194.8,2074.9 195.5,2075.0 196.2,2074.7 196.9,2074.7 197.6,2074.7 198.3,2074.8 199.0,2074.8 199.7,2075.1 200.4,2075.4 201.1,2075.2 201.8,2075.1 202.5,2075.2 203.2,2075.0 203.9,2074.7 204.6,2075.1 205.3,2075.1 206.0,2075.2 206.7,2075.2 207.4,2075.4 208.1,2075.2 208.8,2075.2 209.5,2074.9 210.2,2074.8 210.9,2074.8 211.6,2074.9 212.3,2074.9 213.0,2075.2 213.7,2075.2 214.4,2075.3 215.1,2075.2 215.8,2075.0 216.5,2074.8 217.2,2075.2 217.9,2075.3 218.6,2075.3 219.3,2075.4 220.0,2075.3 220.7,2075.1 221.4,2074.7 222.1,2074.7 222.8,2074.7 223.5,2075.0 224.2,2074.9 224.9,2075.0 225.6,2074.8 226.3,2074.8 227.0,2074.7 227.7,2074.6 228.4,2074.5 229.1,2074.6 229.8,2074.1 230.5,2073.3 231.2,2072.2 231.7,2068.5 231.9,2065.6 232.2,2058.9 232.6,2048.7 232.7,2047.8 233.2,2059.1 233.3,2061.4 233.7,2068.6 234.0,2071.1 234.7,2073.0 235.4,2073.8 236.1,2074.5 236.8,2074.7 237.5,2074.5 238.2,2075.0 238.9,2074.8 239.6,2074.6 240.3,2074.5 241.0,2075.0 241.7,2074.6 242.4,2074.8 243.1,2074.7 243.8,2074.5 244.5,2074.2 245.2,2074.4 245.9,2074.3 246.6,2074.5 247.3,2074.5 248.0,2074.3 248.7,2073.7 249.4,2072.9 250.1,2071.1 250.8,2065.6 251.0,2061.9 251.5,2041.8 252.0,2019.2 252.2,2024.1 252.5,2041.2 252.9,2058.2 253.0,2060.6 253.6,2067.7 254.3,2068.6 254.8,2064.8 255.0,2061.4 255.3,2052.9 255.7,2039.6 255.8,2038.8 256.3,2053.6 256.4,2057.0 256.8,2066.1 257.1,2069.5 257.8,2072.5 258.5,2073.8 259.2,2074.2 259.9,2074.7 260.6,2075.1 261.3,2075.1 262.0,2074.9 262.7,2074.9 263.4,2075.0 264.1,2074.8 264.8,2074.6 265.5,2074.7 266.2,2074.8 266.9,2074.7 267.6,2074.6 268.3,2074.7 269.0,2074.9 269.7,2074.6 270.2,2073.9 270.4,2073.8 270.7,2073.8 271.1,2074.0 271.2,2074.1 271.7,2074.9 271.8,2074.8 272.5,2074.9 273.2,2074.8 273.9,2075.0 274.6,2075.0 275.3,2075.0 276.0,2075.1 276.7,2075.3 277.4,2075.1 278.1,2075.2 278.8,2075.2 279.5,2074.9 280.2,2075.0 280.9,2074.9 281.6,2074.6 282.3,2074.6 283.0,2074.8 283.7,2074.7 284.4,2075.1 285.1,2075.2 285.8,2075.4 286.5,2075.2 287.2,2074.9 287.9,2074.6 288.6,2074.5 289.3,2074.1 290.0,2074.0 290.7,2074.2 291.4,2073.9 292.1,2073.8 292.8,2073.5 293.5,2073.0 294.2,2072.5 294.9,2071.6 295.6,2070.0 296.3,2066.7 297.0,2059.8 297.7,2037.7 297.9,2025.2 298.4,1978.5 298.9,1943.1 299.1,1950.4 299.4,1978.9 299.8,2018.0 299.9,2025.6 300.5,2053.4 301.2,2064.3 301.9,2068.5 302.6,2070.7 303.3,2071.9 304.0,2072.9 304.7,2073.4 305.4,2073.7 306.1,2073.8 306.8,2074.0 307.5,2074.1 308.2,2074.3 308.9,2074.4 309.6,2074.3 310.3,2074.1 311.0,2074.2 311.7,2074.3 312.4,2074.3 313.1,2074.7 313.8,2075.3 314.5,2075.1 315.2,2075.2 315.9,2075.1 316.6,2074.8 317.3,2074.4 318.0,2074.5 318.7,2074.5 319.4,2074.9 320.1,2075.0 320.8,2075.1 321.5,2075.3 322.2,2075.1 322.9,2075.2 323.6,2075.1 324.3,2075.1 325.0,2075.1 325.7,2075.0 326.4,2074.7 327.1,2074.9 327.8,2075.0 328.5,2074.8 329.2,2075.0 329.9,2075.0 330.6,2074.8 331.3,2074.8 332.0,2074.9 332.7,2074.9 333.4,2074.7 334.1,2074.8 334.8,2074.7 335.5,2074.6 336.2,2073.9 336.9,2072.5 337.3,2069.9 337.6,2065.3 337.8,2060.6 338.3,2051.1 338.8,2060.7 339.0,2065.1 339.3,2069.7 339.7,2072.4 340.4,2073.9 341.1,2074.7 341.8,2074.8 342.5,2074.9 343.2,2075.2 343.9,2075.3 344.6,2075.5 345.3,2075.6 346.0,2075.7 346.7,2075.6 347.4,2075.5 348.1,2075.4 348.8,2075.3 349.5,2075.2 350.2,2075.2 350.9,2075.3 351.6,2075.0 352.3,2075.2 353.0,2075.0 353.7,2074.7 354.4,2074.8 355.1,2075.0 355.8,2074.8 356.2,2074.6 356.5,2074.4 356.7,2073.6 357.2,2072.0 357.7,2073.5 357.9,2074.5 358.2,2074.9 358.6,2075.3 359.3,2075.6 360.0,2075.4 360.7,2075.2 361.4,2075.2 362.1,2075.0 362.8,2075.0 363.5,2075.1 364.2,2075.0 364.9,2075.1 365.6,2075.3 366.3,2075.1 367.0,2075.2 367.7,2075.4 368.4,2075.4 369.1,2075.4 369.8,2075.6 370.4,2075.3 370.5,2075.4 370.9,2075.1 371.2,2075.0 371.4,2074.9 371.9,2075.4 372.4,2075.6 372.6,2075.7 373.3,2075.6 374.0,2075.6 374.7,2075.7 375.4,2075.7 376.1,2075.6 376.8,2075.6 377.5,2075.7 378.2,2075.3 378.9,2075.2 379.6,2075.2 380.3,2075.2 381.0,2074.8 381.7,2075.1 382.4,2075.3 383.1,2075.4 383.8,2075.4 384.5,2075.3 385.2,2075.2 385.9,2074.8 386.6,2074.8 387.3,2074.6 388.0,2074.6 388.7,2074.8 389.4,2075.0 390.1,2074.4 390.8,2073.8 391.5,2071.7 391.8,2069.1 392.2,2061.6 392.3,2059.0 392.8,2048.2 392.9,2048.9 393.3,2058.8 393.6,2065.8 393.8,2068.8 394.3,2072.3 395.0,2073.8 395.7,2074.5 396.4,2074.6 397.1,2074.8 397.8,2074.9 398.5,2074.8 399.2,2074.8 399.9,2074.8 400.6,2074.8 401.3,2074.9 402.0,2075.0 402.7,2075.0 403.4,2075.4 404.1,2075.5 404.8,2075.6 405.5,2075.4 406.2,2075.6 406.9,2075.4 407.6,2075.2 408.3,2075.0 408.8,2075.0 409.0,2074.8 409.3,2074.6 409.7,2073.9 409.8,2073.5 410.3,2074.0 410.4,2074.0 410.8,2074.2 411.1,2074.5 411.8,2074.9 412.5,2075.2 413.2,2075.3 413.9,2075.4 414.6,2075.5 415.3,2075.4 415.6,2075.6 416.0,2075.5 416.1,2075.4 416.6,2075.3 416.7,2075.5 417.1,2075.4 417.4,2075.4 417.6,2075.3 418.1,2075.4 418.8,2075.1 419.5,2075.0 420.2,2075.1 420.9,2075.3 421.6,2075.4 422.3,2075.8 423.0,2076.1 423.7,2075.9 424.4,2076.0 425.1,2075.7 425.8,2075.8 426.5,2075.6 427.2,2075.9 427.9,2075.6 428.6,2075.4 429.3,2075.5 430.0,2075.2 430.7,2075.3 431.4,2075.3 432.1,2075.5 432.8,2075.3 433.5,2075.3 434.2,2075.0 434.9,2074.9 435.6,2075.0 436.3,2074.8 437.0,2074.8 437.7,2074.9 438.4,2075.0 439.1,2075.1 439.8,2075.1 440.5,2075.4 441.2,2075.6 441.9,2075.2 442.6,2075.1 443.3,2075.1 444.0,2075.0 444.7,2075.1 445.4,2075.2 446.1,2075.5 446.8,2075.4 447.5,2075.2 448.2,2075.0 448.9,2074.8 449.6,2074.6 450.3,2075.0 451.0,2075.0 451.7,2075.2 452.4,2075.4 453.1,2075.1 453.8,2074.9 454.5,2074.5 455.2,2074.1 455.9,2073.9 456.6,2072.8 457.3,2068.5 457.4,2067.2 457.9,2054.4 458.0,2050.2 458.4,2039.5 458.7,2046.3 458.9,2054.1 459.4,2066.9 460.1,2072.3 460.8,2073.5 461.5,2074.2 462.2,2074.3 462.9,2074.7 463.6,2075.0 464.3,2075.0 465.0,2074.6 465.7,2073.8 466.4,2072.0 466.6,2071.2 467.1,2069.6 467.6,2068.4 467.8,2068.4 468.1,2069.4 468.5,2070.8 468.6,2071.1 469.2,2072.9 469.9,2074.1 470.6,2074.4 471.3,2074.7 472.0,2074.9 472.7,2075.0 473.4,2075.3 474.1,2075.3 474.8,2075.5 475.5,2075.3 476.2,2075.4 476.9,2075.2 477.6,2075.2 478.3,2075.1 479.0,2074.7 479.5,2074.2 479.7,2074.0 480.0,2073.3 480.4,2072.8 480.5,2073.0 481.0,2073.3 481.1,2073.4 481.5,2074.0 481.8,2074.6 482.5,2075.1 483.2,2075.3 483.9,2075.6 484.6,2076.0 485.3,2076.0 486.0,2075.6 486.7,2075.4 487.4,2075.3 488.1,2075.2 488.8,2075.1 489.5,2075.3 490.2,2075.6 490.9,2075.5 491.6,2075.5 492.3,2075.6 493.0,2075.5 493.7,2075.7 494.4,2076.0 495.1,2076.0 495.8,2075.7 496.5,2075.6 497.2,2075.4 497.9,2075.3 498.6,2075.5 499.3,2075.7 500.0,2076.0 500.7,2076.0 501.4,2075.5 502.1,2075.3 502.8,2075.2 503.5,2074.9 504.2,2074.8 504.9,2074.9 505.6,2075.0 506.3,2075.0 507.0,2075.2 507.7,2075.4 508.4,2075.8 509.1,2075.9 509.8,2076.2 510.5,2076.3 511.2,2076.2 511.9,2076.1 512.6,2076.0 513.3,2075.8 514.0,2075.6 514.7,2075.7 515.4,2075.8 516.1,2075.9 516.8,2075.8 517.3,2075.7 517.5,2075.6 517.8,2075.2 518.2,2075.4 518.3,2075.3 518.8,2075.5 518.9,2075.4 519.6,2075.6 520.3,2075.7 521.0,2075.7 521.7,2075.6 522.4,2075.7 523.1,2075.6 523.8,2075.3 524.5,2075.2 525.2,2075.5 525.9,2075.2 526.6,2074.9 527.3,2075.0 528.0,2074.8 528.7,2074.5 529.4,2074.7 530.1,2074.6 530.8,2074.0 531.5,2072.5 531.8,2070.7 532.2,2064.6 532.3,2062.4 532.8,2053.4 532.9,2053.7 533.3,2062.0 533.6,2067.9 533.8,2070.4 534.3,2073.1 535.0,2074.3 535.7,2074.9 536.4,2075.0 537.1,2075.1 537.8,2075.3 538.5,2075.3 539.2,2074.9 539.9,2075.1 540.6,2075.2 541.3,2075.4 542.0,2075.5 542.7,2075.6 543.4,2075.7 544.1,2075.7 544.8,2075.6 545.5,2075.7 546.2,2075.8 546.9,2075.5 547.6,2075.2 548.3,2075.1 549.0,2074.9 549.7,2074.9 550.4,2075.0 551.1,2075.2 551.8,2075.0 552.5,2075.2 553.2,2075.3 553.9,2075.0 554.6,2074.9 555.3,2074.8 556.0,2074.5 556.7,2074.2 557.4,2073.7 558.1,2072.9 558.8,2071.4 559.5,2066.9 560.0,2058.5 560.2,2053.8 560.5,2044.7 560.9,2034.9 561.0,2034.0 561.5,2044.2 561.6,2047.3 562.0,2058.1 562.3,2064.0 563.0,2070.6 563.7,2072.8 564.4,2073.7 565.1,2074.3 565.8,2074.3 566.5,2074.2 567.2,2074.4 567.9,2074.6 568.6,2074.8 569.3,2075.2 570.0,2075.4 570.7,2075.3 571.4,2075.1 572.1,2074.6 572.8,2073.6 572.9,2073.3 573.4,2072.0 573.5,2071.9 573.9,2071.5 574.2,2071.9 574.4,2072.2 574.9,2073.5 575.6,2074.3 576.3,2074.7 577.0,2074.8 577.7,2074.7 578.4,2074.7 579.1,2074.9 579.8,2074.8 580.5,2074.9 581.2,2075.2 581.9,2075.3 582.6,2074.9 583.3,2074.8 584.0,2074.6 584.7,2074.0 585.4,2073.2 586.1,2071.7 586.8,2066.9 587.2,2060.6 587.5,2054.0 587.7,2048.6 588.2,2039.8 588.7,2048.6 588.9,2054.0 589.2,2060.7 589.6,2066.9 590.3,2071.5 591.0,2073.2 591.7,2074.2 592.4,2074.7 593.1,2074.9 593.8,2075.3 594.5,2075.3 595.2,2075.4 595.9,2075.4 596.6,2075.4 597.3,2075.2 598.0,2075.2 598.7,2075.4 599.4,2075.4 600.1,2075.5 600.8,2075.8 601.5,2075.8 602.2,2075.8 602.9,2075.6 603.6,2075.6 604.3,2075.2 605.0,2075.4 605.7,2075.2 606.4,2075.3 607.1,2075.2 607.8,2075.4 608.5,2075.3 609.2,2075.0 609.9,2075.2 610.6,2075.1 611.3,2075.2 612.0,2075.1 612.7,2075.3 613.4,2075.1 614.1,2075.1 614.8,2075.1 615.5,2075.2 616.2,2075.4 616.9,2075.3 617.6,2075.5 618.3,2075.4 619.0,2075.5 619.7,2075.2 620.4,2075.6 621.1,2075.8 621.8,2075.6 622.5,2075.6 623.2,2075.9 623.9,2075.8 624.6,2075.6 625.3,2075.4 625.5,2075.4 626.0,2075.0 626.5,2074.9 626.7,2075.1 627.0,2075.3 627.4,2075.6 627.5,2075.7 628.1,2075.8 628.8,2075.8 629.5,2075.9 630.2,2075.7 630.9,2075.8 631.6,2075.8 632.3,2075.6 633.0,2075.4 633.7,2075.6 634.4,2075.7 635.1,2075.6 635.8,2075.2 636.5,2075.2 637.2,2075.1 637.9,2074.3 638.6,2073.0 639.1,2070.7 639.3,2069.2 639.6,2066.4 640.0,2063.5 640.1,2063.3 640.6,2066.6 640.7,2067.5 641.1,2070.7 641.4,2072.5 642.1,2074.5 642.8,2074.9 643.5,2075.1 644.2,2075.1 644.9,2075.1 645.6,2075.1 646.3,2075.5 647.0,2075.6 647.7,2075.8 648.4,2076.1 649.1,2076.0 649.8,2075.9 650.5,2075.9 651.2,2076.0 651.9,2075.7 652.6,2075.6 653.3,2075.7 654.0,2075.6 654.7,2075.0 655.4,2075.0 656.1,2075.2 656.8,2075.3 657.5,2075.4 658.2,2075.9 658.9,2075.9 659.6,2075.8 660.3,2075.4 661.0,2075.6 661.7,2075.5 662.4,2075.7 663.1,2075.9 663.8,2075.9 664.5,2075.8 665.2,2075.6 665.9,2075.5 666.6,2075.3 667.3,2075.1 668.0,2075.0 668.7,2075.1 669.4,2075.0 670.1,2075.2 670.8,2075.6 671.5,2075.8 672.2,2075.7 672.9,2075.9 673.6,2075.7 674.3,2075.6 675.0,2075.4 675.7,2075.5 676.4,2075.7 677.1,2075.7 677.8,2075.8 678.5,2075.9 679.2,2075.9 679.9,2075.8 680.6,2075.7 681.3,2075.6 682.0,2075.5 682.7,2075.3 683.4,2075.3 684.1,2075.5 684.8,2075.4 685.5,2075.8 686.2,2076.0 686.9,2075.9 687.6,2076.0 688.3,2076.1 689.0,2075.8 689.7,2075.6 690.4,2075.7 691.1,2075.5 691.8,2075.4 692.5,2075.7 693.2,2075.7 693.9,2075.9 694.6,2075.9 695.3,2076.2 696.0,2076.0 696.7,2076.0 697.4,2076.1 698.1,2076.2 698.8,2075.9 699.5,2075.8 700.2,2076.1 700.9,2076.0 701.6,2076.0 702.3,2076.1 703.0,2076.2 703.7,2075.9 704.4,2075.7 705.1,2075.6 705.8,2075.6 706.5,2075.9 707.2,2076.0 707.9,2076.2 708.6,2076.3 709.3,2076.5 710.0,2076.4 710.7,2076.1 711.4,2076.0 712.1,2075.9 712.8,2075.8 713.5,2075.7 714.2,2075.8 714.9,2075.7 715.6,2075.5 716.3,2075.5 717.0,2075.5 717.7,2075.5 718.4,2075.4 719.1,2075.5 719.8,2075.3 720.5,2075.3 721.2,2075.4 721.9,2075.4 722.6,2075.2 723.3,2075.4 724.0,2075.5 724.7,2075.3 725.4,2075.4 726.1,2075.5 726.8,2075.4 727.5,2075.4 728.2,2075.5 728.9,2075.6 729.6,2075.6 730.3,2075.8 731.0,2075.6 731.7,2075.8 732.4,2075.6 733.1,2075.6 733.8,2075.6 734.5,2075.6 735.2,2075.7 735.9,2075.7 736.6,2075.5 737.3,2074.6 738.0,2073.0 738.1,2072.0 738.6,2070.2 738.7,2069.8 739.1,2069.3 739.4,2069.6 739.6,2070.7 740.1,2072.4 740.8,2074.4 741.5,2075.3 742.2,2075.6 742.9,2075.7 743.6,2076.0 744.3,2075.9 745.0,2075.7 745.7,2076.0 746.4,2075.9 747.1,2076.0 747.8,2075.9 748.5,2076.1 749.2,2075.8 749.9,2075.9 750.6,2075.6 751.3,2075.6 752.0,2075.6 752.7,2075.6 753.4,2075.5 754.1,2075.5 754.8,2075.4 755.5,2075.2 756.2,2075.1 756.9,2075.3 757.6,2075.5 758.3,2075.7 759.0,2075.8 759.7,2075.6 760.4,2075.2 761.1,2073.7 761.8,2069.8 761.9,2068.4 762.4,2062.4 762.5,2060.9 762.9,2057.9 763.2,2059.7 763.4,2062.4 763.9,2068.4 764.6,2072.1 765.3,2072.3 765.5,2072.2 766.0,2069.8 766.5,2068.0 766.7,2068.5 767.0,2069.9 767.4,2071.6 767.5,2072.1 768.1,2073.7 768.8,2074.5 769.5,2074.9 770.2,2075.1 770.9,2075.5 771.6,2075.5 772.3,2075.3 772.8,2075.1 773.0,2074.7 773.3,2074.4 773.7,2074.1 773.8,2074.2 774.3,2074.2 774.4,2074.1 774.8,2074.1 775.1,2074.5 775.8,2074.8 776.5,2075.2 777.2,2075.6 777.9,2075.6 778.6,2075.8 779.3,2075.7 780.0,2075.7 780.7,2076.0 781.4,2076.2 782.1,2076.0 782.8,2075.9 783.5,2075.5 784.2,2075.1 784.9,2074.8 785.4,2074.3 785.6,2074.1 785.9,2073.9 786.3,2073.6 786.4,2073.4 786.9,2073.7 787.0,2074.0 787.4,2074.3 787.7,2074.7 788.4,2075.3 789.1,2075.5 789.8,2075.5 790.5,2075.6 791.2,2075.7 791.9,2075.7 792.6,2075.9 793.3,2076.2 794.0,2076.2 794.7,2076.2 795.4,2076.1 796.1,2076.1 796.8,2076.1 797.5,2075.9 798.2,2075.8 798.9,2075.9 799.6,2076.0 800.3,2076.0 801.0,2076.0 801.7,2076.0 802.4,2075.9 803.1,2075.8 803.8,2075.8 804.5,2075.8 805.2,2075.7 805.9,2075.9 806.6,2075.7 807.3,2075.7 808.0,2075.8 808.7,2076.2 809.4,2076.1 810.1,2076.4 810.8,2076.4 811.5,2076.4 812.2,2076.4 812.9,2076.4 813.6,2076.6 814.3,2076.7 815.0,2076.6 815.7,2076.6 816.4,2076.3 817.1,2076.2 817.8,2075.8 818.5,2076.0 819.2,2075.8 819.9,2075.9 820.6,2075.8 821.3,2075.5 822.0,2074.9 822.5,2074.6 822.7,2074.7 823.0,2074.5 823.4,2074.6 823.5,2074.5 824.0,2074.9 824.1,2075.0 824.8,2075.6 825.5,2075.8 826.2,2075.8 826.9,2075.8 827.6,2075.6 828.3,2075.3 829.0,2075.6 829.7,2075.7 830.4,2075.5 831.1,2075.6 831.8,2075.8 832.5,2075.5 833.2,2075.4 833.9,2075.7 834.6,2075.5 835.3,2075.6 836.0,2075.9 836.7,2075.9 837.4,2076.0 838.1,2076.3 838.8,2076.1 839.5,2076.2 840.2,2076.4 840.9,2076.4 841.6,2076.0 842.3,2076.0 843.0,2075.9 843.7,2075.7 844.4,2075.7 845.1,2076.0 845.8,2076.2 846.5,2076.4 847.2,2076.4 847.9,2076.5 848.6,2076.5 849.3,2076.3 850.0,2076.2 850.7,2076.2 851.4,2076.4 852.1,2076.2 852.8,2076.3 853.5,2076.3 854.2,2076.2 854.9,2076.0 855.6,2076.0 856.3,2075.7 856.6,2075.7" fill="none" stroke="#ff00ff" stroke-width="3.70" stroke-linejoin="round" stroke-linecap="butt"/>
<polyline points="17.7,2268.4 18.4,2268.6 19.1,2268.5 19.8,2268.5 20.5,2268.5 21.2,2268.5 21.9,2268.4 22.6,2268.4 23.3,2268.5 24.0,2268.6 24.7,2268.7 25.4,2268.5 26.1,2268.6 26.8,2268.7 27.5,2268.9 28.2,2268.9 28.9,2269.2 29.6,2269.1 30.3,2269.2 31.0,2269.0 31.7,2269.0 32.4,2268.9 33.1,2269.2 33.8,2269.1 34.5,2269.2 35.2,2269.5 35.9,2269.7 36.6,2269.9 37.3,2269.8 38.0,2269.7 38.7,2269.5 39.4,2269.4 40.1,2269.3 40.8,2269.5 41.5,2269.6 42.2,2269.6 42.9,2269.5 43.6,2269.5 44.3,2269.7 45.0,2269.6 45.7,2269.7 46.4,2269.6 47.1,2269.5 47.8,2269.2 48.5,2269.4 49.2,2269.5 49.9,2269.8 50.6,2269.9 51.3,2270.2 52.0,2270.0 52.7,2269.8 53.4,2269.9 54.1,2269.8 54.8,2269.7 55.5,2269.9 56.2,2270.0 56.9,2270.0 57.6,2270.2 58.3,2270.1 59.0,2269.6 59.7,2269.4 60.4,2269.4 61.1,2269.2 61.8,2269.2 62.5,2269.7 63.2,2270.0 63.9,2269.9 64.6,2270.0 65.3,2270.1 66.0,2270.2 66.7,2269.8 67.4,2270.3 68.1,2270.2 68.8,2270.4 69.5,2270.3 70.2,2270.5 70.9,2270.5 71.6,2270.7 72.3,2270.6 73.0,2270.5 73.7,2270.4 74.4,2270.0 75.1,2270.2 75.8,2270.0 76.5,2269.8 77.2,2270.1 77.9,2270.5 78.6,2270.2 79.3,2270.5 80.0,2270.7 80.7,2270.5 81.4,2270.4 82.1,2270.5 82.8,2270.4 83.5,2270.7 84.2,2270.9 84.9,2270.8 85.6,2270.6 86.3,2270.7 87.0,2270.5 87.7,2270.4 88.4,2270.5 89.1,2270.6 89.8,2270.6 90.5,2270.8 91.2,2270.8 91.9,2271.0 92.6,2270.9 93.3,2270.9 94.0,2270.6 94.7,2270.6 95.4,2270.6 96.1,2270.7 96.8,2270.6 97.5,2270.9 98.2,2270.9 98.9,2270.7 99.6,2270.7 100.3,2270.9 101.0,2270.7 101.7,2270.5 102.4,2270.5 103.1,2270.7 103.8,2270.5 104.5,2270.5 105.2,2270.6 105.9,2270.5 106.6,2270.4 107.3,2270.4 108.0,2270.1 108.7,2270.3 109.4,2270.2 110.1,2270.0 110.8,2269.8 111.5,2269.7 112.2,2269.1 112.9,2268.1 113.6,2266.9 114.3,2262.1 114.5,2258.5 115.0,2239.8 115.5,2219.2 115.7,2224.0 116.0,2240.1 116.4,2256.5 116.5,2259.2 117.1,2266.4 117.8,2268.6 118.5,2269.5 119.2,2269.8 119.9,2269.8 120.6,2270.0 121.3,2270.3 122.0,2270.5 122.7,2270.5 123.4,2270.7 124.1,2270.7 124.8,2270.7 125.5,2270.6 126.2,2270.5 126.9,2270.4 127.6,2270.3 128.3,2270.4 129.0,2270.5 129.7,2271.0 130.4,2271.0 131.1,2271.3 131.8,2271.4 132.5,2271.4 133.2,2271.4 133.9,2271.3 134.6,2271.2 135.3,2271.0 136.0,2271.0 136.7,2270.9 137.4,2270.9 138.1,2270.7 138.8,2270.8 139.5,2270.8 140.2,2270.6 140.9,2270.6 141.6,2270.6 142.3,2270.6 143.0,2270.2 143.7,2270.1 144.4,2270.4 145.1,2270.3 145.8,2270.2 146.5,2270.6 147.2,2270.5 147.9,2269.7 148.5,2268.0 148.6,2267.3 149.0,2264.8 149.3,2262.9 149.5,2262.3 150.0,2264.9 150.5,2268.3 150.7,2268.8 151.4,2270.1 152.1,2270.5 152.8,2270.5 153.5,2270.4 154.2,2270.4 154.9,2270.5 155.6,2270.5 156.3,2270.5 157.0,2270.6 157.7,2270.9 158.4,2271.0 159.1,2271.1 159.8,2271.3 160.5,2271.4 161.2,2271.1 161.9,2270.9 162.6,2271.0 163.3,2270.7 164.0,2270.7 164.7,2270.7 165.4,2270.5 166.1,2270.6 166.8,2270.8 167.5,2270.5 168.2,2270.7 168.9,2271.1 169.6,2270.9 170.3,2270.7 171.0,2270.7 171.7,2270.6 172.4,2270.2 173.1,2270.3 173.8,2270.3 174.5,2270.4 175.2,2270.8 175.9,2270.9 176.6,2271.1 177.3,2271.4 178.0,2271.1 178.7,2270.9 179.4,2271.0 180.1,2270.8 180.8,2270.8 181.5,2271.0 182.2,2271.1 182.9,2271.0 183.6,2271.0 184.3,2270.8 185.0,2271.2 185.7,2271.1 186.4,2271.0 187.1,2271.3 187.8,2271.6 188.5,2271.3 189.2,2271.2 189.9,2271.3 190.6,2271.2 191.3,2270.9 192.0,2270.9 192.7,2271.1 193.4,2271.1 194.1,2271.0 194.8,2271.3 195.5,2271.5 196.2,2271.5 196.9,2271.6 197.6,2271.8 198.3,2271.5 199.0,2271.5 199.7,2271.5 200.4,2271.4 201.1,2271.1 201.8,2271.2 202.5,2271.0 203.2,2271.0 203.9,2270.9 204.6,2271.2 205.3,2271.2 206.0,2271.5 206.7,2271.7 207.4,2271.8 208.1,2271.9 208.8,2271.7 209.5,2271.6 210.2,2271.4 210.9,2271.5 211.6,2271.3 212.3,2271.4 213.0,2271.2 213.7,2271.3 214.4,2271.1 215.1,2271.2 215.8,2271.3 216.5,2271.1 217.2,2271.0 217.9,2270.9 218.6,2270.9 219.3,2270.9 220.0,2270.9 220.7,2270.8 221.4,2270.8 222.1,2270.8 222.8,2270.8 223.5,2270.9 224.2,2270.9 224.9,2270.9 225.6,2270.6 226.3,2270.6 227.0,2270.5 227.7,2270.5 228.4,2270.1 229.1,2270.0 229.8,2268.9 230.5,2266.0 231.0,2260.7 231.2,2257.8 231.5,2252.5 231.9,2247.3 232.0,2246.9 232.5,2252.4 232.6,2254.0 233.0,2260.3 233.3,2263.4 234.0,2267.6 234.7,2269.2 235.4,2269.9 236.1,2270.4 236.8,2270.7 237.5,2270.8 238.2,2270.9 238.9,2271.1 239.6,2270.9 240.3,2270.9 241.0,2270.9 241.7,2270.8 242.4,2270.9 243.1,2270.9 243.8,2270.9 244.5,2270.7 245.2,2270.6 245.9,2270.4 246.6,2270.4 247.3,2270.1 248.0,2269.6 248.7,2268.6 249.4,2266.7 249.5,2266.1 250.0,2264.7 250.1,2264.6 250.5,2263.9 250.8,2264.2 251.0,2264.6 251.5,2265.9 252.2,2267.1 252.9,2267.1 253.6,2265.1 254.3,2257.6 254.4,2255.7 254.9,2242.2 255.0,2239.2 255.4,2231.6 255.7,2236.3 255.9,2242.1 256.4,2255.9 257.1,2264.6 257.8,2267.5 258.5,2268.6 259.2,2269.4 259.9,2269.7 260.6,2270.5 261.3,2270.8 262.0,2271.0 262.7,2270.9 263.4,2270.9 264.1,2270.8 264.8,2270.8 265.5,2270.7 266.2,2270.7 266.9,2270.7 267.6,2270.8 268.3,2270.9 269.0,2271.1 269.7,2271.1 270.4,2271.3 271.1,2271.2 271.8,2271.3 272.5,2271.0 273.2,2271.2 273.9,2270.9 274.6,2271.0 275.3,2271.1 276.0,2271.3 276.7,2271.4 277.4,2271.5 278.1,2271.3 278.8,2271.3 279.5,2271.2 280.2,2270.9 280.9,2270.9 281.6,2271.2 282.3,2271.2 283.0,2271.2 283.7,2271.4 284.4,2271.4 285.1,2271.1 285.8,2271.2 286.5,2271.0 287.2,2271.0 287.9,2270.9 288.6,2270.7 289.3,2270.6 290.0,2270.6 290.7,2270.2 291.4,2269.9 292.1,2269.8 292.8,2269.3 293.5,2268.8 294.2,2268.2 294.9,2267.2 295.6,2265.2 296.3,2261.6 297.0,2252.2 297.6,2225.4 297.7,2217.0 298.1,2170.5 298.4,2131.9 298.6,2121.0 299.1,2170.2 299.6,2225.0 299.8,2237.8 300.5,2257.6 301.2,2263.7 301.9,2266.2 302.6,2267.4 303.3,2268.1 304.0,2268.7 304.7,2269.2 305.4,2269.7 306.1,2270.0 306.8,2270.3 307.5,2270.4 308.2,2270.3 308.9,2270.6 309.6,2270.7 310.3,2270.8 311.0,2270.7 311.7,2271.0 312.4,2270.7 313.1,2270.8 313.8,2270.9 314.5,2270.9 315.2,2270.8 315.9,2271.0 316.6,2271.2 317.3,2270.9 318.0,2271.1 318.7,2271.1 319.4,2271.2 320.1,2271.0 320.8,2271.3 321.5,2271.3 322.2,2271.3 322.9,2271.1 323.6,2271.3 324.3,2271.1 325.0,2271.0 325.7,2271.0 326.4,2271.1 327.1,2271.1 327.8,2270.9 328.5,2271.0 329.2,2271.1 329.9,2271.2 330.6,2271.0 331.3,2271.3 332.0,2271.1 332.7,2271.0 333.4,2270.6 334.1,2270.4 334.8,2269.6 335.5,2268.0 336.2,2263.4 336.4,2260.8 336.9,2250.7 337.4,2243.0 337.6,2244.6 337.9,2250.4 338.3,2258.6 338.4,2260.3 339.0,2266.5 339.7,2268.9 340.4,2269.9 341.1,2270.4 341.8,2270.5 342.5,2270.6 343.2,2270.8 343.9,2270.8 344.6,2270.9 345.3,2271.0 346.0,2271.0 346.7,2271.2 347.4,2271.6 348.1,2271.8 348.8,2271.7 349.5,2271.7 350.2,2271.3 350.9,2271.0 351.6,2271.1 352.3,2271.3 353.0,2271.3 353.7,2271.5 354.4,2271.4 355.1,2270.8 355.5,2269.9 355.8,2268.9 356.0,2267.9 356.5,2266.7 357.0,2267.8 357.2,2268.4 357.5,2269.3 357.9,2270.2 358.6,2270.6 359.3,2271.0 360.0,2271.1 360.7,2271.2 361.4,2271.3 362.1,2271.5 362.8,2271.5 363.5,2271.7 364.2,2271.6 364.9,2271.7 365.6,2271.6 366.3,2271.7 367.0,2271.5 367.7,2271.4 368.4,2271.1 369.1,2271.0 369.8,2271.0 370.5,2271.2 371.2,2271.2 371.9,2271.7 372.6,2271.6 373.3,2271.6 374.0,2271.8 374.7,2271.9 375.4,2271.8 376.1,2271.8 376.8,2271.6 377.5,2271.4 378.2,2271.4 378.9,2271.2 379.6,2271.5 380.3,2271.5 381.0,2271.5 381.7,2271.3 382.4,2271.4 383.1,2271.2 383.8,2271.2 384.5,2271.0 385.2,2270.9 385.9,2270.9 386.6,2270.8 387.3,2270.7 388.0,2270.7 388.7,2270.5 389.4,2269.7 390.1,2267.8 390.8,2263.6 391.2,2258.9 391.5,2254.4 391.7,2251.2 392.2,2246.5 392.7,2251.3 392.9,2254.3 393.2,2258.9 393.6,2263.3 394.3,2267.7 395.0,2269.2 395.7,2270.0 396.4,2270.2 397.1,2270.5 397.8,2270.7 398.5,2271.0 399.2,2271.2 399.9,2271.5 400.6,2271.7 401.3,2271.9 402.0,2271.7 402.7,2271.8 403.4,2271.8 404.1,2271.7 404.8,2271.5 405.5,2271.5 406.2,2271.4 406.9,2271.1 407.6,2270.7 408.1,2269.9 408.3,2269.5 408.6,2268.6 409.0,2267.8 409.1,2267.9 409.6,2268.7 409.7,2268.9 410.1,2269.9 410.4,2270.3 411.1,2270.6 411.8,2271.1 412.5,2271.4 413.2,2271.4 413.9,2271.5 414.6,2271.5 415.3,2271.1 416.0,2270.8 416.7,2270.9 417.4,2270.9 418.1,2271.3 418.8,2271.4 419.5,2271.5 420.2,2271.6 420.9,2271.8 421.6,2271.8 422.3,2271.7 423.0,2271.9 423.7,2271.6 424.4,2271.8 425.1,2271.5 425.8,2271.5 426.5,2271.6 427.2,2271.4 427.9,2271.3 428.6,2271.3 429.3,2271.6 430.0,2271.5 430.7,2271.7 431.4,2271.4 432.1,2271.7 432.8,2271.6 433.5,2271.4 434.2,2271.5 434.9,2271.7 435.6,2271.6 436.3,2271.5 437.0,2271.7 437.7,2271.7 438.4,2271.7 439.1,2271.5 439.8,2271.6 440.5,2271.7 441.2,2271.7 441.9,2271.8 442.6,2272.1 443.3,2272.0 444.0,2271.9 444.7,2271.9 445.4,2271.6 446.1,2271.3 446.8,2271.5 447.5,2271.4 448.2,2271.5 448.9,2271.5 449.6,2271.4 450.3,2271.3 451.0,2271.1 451.7,2270.9 452.4,2270.7 453.1,2270.6 453.8,2269.9 454.5,2269.4 455.2,2268.4 455.9,2265.8 456.6,2258.8 456.7,2257.3 457.2,2248.1 457.3,2246.2 457.7,2242.6 458.0,2244.9 458.2,2248.4 458.7,2257.6 459.4,2265.7 460.1,2268.7 460.8,2269.9 461.5,2270.6 462.2,2270.8 462.9,2270.8 463.6,2270.9 464.3,2271.2 465.0,2271.0 465.7,2271.1 466.4,2271.3 467.1,2271.4 467.8,2271.2 468.5,2271.5 469.2,2271.6 469.9,2271.6 470.6,2271.7 471.3,2271.6 472.0,2271.7 472.7,2271.9 473.4,2271.7 474.1,2271.6 474.8,2271.7 475.5,2271.5 476.2,2271.5 476.9,2271.4 477.6,2271.6 478.3,2271.7 479.0,2271.8 479.7,2271.9 480.4,2272.1 481.1,2271.8 481.8,2271.8 482.5,2271.9 483.2,2271.5 483.9,2271.3 484.6,2271.3 485.3,2271.4 486.0,2271.2 486.7,2271.5 487.4,2271.8 488.1,2271.8 488.8,2271.6 489.5,2271.9 490.2,2271.9 490.9,2271.9 491.6,2272.4 492.3,2272.3 493.0,2272.2 493.7,2272.1 494.4,2272.0 495.1,2271.7 495.8,2271.6 496.5,2271.9 497.2,2272.0 497.9,2272.1 498.6,2272.2 499.3,2272.2 500.0,2271.9 500.7,2271.7 501.4,2271.5 502.1,2271.3 502.8,2271.5 503.5,2271.6 504.2,2271.8 504.9,2271.8 505.6,2271.9 506.3,2272.1 507.0,2272.2 507.7,2272.2 508.4,2272.3 509.1,2272.3 509.8,2272.2 510.5,2271.9 511.2,2272.0 511.9,2272.0 512.6,2272.1 513.3,2272.0 514.0,2272.1 514.7,2271.8 515.4,2271.5 515.8,2271.1 516.1,2271.0 516.3,2270.9 516.8,2270.6 517.3,2270.5 517.5,2270.7 517.8,2270.7 518.2,2270.7 518.9,2271.0 519.6,2271.2 520.3,2271.0 521.0,2271.0 521.7,2271.0 522.4,2270.9 523.1,2271.0 523.8,2271.4 524.5,2271.5 525.2,2271.6 525.9,2271.8 526.6,2271.7 527.3,2271.4 528.0,2270.9 528.7,2270.6 529.4,2269.8 530.1,2268.2 530.8,2264.8 531.1,2262.5 531.5,2258.9 531.6,2258.0 532.1,2255.2 532.2,2255.4 532.6,2258.1 532.9,2260.8 533.1,2262.8 533.6,2266.4 534.3,2269.0 535.0,2269.9 535.7,2270.4 536.4,2270.9 537.1,2271.3 537.8,2271.4 538.5,2271.8 539.2,2271.7 539.9,2271.6 540.6,2271.7 541.3,2271.6 542.0,2271.4 542.7,2271.5 543.4,2271.5 544.1,2271.6 544.8,2271.6 545.5,2271.7 546.2,2271.6 546.9,2271.2 547.6,2271.3 548.3,2271.3 549.0,2271.3 549.7,2271.3 550.4,2271.4 551.1,2271.1 551.8,2271.2 552.5,2271.0 553.2,2271.0 553.9,2271.1 554.6,2271.0 555.3,2270.7 556.0,2270.1 556.7,2269.2 557.4,2267.9 558.1,2265.4 558.8,2259.6 559.3,2253.0 559.5,2249.9 559.8,2245.2 560.2,2241.0 560.3,2241.0 560.8,2245.2 560.9,2246.6 561.3,2253.3 561.6,2257.9 562.3,2264.8 563.0,2268.0 563.7,2269.7 564.4,2270.1 565.1,2270.5 565.8,2270.8 566.5,2271.2 567.2,2271.0 567.9,2271.3 568.6,2271.3 569.3,2271.2 570.0,2271.2 570.7,2270.9 571.4,2270.0 572.1,2268.3 572.2,2268.2 572.7,2266.7 572.8,2266.7 573.2,2266.5 573.5,2267.1 573.7,2267.4 574.2,2268.8 574.9,2270.1 575.6,2270.9 576.3,2271.0 577.0,2271.3 577.7,2271.1 578.4,2271.1 579.1,2271.0 579.8,2271.0 580.5,2270.8 581.2,2270.8 581.9,2270.6 582.6,2270.0 583.3,2269.4 584.0,2268.4 584.7,2266.6 585.4,2262.4 586.1,2254.4 586.6,2246.9 586.8,2244.3 587.1,2242.9 587.5,2245.6 587.6,2246.7 588.1,2254.6 588.2,2256.0 588.9,2263.5 589.6,2267.3 590.3,2269.4 591.0,2270.2 591.7,2270.8 592.4,2271.2 593.1,2271.3 593.8,2271.2 594.5,2271.3 595.2,2271.3 595.9,2271.5 596.6,2271.4 597.3,2271.5 598.0,2271.4 598.7,2271.4 599.4,2271.6 600.1,2271.9 600.8,2271.9 601.5,2271.9 602.2,2272.2 602.9,2272.0 603.6,2271.9 604.3,2271.6 605.0,2271.9 605.7,2271.8 606.4,2271.9 607.1,2271.8 607.8,2271.9 608.5,2271.9 609.2,2271.8 609.9,2271.8 610.6,2271.7 611.3,2271.9 612.0,2271.8 612.7,2271.8 613.4,2272.0 614.1,2272.4 614.8,2272.6 615.5,2272.6 616.2,2272.5 616.9,2272.2 617.6,2272.0 618.3,2272.0 619.0,2271.9 619.7,2271.7 620.4,2271.8 621.1,2271.9 621.8,2271.6 622.5,2271.7 623.2,2271.7 623.9,2271.9 624.6,2271.5 625.3,2270.9 625.5,2270.7 626.0,2270.3 626.5,2269.8 626.7,2269.9 627.0,2270.3 627.4,2270.7 627.5,2270.8 628.1,2271.1 628.8,2271.4 629.5,2271.5 630.2,2271.4 630.9,2271.6 631.6,2271.7 632.3,2271.9 633.0,2271.9 633.7,2272.0 634.4,2272.2 635.1,2272.2 635.8,2271.7 636.5,2271.1 637.2,2269.9 637.9,2267.1 638.1,2266.1 638.6,2263.9 639.1,2262.9 639.3,2263.0 639.6,2264.0 640.0,2266.0 640.1,2266.5 640.7,2268.9 641.4,2271.0 642.1,2271.6 642.8,2271.7 643.5,2271.8 644.2,2271.9 644.9,2271.7 645.6,2271.7 646.3,2271.7 647.0,2271.8 647.7,2271.6 648.4,2271.7 649.1,2271.9 649.8,2271.9 650.5,2272.0 651.2,2272.0 651.9,2271.9 652.6,2271.9 653.3,2272.1 654.0,2272.2 654.7,2272.3 655.4,2272.3 656.1,2272.1 656.8,2272.0 657.5,2272.1 658.2,2272.0 658.9,2272.0 659.6,2272.0 660.3,2272.1 661.0,2271.9 661.7,2271.7 662.4,2271.8 663.1,2272.0 663.8,2272.1 664.5,2272.1 665.2,2272.1 665.9,2272.1 666.6,2272.3 667.3,2272.1 668.0,2272.4 668.7,2272.4 669.4,2272.4 670.1,2272.0 670.8,2271.8 671.5,2271.8 672.2,2272.1 672.9,2272.0 673.6,2272.2 674.3,2272.5 675.0,2272.4 675.7,2272.2 676.4,2272.4 677.1,2272.3 677.8,2272.1 678.5,2272.1 679.2,2272.4 679.9,2272.3 680.6,2272.4 681.3,2272.8 682.0,2272.6 682.7,2272.3 683.4,2272.5 684.1,2272.7 684.8,2272.5 685.5,2272.4 686.2,2272.6 686.9,2272.3 687.6,2272.4 688.3,2272.4 689.0,2272.9 689.7,2272.8 690.4,2273.1 691.1,2272.9 691.8,2272.9 692.5,2272.8 693.2,2272.6 693.9,2272.2 694.6,2272.3 695.3,2272.0 696.0,2271.9 696.7,2271.9 697.4,2272.0 698.1,2272.1 698.8,2272.2 699.5,2272.1 700.2,2272.1 700.9,2272.2 701.6,2272.1 702.3,2272.0 703.0,2272.0 703.7,2271.9 704.4,2271.9 705.1,2271.8 705.8,2271.8 706.5,2271.9 707.2,2272.1 707.9,2272.3 708.6,2272.3 709.3,2272.4 710.0,2272.5 710.7,2272.9 711.4,2272.7 712.1,2272.7 712.8,2272.6 713.5,2272.7 714.2,2272.3 714.9,2272.5 715.6,2272.6 716.3,2272.4 717.0,2272.3 717.7,2272.5 718.4,2272.4 719.1,2272.4 719.8,2272.5 720.5,2272.5 721.2,2272.6 721.9,2272.4 722.6,2272.5 723.3,2272.3 724.0,2272.3 724.7,2271.8 725.4,2271.9 726.1,2271.9 726.8,2272.0 727.5,2271.8 728.2,2272.1 728.9,2272.1 729.6,2272.0 730.3,2272.4 731.0,2272.4 731.7,2272.4 732.4,2272.2 733.1,2271.7 733.8,2271.4 734.5,2271.1 735.2,2271.0 735.9,2271.2 736.6,2271.2 737.3,2270.3 737.8,2269.6 738.0,2268.9 738.3,2268.2 738.7,2267.5 738.8,2267.8 739.3,2268.5 739.4,2268.7 739.8,2269.8 740.1,2270.5 740.8,2271.5 741.5,2271.9 742.2,2272.5 742.9,2272.6 743.6,2272.7 744.3,2272.8 745.0,2273.0 745.7,2272.9 746.4,2272.6 747.1,2272.3 747.8,2272.3 748.5,2272.3 749.2,2272.1 749.9,2272.3 750.6,2272.6 751.3,2272.4 752.0,2272.6 752.7,2272.8 753.4,2272.5 754.1,2272.4 754.8,2272.5 755.5,2272.4 756.2,2272.2 756.9,2272.2 757.6,2272.0 758.3,2271.4 759.0,2270.8 759.7,2269.5 760.4,2267.0 760.9,2264.1 761.1,2263.1 761.4,2261.0 761.8,2259.4 761.9,2259.3 762.4,2261.2 762.5,2261.7 762.9,2264.4 763.2,2266.3 763.9,2269.3 764.6,2270.7 765.3,2271.4 766.0,2271.6 766.7,2271.6 767.4,2271.8 768.1,2271.8 768.8,2272.0 769.5,2271.8 770.2,2272.1 770.9,2272.3 771.6,2272.5 772.3,2272.1 772.8,2272.2 773.0,2272.1 773.3,2271.9 773.7,2271.6 773.8,2271.6 774.3,2271.8 774.4,2271.5 774.8,2271.8 775.1,2272.1 775.8,2272.3 776.5,2272.6 777.2,2272.8 777.9,2272.4 778.6,2272.3 779.3,2272.3 780.0,2272.2 780.7,2272.1 781.4,2272.1 782.1,2271.9 782.8,2271.9 783.5,2271.2 784.0,2270.5 784.2,2270.2 784.5,2269.8 784.9,2269.4 785.0,2269.7 785.5,2270.2 785.6,2270.6 786.0,2271.4 786.3,2271.8 787.0,2272.6 787.7,2272.7 788.4,2272.7 789.1,2272.7 789.8,2272.7 790.5,2272.4 791.2,2272.5 791.9,2272.8 792.6,2272.6 793.3,2272.5 794.0,2272.6 794.7,2272.6 795.4,2272.5 796.1,2272.6 796.8,2272.6 797.5,2272.5 798.2,2272.7 798.9,2272.5 799.6,2272.5 800.3,2272.5 801.0,2272.6 801.7,2272.4 802.4,2272.7 803.1,2272.7 803.8,2272.6 804.5,2272.4 805.2,2272.6 805.9,2272.4 806.6,2272.6 807.3,2272.8 808.0,2273.1 808.7,2272.8 809.4,2272.8 810.1,2272.8 810.8,2272.6 811.5,2272.5 812.2,2272.7 812.9,2272.9 813.6,2272.7 814.3,2272.7 815.0,2272.8 815.7,2273.0 816.4,2272.7 817.1,2272.8 817.8,2272.8 818.5,2272.7 819.2,2272.4 819.9,2272.3 820.3,2272.0 820.6,2272.0 820.8,2271.8 821.3,2271.8 821.8,2272.0 822.0,2272.4 822.3,2272.5 822.7,2272.8 823.4,2273.0 824.1,2272.9 824.8,2272.8 825.5,2272.8 826.2,2272.6 826.9,2272.6 827.6,2273.0 828.3,2272.9 829.0,2272.8 829.7,2272.7 830.4,2272.8 831.1,2272.8 831.8,2272.9 832.5,2273.2 833.2,2273.2 833.9,2273.1 834.6,2272.8 835.3,2273.0 836.0,2272.6 836.7,2272.6 837.4,2272.6 838.1,2272.7 838.8,2272.6 839.5,2272.8 840.2,2273.0 840.9,2273.2 841.6,2272.9 842.3,2273.1 843.0,2273.3 843.7,2273.1 844.4,2273.1 845.1,2273.0 845.8,2272.7 846.5,2272.4 847.2,2272.6 847.9,2272.2 848.6,2272.3 849.3,2272.2 850.0,2272.4 850.7,2272.3 851.4,2272.6 852.1,2272.6 852.8,2272.9 853.5,2272.4 854.2,2272.5 854.9,2272.3 855.6,2272.3 856.3,2272.2 856.6,2272.7" fill="none" stroke="#0000ff" stroke-width="3.50" stroke-linejoin="round" stroke-linecap="butt"/>
<polyline points="17.7,2375.3 18.4,2375.3 19.1,2375.3 19.8,2374.5 20.5,2374.5 21.2,2374.4 21.9,2374.4 22.6,2374.5 23.3,2374.3 24.0,2374.0 24.7,2373.9 25.4,2373.4 26.1,2373.4 26.8,2373.7 27.5,2374.1 28.2,2374.1 28.9,2374.4 29.6,2374.6 30.3,2374.7 31.0,2374.4 31.7,2374.8 32.4,2374.8 33.1,2374.9 33.8,2374.7 34.5,2374.8 35.2,2374.3 35.9,2374.4 36.6,2374.6 37.3,2374.5 38.0,2374.9 38.7,2375.4 39.4,2375.3 40.1,2375.1 40.8,2375.5 41.5,2375.1 42.2,2374.8 42.9,2375.1 43.6,2374.9 44.3,2375.1 45.0,2375.2 45.7,2375.1 46.4,2374.9 47.1,2374.6 47.8,2374.3 48.5,2374.4 49.2,2374.5 49.9,2374.4 50.6,2374.8 51.3,2374.6 52.0,2374.7 52.7,2374.6 53.4,2374.7 54.1,2374.4 54.8,2374.3 55.5,2374.6 56.2,2375.1 56.9,2375.0 57.6,2375.3 58.3,2375.1 59.0,2374.8 59.7,2374.7 60.4,2374.8 61.1,2374.6 61.8,2375.0 62.5,2374.8 63.2,2374.5 63.9,2374.4 64.6,2374.5 65.3,2374.3 66.0,2374.4 66.7,2374.5 67.4,2374.7 68.1,2374.4 68.8,2374.4 69.5,2374.2 70.2,2374.1 70.9,2374.0 71.6,2374.3 72.3,2374.1 73.0,2374.3 73.7,2374.6 74.4,2374.5 75.1,2374.7 75.8,2374.8 76.5,2374.4 77.2,2374.2 77.9,2374.6 78.6,2374.5 79.3,2374.4 80.0,2374.6 80.7,2374.6 81.4,2374.2 82.1,2374.2 82.8,2374.2 83.5,2373.8 84.2,2373.7 84.9,2374.0 85.6,2374.0 86.3,2374.2 87.0,2374.4 87.7,2374.8 88.4,2374.8 89.1,2374.7 89.8,2374.8 90.5,2375.4 91.2,2375.4 91.9,2375.1 92.6,2375.3 93.3,2375.3 94.0,2375.0 94.7,2374.9 95.4,2374.9 96.1,2374.8 96.8,2374.8 97.5,2374.6 98.2,2374.5 98.9,2374.5 99.6,2374.7 100.3,2374.9 101.0,2374.9 101.7,2375.0 102.4,2375.2 103.1,2375.0 103.8,2374.7 104.5,2374.9 105.2,2374.9 105.9,2374.6 106.6,2374.8 107.3,2374.8 108.0,2374.5 108.7,2374.3 109.4,2374.6 110.1,2374.4 110.8,2374.4 111.5,2374.4 112.2,2374.2 112.9,2374.0 113.6,2373.3 114.3,2372.5 114.6,2372.0 115.0,2371.2 115.1,2370.8 115.6,2370.4 115.7,2370.2 116.1,2370.7 116.4,2371.3 116.6,2371.4 117.1,2372.0 117.8,2372.9 118.5,2373.2 119.2,2373.3 119.9,2373.8 120.6,2374.1 121.3,2374.4 122.0,2374.6 122.7,2374.7 123.4,2374.5 124.1,2374.9 124.8,2374.8 125.5,2375.1 126.2,2375.3 126.9,2375.3 127.6,2374.9 128.3,2375.1 129.0,2374.7 129.7,2374.5 130.4,2374.6 131.1,2375.0 131.8,2374.8 132.5,2374.7 133.2,2374.6 133.9,2374.4 134.6,2374.4 135.3,2374.2 136.0,2374.1 136.7,2374.4 137.4,2374.8 138.1,2374.5 138.8,2374.4 139.5,2374.6 140.2,2374.5 140.9,2374.5 141.6,2374.6 142.3,2374.7 143.0,2374.4 143.7,2374.3 144.4,2374.4 145.1,2374.7 145.8,2374.7 146.5,2375.0 147.2,2374.8 147.9,2374.6 148.6,2374.8 149.3,2374.7 150.0,2374.8 150.7,2374.8 151.4,2374.9 152.1,2374.4 152.8,2374.4 153.5,2374.6 154.2,2374.5 154.9,2374.4 155.6,2374.7 156.3,2374.5 157.0,2374.2 157.7,2374.4 158.4,2374.2 159.1,2374.5 159.8,2374.8 160.5,2375.0 161.2,2375.4 161.9,2375.5 162.6,2375.0 163.3,2374.6 164.0,2374.7 164.7,2374.5 165.4,2375.1 166.1,2375.3 166.8,2375.5 167.5,2375.5 168.2,2375.4 168.9,2375.1 169.6,2374.8 170.3,2374.8 171.0,2374.9 171.7,2375.1 172.4,2374.9 173.1,2375.1 173.8,2375.1 174.5,2374.9 175.2,2374.4 175.9,2374.4 176.6,2374.5 177.3,2374.4 178.0,2375.0 178.7,2375.4 179.4,2375.4 180.1,2375.2 180.8,2375.4 181.5,2375.0 182.2,2374.9 182.9,2375.1 183.6,2375.7 184.3,2375.7 185.0,2375.7 185.7,2375.6 186.4,2375.2 187.1,2374.7 187.8,2374.5 188.5,2374.4 189.2,2374.4 189.9,2374.9 190.6,2375.1 191.3,2375.0 192.0,2374.8 192.7,2374.9 193.4,2375.0 194.1,2374.9 194.8,2375.1 195.5,2375.1 196.2,2375.0 196.9,2374.8 197.6,2374.8 198.3,2374.7 199.0,2375.1 199.7,2375.4 200.4,2375.3 201.1,2375.1 201.8,2374.8 202.5,2374.8 203.2,2374.6 203.9,2374.5 204.6,2374.9 205.3,2375.0 206.0,2374.9 206.7,2375.1 207.4,2374.9 208.1,2374.3 208.8,2374.4 209.5,2374.5 210.2,2374.3 210.9,2374.4 211.6,2374.5 212.3,2374.8 213.0,2374.3 213.7,2374.3 214.4,2374.3 215.1,2375.0 215.8,2374.8 216.5,2375.0 217.2,2374.9 217.9,2374.8 218.6,2374.2 219.3,2374.1 220.0,2374.2 220.7,2374.7 221.4,2374.6 222.1,2375.0 222.8,2374.8 223.5,2375.1 224.2,2374.7 224.9,2374.8 225.6,2374.4 226.3,2374.8 227.0,2374.3 227.7,2374.2 228.4,2373.9 229.1,2373.5 229.8,2373.0 230.3,2372.6 230.5,2372.4 230.8,2372.2 231.2,2372.4 231.3,2372.5 231.8,2372.8 231.9,2373.2 232.6,2373.9 233.3,2374.3 234.0,2374.1 234.7,2374.5 235.4,2374.7 236.1,2375.1 236.8,2375.0 237.5,2375.3 238.2,2375.3 238.9,2375.2 239.6,2374.7 240.3,2374.9 241.0,2375.0 241.7,2375.0 242.4,2374.8 243.1,2375.1 243.8,2374.8 244.5,2374.6 245.2,2374.2 245.9,2374.0 246.6,2373.7 247.3,2373.9 248.0,2373.2 248.7,2372.2 249.4,2370.3 249.6,2369.5 250.1,2366.5 250.6,2365.1 250.8,2365.1 251.1,2365.6 251.5,2366.8 251.6,2367.7 252.2,2369.7 252.9,2371.0 253.6,2370.7 253.7,2370.9 254.2,2369.8 254.3,2369.8 254.7,2369.5 255.0,2370.2 255.2,2370.8 255.7,2372.1 256.4,2373.5 257.1,2374.0 257.8,2374.0 258.5,2374.1 259.2,2374.7 259.9,2374.5 260.6,2374.6 261.3,2374.8 262.0,2375.1 262.7,2374.9 263.4,2375.1 264.1,2375.2 264.8,2375.1 265.5,2375.1 266.2,2375.0 266.9,2374.8 267.6,2374.9 268.3,2375.2 269.0,2375.3 269.7,2375.4 270.4,2375.4 271.1,2375.7 271.8,2375.4 272.5,2375.1 273.2,2375.1 273.9,2375.2 274.6,2374.9 275.3,2375.3 276.0,2375.3 276.7,2375.0 277.4,2374.9 278.1,2375.2 278.8,2374.8 279.5,2374.6 280.2,2375.0 280.9,2375.2 281.6,2374.9 282.3,2375.0 283.0,2375.1 283.7,2375.0 284.4,2374.9 285.1,2374.8 285.8,2374.9 286.5,2374.7 287.2,2375.0 287.9,2374.8 288.6,2374.9 289.3,2374.3 290.0,2374.5 290.7,2373.8 291.4,2373.6 292.1,2373.2 292.8,2372.8 293.5,2372.3 294.2,2371.4 294.9,2369.5 295.6,2366.7 296.3,2362.2 297.0,2354.7 297.5,2349.5 297.7,2347.9 298.0,2347.1 298.4,2348.6 298.5,2349.3 299.0,2354.7 299.1,2355.8 299.8,2362.2 300.5,2366.8 301.2,2369.5 301.9,2371.0 302.6,2372.2 303.3,2373.3 304.0,2373.6 304.7,2374.3 305.4,2374.3 306.1,2374.6 306.8,2374.6 307.5,2374.8 308.2,2374.5 308.9,2374.9 309.6,2374.9 310.3,2374.9 311.0,2374.9 311.7,2375.1 312.4,2375.0 313.1,2375.3 313.8,2375.5 314.5,2375.5 315.2,2375.6 315.9,2375.7 316.6,2375.2 317.3,2375.0 318.0,2374.8 318.7,2374.8 319.4,2375.0 320.1,2375.1 320.8,2375.0 321.5,2375.0 322.2,2374.7 322.9,2374.4 323.6,2374.3 324.3,2374.4 325.0,2374.5 325.7,2374.7 326.4,2374.7 327.1,2374.8 327.8,2374.8 328.5,2374.9 329.2,2374.8 329.9,2374.7 330.6,2374.4 331.3,2374.2 332.0,2374.0 332.7,2373.9 333.4,2373.4 334.1,2372.8 334.8,2371.9 335.5,2370.4 335.7,2369.9 336.2,2369.2 336.7,2368.8 336.9,2369.3 337.2,2369.7 337.6,2370.5 337.7,2370.5 338.3,2371.9 339.0,2372.8 339.7,2373.6 340.4,2373.7 341.1,2374.3 341.8,2374.2 342.5,2374.3 343.2,2374.4 343.9,2374.8 344.6,2374.8 345.3,2375.1 346.0,2375.3 346.7,2375.0 347.4,2375.1 348.1,2375.3 348.8,2375.0 349.5,2374.9 350.2,2375.1 350.9,2375.5 351.6,2375.5 352.3,2375.6 353.0,2375.8 353.7,2376.0 354.4,2376.0 355.1,2375.8 355.8,2375.6 356.5,2375.5 357.2,2375.3 357.9,2374.7 358.6,2374.2 359.3,2374.4 360.0,2374.3 360.7,2374.2 361.4,2374.4 362.1,2375.1 362.8,2374.8 363.5,2375.0 364.2,2375.0 364.9,2375.1 365.6,2375.0 366.3,2375.2 367.0,2374.8 367.7,2375.2 368.4,2374.9 369.1,2374.9 369.8,2375.3 370.5,2375.3 371.2,2374.9 371.9,2375.1 372.6,2374.5 373.3,2374.1 374.0,2374.0 374.7,2374.2 375.4,2374.1 376.1,2374.7 376.8,2374.8 377.5,2374.9 378.2,2375.2 378.9,2375.2 379.6,2375.3 380.3,2375.2 381.0,2375.2 381.7,2374.9 382.4,2375.3 383.1,2375.0 383.8,2375.0 384.5,2374.8 385.2,2374.8 385.9,2374.4 386.6,2374.1 387.3,2373.7 388.0,2373.3 388.7,2372.9 389.4,2371.8 390.1,2370.6 390.2,2370.6 390.7,2370.0 390.8,2369.6 391.2,2369.7 391.5,2369.6 391.7,2369.8 392.2,2370.8 392.9,2372.2 393.6,2373.1 394.3,2373.4 395.0,2373.8 395.7,2373.8 396.4,2374.2 397.1,2374.6 397.8,2375.2 398.5,2375.3 399.2,2375.2 399.9,2375.1 400.6,2374.7 401.3,2375.0 402.0,2374.8 402.7,2375.6 403.4,2375.6 404.1,2375.4 404.8,2375.4 405.5,2375.6 406.2,2375.3 406.9,2375.5 407.6,2375.6 408.3,2375.2 409.0,2375.3 409.7,2375.4 410.4,2375.2 411.1,2375.6 411.8,2375.4 412.5,2375.4 413.2,2375.1 413.9,2375.0 414.6,2375.0 415.3,2375.4 416.0,2375.2 416.7,2375.5 417.4,2375.5 418.1,2375.6 418.8,2375.3 419.5,2375.7 420.2,2375.4 420.9,2375.3 421.6,2375.4 422.3,2375.4 423.0,2375.3 423.7,2375.6 424.4,2375.5 425.1,2375.2 425.8,2375.2 426.5,2375.1 427.2,2374.7 427.9,2375.0 428.6,2375.1 429.3,2375.0 430.0,2375.0 430.7,2375.3 431.4,2375.0 432.1,2374.9 432.8,2375.3 433.5,2375.4 434.2,2375.2 434.9,2375.4 435.6,2375.4 436.3,2375.3 437.0,2375.3 437.7,2375.5 438.4,2375.8 439.1,2375.6 439.8,2375.9 440.5,2375.7 441.2,2375.5 441.9,2375.3 442.6,2375.0 443.3,2374.6 444.0,2374.5 444.7,2374.8 445.4,2375.0 446.1,2375.2 446.8,2375.2 447.5,2375.3 448.2,2375.3 448.9,2375.2 449.6,2375.3 450.3,2375.1 451.0,2374.8 451.7,2374.1 452.4,2373.5 453.1,2373.2 453.8,2373.0 454.5,2372.1 455.2,2371.2 455.4,2371.2 455.9,2370.0 456.4,2369.1 456.6,2369.1 456.9,2368.9 457.3,2369.4 457.4,2369.8 458.0,2371.1 458.7,2372.3 459.4,2373.6 460.1,2374.0 460.8,2374.2 461.5,2374.6 462.2,2374.7 462.9,2374.8 463.6,2374.7 464.3,2375.0 465.0,2374.7 465.7,2374.9 466.4,2374.8 467.1,2375.1 467.8,2375.0 468.5,2375.2 469.2,2375.3 469.9,2375.0 470.6,2374.9 471.3,2375.1 472.0,2375.2 472.7,2375.1 473.4,2375.4 474.1,2375.1 474.8,2375.3 475.5,2375.2 476.2,2375.2 476.9,2375.2 477.6,2375.3 478.3,2375.0 479.0,2375.2 479.7,2375.2 480.4,2375.4 481.1,2375.7 481.8,2375.8 482.5,2375.9 483.2,2375.5 483.9,2375.6 484.6,2375.2 485.3,2375.1 486.0,2375.1 486.7,2375.2 487.4,2374.8 488.1,2375.1 488.8,2374.9 489.5,2374.7 490.2,2375.2 490.9,2375.2 491.6,2375.4 492.3,2375.6 493.0,2375.9 493.7,2375.8 494.4,2375.9 495.1,2375.6 495.8,2375.6 496.5,2375.6 497.2,2375.3 497.9,2375.3 498.6,2375.4 499.3,2375.7 500.0,2375.6 500.7,2375.7 501.4,2375.5 502.1,2375.4 502.8,2375.3 503.5,2375.4 504.2,2375.1 504.9,2375.4 505.6,2375.4 506.3,2375.3 507.0,2374.9 507.7,2375.2 508.4,2375.4 509.1,2375.2 509.8,2375.1 510.5,2375.2 511.2,2375.0 511.9,2374.5 512.6,2375.2 513.3,2375.3 514.0,2375.7 514.7,2376.1 515.4,2376.3 516.1,2375.9 516.8,2376.2 517.5,2376.3 518.2,2376.2 518.9,2376.2 519.6,2376.0 520.3,2375.6 521.0,2375.7 521.7,2375.3 522.4,2375.6 523.1,2375.9 523.8,2376.0 524.5,2375.6 525.2,2375.6 525.9,2375.5 526.6,2375.1 527.3,2374.8 528.0,2374.4 528.7,2374.0 529.4,2373.2 529.6,2372.9 530.1,2372.6 530.6,2372.3 530.8,2372.5 531.1,2372.6 531.5,2373.2 531.6,2372.8 532.2,2373.6 532.9,2374.0 533.6,2374.7 534.3,2375.1 535.0,2375.6 535.7,2375.7 536.4,2375.8 537.1,2375.7 537.8,2375.8 538.5,2375.9 539.2,2376.2 539.9,2375.9 540.6,2375.9 541.3,2376.0 542.0,2376.0 542.7,2375.6 543.4,2376.1 544.1,2375.6 544.8,2375.5 545.5,2375.3 546.2,2375.4 546.9,2375.0 547.6,2375.5 548.3,2375.3 549.0,2375.4 549.7,2375.2 550.4,2375.6 551.1,2375.5 551.8,2375.5 552.5,2375.4 553.2,2375.5 553.9,2375.0 554.6,2374.2 555.3,2373.9 556.0,2372.8 556.7,2371.3 557.4,2369.9 557.6,2369.6 558.1,2368.3 558.6,2368.3 558.8,2368.2 559.1,2368.3 559.5,2369.0 559.6,2369.4 560.2,2370.7 560.9,2372.4 561.6,2373.6 562.3,2374.6 563.0,2374.7 563.7,2375.4 564.4,2375.6 565.1,2375.5 565.8,2375.7 566.5,2375.5 567.2,2374.9 567.9,2375.0 568.6,2375.0 569.3,2374.5 570.0,2374.9 570.7,2375.4 571.4,2375.4 572.1,2375.7 572.8,2376.0 573.5,2376.1 574.2,2375.8 574.9,2375.6 575.6,2375.5 576.3,2375.5 577.0,2375.4 577.7,2375.3 578.4,2375.4 579.1,2375.3 579.8,2375.0 580.5,2374.5 581.2,2374.3 581.9,2373.5 582.6,2372.8 583.3,2371.7 584.0,2370.5 584.6,2368.8 584.7,2369.0 585.1,2368.0 585.4,2367.6 585.6,2367.2 586.1,2368.2 586.6,2369.0 586.8,2369.4 587.5,2371.3 588.2,2373.0 588.9,2373.2 589.6,2373.9 590.3,2374.7 591.0,2374.7 591.7,2374.7 592.4,2375.4 593.1,2375.7 593.8,2375.4 594.5,2375.4 595.2,2375.5 595.9,2375.3 596.6,2374.9 597.3,2375.0 598.0,2375.3 598.7,2375.1 599.4,2375.4 600.1,2375.7 600.8,2376.0 601.5,2376.0 602.2,2376.2 602.9,2375.7 603.6,2375.9 604.3,2375.7 605.0,2375.7 605.7,2376.0 606.4,2376.0 607.1,2375.8 607.8,2375.8 608.5,2375.6 609.2,2375.3 609.9,2375.5 610.6,2375.6 611.3,2375.8 612.0,2376.2 612.7,2376.6 613.4,2376.5 614.1,2376.5 614.8,2376.2 615.5,2376.0 616.2,2375.7 616.9,2376.0 617.6,2376.2 618.3,2376.2 619.0,2375.8 619.7,2375.7 620.4,2375.3 621.1,2375.4 621.8,2375.6 622.5,2376.0 623.2,2376.3 623.9,2376.5 624.6,2376.2 625.3,2376.0 626.0,2375.9 626.7,2375.6 627.4,2375.5 628.1,2375.3 628.8,2375.4 629.5,2375.5 630.2,2375.5 630.9,2375.5 631.6,2375.6 632.3,2375.4 633.0,2375.2 633.7,2375.4 634.4,2375.2 635.1,2375.1 635.8,2374.9 636.5,2374.8 637.0,2374.4 637.2,2374.0 637.5,2374.3 637.9,2374.4 638.0,2374.5 638.5,2374.6 638.6,2374.7 639.3,2374.5 640.0,2374.9 640.7,2374.9 641.4,2375.1 642.1,2375.4 642.8,2375.4 643.5,2375.6 644.2,2375.6 644.9,2375.4 645.6,2375.3 646.3,2375.7 647.0,2375.6 647.7,2375.8 648.4,2376.1 649.1,2376.3 649.8,2376.4 650.5,2376.3 651.2,2376.3 651.9,2376.1 652.6,2376.3 653.3,2376.2 654.0,2376.1 654.7,2375.9 655.4,2376.2 656.1,2375.7 656.8,2375.6 657.5,2375.6 658.2,2375.5 658.9,2375.7 659.6,2375.7 660.3,2375.4 661.0,2375.8 661.7,2375.8 662.4,2375.8 663.1,2376.0 663.8,2376.2 664.5,2375.6 665.2,2375.7 665.9,2375.6 666.6,2375.5 667.3,2375.6 668.0,2375.7 668.7,2375.7 669.4,2375.7 670.1,2375.8 670.8,2375.5 671.5,2375.5 672.2,2375.4 672.9,2375.3 673.6,2375.0 674.3,2375.3 675.0,2375.2 675.7,2374.9 676.4,2375.1 677.1,2375.2 677.8,2375.5 678.5,2376.0 679.2,2376.0 679.9,2375.9 680.6,2375.8 681.3,2375.7 682.0,2375.7 682.7,2376.3 683.4,2376.5 684.1,2376.5 684.8,2376.4 685.5,2376.0 686.2,2375.8 686.9,2375.8 687.6,2376.0 688.3,2376.1 689.0,2376.2 689.7,2376.0 690.4,2375.7 691.1,2375.4 691.8,2375.3 692.5,2375.4 693.2,2375.3 693.9,2375.4 694.6,2375.4 695.3,2375.6 696.0,2375.7 696.7,2375.7 697.4,2375.8 698.1,2376.0 698.8,2375.7 699.5,2375.7 700.2,2376.0 700.9,2375.7 701.6,2375.9 702.3,2375.9 703.0,2375.8 703.7,2375.4 704.4,2375.6 705.1,2375.5 705.8,2375.6 706.5,2376.1 707.2,2376.3 707.9,2376.3 708.6,2376.3 709.3,2376.4 710.0,2376.1 710.7,2376.3 711.4,2376.3 712.1,2376.4 712.8,2375.9 713.5,2375.8 714.2,2375.5 714.9,2375.6 715.6,2375.4 716.3,2375.9 717.0,2375.9 717.7,2376.2 718.4,2375.8 719.1,2376.0 719.8,2375.7 720.5,2376.0 721.2,2375.7 721.9,2376.0 722.6,2375.7 723.3,2376.0 724.0,2375.9 724.7,2376.0 725.4,2376.0 726.1,2376.3 726.8,2376.1 727.5,2376.1 728.2,2376.2 728.9,2376.2 729.6,2375.9 730.3,2376.6 731.0,2376.4 731.7,2376.2 732.4,2376.1 733.1,2376.3 733.8,2375.5 734.5,2375.4 735.2,2375.6 735.9,2375.5 736.6,2375.4 737.3,2375.5 738.0,2375.6 738.7,2375.8 739.4,2375.8 740.1,2376.0 740.8,2376.2 741.5,2376.2 742.2,2376.4 742.9,2376.5 743.6,2376.6 744.3,2376.9 745.0,2376.5 745.7,2376.5 746.4,2376.0 747.1,2375.7 747.8,2375.3 748.5,2375.7 749.2,2375.7 749.9,2376.0 750.6,2375.7 751.3,2376.1 752.0,2375.9 752.7,2375.4 753.4,2375.8 754.1,2376.2 754.8,2376.0 755.5,2376.0 756.2,2376.0 756.9,2375.6 757.6,2375.3 758.3,2375.0 759.0,2374.2 759.7,2373.5 759.8,2373.5 760.3,2372.8 760.4,2372.7 760.8,2372.7 761.1,2372.9 761.3,2373.1 761.8,2373.9 762.5,2374.5 763.2,2375.1 763.9,2375.2 764.6,2375.3 765.3,2375.4 766.0,2375.4 766.7,2375.6 767.4,2375.6 768.1,2375.8 768.8,2376.0 769.5,2376.2 770.2,2376.4 770.9,2376.6 771.6,2376.6 772.3,2376.5 773.0,2376.3 773.7,2375.8 774.4,2376.2 775.1,2375.6 775.8,2375.6 776.5,2376.0 777.2,2376.3 777.9,2375.8 778.6,2376.1 779.3,2376.1 780.0,2376.0 780.7,2376.2 781.4,2376.1 782.1,2376.4 782.8,2376.4 783.5,2376.5 784.2,2376.6 784.9,2376.9 785.6,2376.4 786.3,2376.3 787.0,2376.0 787.7,2375.7 788.4,2375.5 789.1,2375.4 789.8,2375.5 790.5,2375.6 791.2,2376.0 791.9,2376.0 792.6,2376.6 793.3,2376.6 794.0,2376.6 794.7,2376.4 795.4,2376.8 796.1,2376.6 796.8,2376.7 797.5,2376.8 798.2,2376.7 798.9,2376.2 799.6,2376.0 800.3,2375.9 801.0,2376.2 801.7,2376.2 802.4,2376.6 803.1,2376.7 803.8,2376.7 804.5,2376.5 805.2,2376.2 805.9,2375.6 806.6,2375.9 807.3,2376.1 808.0,2376.0 808.7,2376.4 809.4,2376.7 810.1,2376.4 810.8,2376.3 811.5,2376.3 812.2,2376.4 812.9,2376.4 813.6,2376.3 814.3,2376.2 815.0,2376.5 815.7,2376.4 816.4,2376.3 817.1,2376.6 817.8,2376.6 818.5,2376.6 819.2,2376.8 819.9,2376.4 820.6,2376.6 821.3,2376.4 822.0,2375.8 822.7,2375.5 823.4,2376.0 824.1,2375.5 824.8,2375.9 825.5,2376.1 826.2,2376.4 826.9,2376.4 827.6,2376.5 828.3,2376.0 829.0,2376.1 829.7,2375.5 830.4,2375.5 831.1,2375.6 831.8,2376.2 832.5,2376.1 833.2,2376.3 833.9,2376.3 834.6,2376.2 835.3,2376.0 836.0,2376.0 836.7,2376.1 837.4,2375.8 838.1,2376.1 838.8,2376.3 839.5,2376.3 840.2,2376.3 840.9,2376.5 841.6,2376.2 842.3,2375.5 843.0,2375.8 843.7,2375.9 844.4,2375.9 845.1,2376.5 845.8,2376.8 846.5,2376.6 847.2,2376.7 847.9,2376.7 848.6,2376.4 849.3,2376.5 850.0,2376.7 850.7,2376.6 851.4,2376.9 852.1,2377.0 852.8,2377.1 853.5,2377.1 854.2,2376.9 854.9,2376.5 855.6,2376.3 856.3,2376.4 856.6,2376.0" fill="none" stroke="#ff0000" stroke-width="2.90" stroke-linejoin="round" stroke-linecap="butt"/>
<polyline points="17.7,2500.1 18.4,2498.9 19.1,2499.1 19.8,2498.6 20.5,2498.5 21.2,2499.0 21.9,2499.5 22.6,2500.3 23.3,2500.5 24.0,2500.9 24.7,2500.6 25.4,2500.6 26.1,2499.9 26.8,2499.2 27.5,2498.4 28.2,2498.5 28.9,2499.0 29.6,2499.9 30.3,2500.2 31.0,2499.7 31.7,2499.2 32.4,2498.5 33.1,2499.7 33.8,2500.0 34.5,2500.6 35.2,2499.7 35.9,2499.2 36.6,2498.8 37.3,2499.3 38.0,2500.2 38.7,2499.7 39.4,2500.0 40.1,2499.4 40.8,2499.9 41.5,2499.6 42.2,2499.9 42.9,2500.4 43.6,2501.0 44.3,2501.4 45.0,2501.0 45.7,2500.8 46.4,2500.8 47.1,2501.6 47.8,2501.5 48.5,2500.6 49.2,2499.8 49.9,2499.5 50.6,2500.8 51.3,2501.0 52.0,2501.7 52.7,2501.4 53.4,2500.8 54.1,2500.4 54.8,2500.5 55.5,2501.3 56.2,2500.5 56.9,2500.4 57.6,2499.9 58.3,2499.6 59.0,2499.1 59.7,2498.4 60.4,2498.8 61.1,2499.8 61.8,2502.0 62.5,2503.1 63.2,2502.6 63.9,2502.3 64.6,2501.9 65.3,2501.2 66.0,2499.0 66.7,2499.3 67.4,2498.6 68.1,2498.4 68.8,2497.6 69.5,2498.7 70.2,2499.7 70.9,2500.6 71.6,2500.5 72.3,2501.0 73.0,2500.7 73.7,2500.4 74.4,2500.4 75.1,2501.3 75.8,2501.1 76.5,2501.1 77.2,2500.2 77.9,2500.4 78.6,2500.2 79.3,2499.1 80.0,2499.1 80.7,2499.2 81.4,2500.6 82.1,2501.3 82.8,2500.9 83.5,2499.8 84.2,2500.2 84.9,2500.9 85.6,2500.5 86.3,2499.4 87.0,2498.5 87.7,2499.1 88.4,2498.4 89.1,2498.6 89.8,2498.6 90.5,2499.3 91.2,2500.0 91.9,2500.3 92.6,2499.7 93.3,2498.3 94.0,2497.8 94.7,2498.8 95.4,2500.0 96.1,2499.8 96.8,2499.4 97.5,2498.6 98.2,2497.4 98.9,2494.7 99.6,2489.9 99.9,2487.0 100.3,2482.6 100.4,2481.8 100.9,2480.6 101.0,2480.4 101.4,2482.7 101.7,2484.8 101.9,2487.3 102.4,2490.8 103.1,2495.1 103.8,2497.6 104.5,2499.9 105.2,2499.9 105.9,2500.2 106.6,2499.8 107.3,2500.2 108.0,2499.3 108.7,2499.2 109.4,2498.5 110.1,2498.1 110.8,2497.7 111.5,2497.3 112.2,2497.2 112.9,2497.2 113.6,2497.4 114.3,2499.0 115.0,2500.0 115.7,2500.8 116.4,2500.1 117.1,2498.7 117.8,2498.2 118.5,2497.0 119.2,2497.1 119.9,2496.7 120.6,2497.1 121.3,2497.8 122.0,2497.6 122.7,2499.0 123.4,2498.2 124.1,2499.0 124.8,2496.9 125.5,2497.5 126.2,2496.4 126.9,2497.3 127.6,2496.7 128.3,2497.7 129.0,2497.8 129.7,2498.0 130.4,2497.4 131.1,2498.0 131.8,2497.5 132.5,2497.6 133.2,2496.2 133.9,2496.5 134.6,2495.9 135.3,2495.9 136.0,2496.0 136.7,2496.2 137.4,2496.6 138.1,2496.0 138.8,2497.0 139.5,2496.7 140.2,2497.9 140.9,2497.4 141.6,2497.4 142.3,2497.0 143.0,2497.3 143.7,2498.1 144.4,2498.3 145.1,2498.2 145.8,2496.8 146.5,2496.5 147.2,2496.0 147.9,2496.8 148.6,2497.0 149.3,2496.6 150.0,2497.1 150.7,2497.6 151.4,2498.3 152.1,2497.4 152.8,2496.9 153.5,2496.7 154.2,2497.3 154.9,2497.3 155.6,2496.4 156.3,2496.0 157.0,2494.5 157.7,2494.9 158.4,2495.1 159.1,2495.2 159.8,2495.2 160.5,2494.6 161.2,2495.4 161.9,2495.9 162.6,2496.4 163.3,2495.9 164.0,2495.3 164.7,2495.3 165.4,2495.1 166.1,2495.1 166.8,2495.2 167.5,2495.2 168.2,2495.1 168.9,2495.3 169.6,2495.7 170.3,2495.0 171.0,2494.0 171.7,2495.0 172.4,2497.6 173.1,2497.8 173.8,2497.1 174.5,2496.1 175.2,2496.3 175.9,2495.0 176.6,2495.2 177.3,2495.1 178.0,2495.9 178.7,2494.6 179.4,2494.1 180.1,2494.1 180.8,2494.8 181.5,2495.2 182.2,2495.1 182.9,2495.7 183.6,2495.9 184.3,2495.4 185.0,2494.6 185.7,2494.5 186.4,2494.8 187.1,2495.8 187.8,2495.3 188.5,2495.7 189.2,2495.2 189.9,2494.9 190.6,2495.4 191.3,2495.0 192.0,2495.2 192.7,2494.2 193.4,2493.4 194.1,2493.0 194.8,2494.1 195.5,2494.9 196.2,2495.4 196.9,2494.8 197.6,2495.1 198.3,2494.8 199.0,2494.6 199.7,2494.4 200.4,2495.3 201.1,2495.5 201.8,2496.2 202.5,2495.6 203.2,2495.3 203.9,2493.7 204.6,2493.7 205.3,2494.1 206.0,2494.6 206.7,2494.5 207.4,2493.5 208.1,2493.3 208.8,2493.1 209.5,2493.4 210.2,2494.2 210.9,2494.6 211.6,2495.0 212.3,2495.0 213.0,2494.4 213.7,2494.5 214.4,2493.9 215.1,2493.3 215.8,2492.3 216.5,2492.1 217.2,2491.9 217.9,2493.2 218.6,2493.2 219.3,2494.3 220.0,2492.4 220.7,2492.4 221.4,2492.0 222.1,2492.1 222.8,2492.0 223.5,2491.8 224.2,2492.2 224.9,2491.3 225.6,2491.3 226.3,2490.8 227.0,2490.7 227.7,2489.0 228.4,2488.7 229.1,2488.6 229.8,2490.4 230.5,2489.2 231.2,2489.2 231.9,2487.0 232.6,2484.7 233.3,2477.7 234.0,2466.1 234.5,2455.6 234.7,2453.3 235.0,2451.0 235.4,2454.4 235.5,2455.2 236.0,2463.3 236.1,2464.9 236.8,2474.5 237.5,2480.6 238.2,2484.1 238.9,2486.7 239.6,2488.1 240.3,2488.0 241.0,2487.6 241.7,2487.5 242.4,2487.8 243.1,2487.8 243.8,2487.9 244.5,2487.5 245.2,2487.1 245.9,2486.8 246.6,2486.8 247.3,2484.9 248.0,2482.6 248.7,2479.3 249.3,2477.4 249.4,2476.9 249.8,2476.1 250.1,2475.8 250.3,2475.9 250.8,2476.7 251.3,2477.0 251.5,2478.3 252.2,2480.0 252.9,2483.8 253.6,2485.7 254.3,2487.5 255.0,2487.1 255.7,2486.4 256.4,2486.5 257.1,2486.6 257.8,2487.6 258.5,2486.6 259.2,2487.1 259.9,2487.0 260.6,2486.7 261.3,2485.8 262.0,2485.2 262.7,2486.1 263.4,2485.9 264.1,2486.3 264.8,2486.0 265.5,2486.8 266.2,2485.9 266.9,2485.9 267.6,2486.3 268.3,2486.3 269.0,2486.9 269.7,2487.3 270.4,2488.6 271.1,2487.9 271.8,2488.3 272.5,2487.6 273.2,2488.7 273.9,2488.0 274.6,2488.1 275.3,2487.9 276.0,2486.0 276.7,2486.2 277.4,2485.9 278.1,2487.1 278.8,2487.0 279.5,2487.4 280.2,2488.0 280.9,2487.5 281.6,2487.3 282.3,2487.3 283.0,2487.5 283.7,2487.2 284.4,2485.1 285.1,2484.0 285.8,2483.6 286.5,2483.7 287.2,2484.4 287.9,2484.0 288.6,2483.2 289.3,2480.7 290.0,2477.5 290.7,2473.7 291.4,2466.4 292.1,2451.8 292.8,2430.1 293.3,2413.5 293.5,2409.3 293.8,2406.2 294.2,2411.9 294.3,2414.6 294.8,2429.9 294.9,2432.9 295.6,2452.8 296.3,2467.7 297.0,2474.6 297.7,2479.8 298.4,2482.1 299.1,2485.1 299.8,2485.5 300.5,2485.7 301.2,2485.7 301.9,2485.2 302.6,2485.2 303.3,2484.3 304.0,2484.6 304.7,2483.1 305.4,2481.2 306.1,2478.6 306.8,2477.8 307.4,2476.4 307.5,2477.3 307.9,2475.4 308.2,2475.0 308.4,2475.3 308.9,2474.9 309.4,2476.4 309.6,2476.1 310.3,2479.5 311.0,2481.1 311.7,2482.5 312.4,2483.6 313.1,2485.8 313.8,2486.8 314.5,2487.6 315.2,2487.3 315.9,2488.3 316.6,2489.3 317.3,2489.8 318.0,2489.7 318.7,2489.6 319.4,2489.3 320.1,2489.6 320.8,2490.4 321.5,2490.6 322.2,2490.2 322.9,2488.8 323.6,2489.3 324.3,2490.2 325.0,2490.9 325.7,2490.8 326.4,2491.3 327.1,2491.6 327.8,2492.3 328.5,2491.7 329.2,2492.4 329.9,2492.7 330.6,2492.9 331.3,2492.1 332.0,2493.1 332.7,2492.7 333.4,2492.7 334.1,2490.3 334.8,2491.3 335.5,2492.0 336.2,2493.3 336.9,2492.3 337.6,2492.4 338.3,2492.2 339.0,2492.5 339.7,2492.5 340.4,2493.2 341.1,2493.7 341.8,2493.7 342.5,2493.9 343.2,2494.2 343.9,2494.3 344.6,2494.2 345.3,2494.3 346.0,2495.0 346.7,2495.2 347.4,2495.5 348.1,2494.7 348.8,2495.0 349.5,2495.2 350.2,2495.3 350.9,2495.3 351.6,2494.9 352.3,2494.7 353.0,2494.1 353.7,2493.5 354.4,2494.6 355.1,2494.0 355.8,2495.4 356.5,2494.5 357.2,2495.1 357.9,2495.0 358.6,2495.7 359.3,2495.0 360.0,2494.3 360.7,2493.2 361.4,2494.5 362.1,2494.1 362.8,2495.0 363.5,2494.6 364.2,2494.4 364.9,2494.7 365.6,2495.7 366.3,2496.0 367.0,2495.6 367.7,2494.9 368.4,2496.1 369.1,2496.0 369.8,2495.9 370.5,2495.5 371.2,2496.5 371.9,2496.1 372.6,2497.2 373.3,2497.7 374.0,2497.5 374.7,2495.9 375.4,2495.1 376.1,2495.5 376.8,2495.7 377.5,2495.6 378.2,2495.6 378.9,2495.6 379.6,2495.7 380.3,2495.9 381.0,2496.4 381.7,2496.8 382.4,2497.5 383.1,2497.4 383.8,2497.9 384.5,2497.1 385.2,2497.5 385.9,2497.4 386.6,2497.6 387.3,2497.6 388.0,2496.4 388.7,2496.0 389.4,2495.7 390.1,2496.2 390.8,2496.6 391.5,2496.9 392.2,2496.8 392.9,2496.5 393.6,2495.9 394.3,2495.6 395.0,2495.7 395.7,2496.0 396.4,2495.5 397.1,2496.1 397.8,2496.6 398.5,2497.3 399.2,2496.4 399.9,2496.4 400.6,2496.1 401.3,2496.2 402.0,2495.9 402.7,2495.8 403.4,2495.9 404.1,2495.4 404.8,2495.9 405.5,2496.1 406.2,2496.7 406.9,2496.6 407.6,2496.5 408.3,2496.3 409.0,2496.5 409.7,2495.8 410.4,2495.0 411.1,2494.6 411.8,2495.2 412.5,2495.6 413.2,2496.3 413.9,2496.4 414.6,2497.1 415.3,2496.4 416.0,2495.5 416.7,2494.2 417.4,2494.6 418.1,2495.3 418.8,2495.7 419.5,2495.8 420.2,2496.5 420.9,2496.9 421.6,2496.9 422.3,2495.8 423.0,2495.1 423.7,2493.6 424.4,2494.2 425.1,2493.8 425.8,2494.3 426.5,2493.7 427.2,2494.6 427.9,2493.7 428.6,2493.2 429.3,2492.2 430.0,2493.4 430.7,2492.8 431.4,2492.0 432.1,2490.5 432.8,2487.8 433.5,2483.1 434.2,2473.4 434.6,2466.6 434.9,2461.6 435.1,2458.1 435.6,2453.9 436.1,2456.8 436.3,2460.4 436.6,2466.0 437.0,2473.4 437.7,2482.4 438.4,2488.2 439.1,2491.1 439.8,2492.5 440.5,2493.5 441.2,2493.4 441.9,2493.6 442.6,2493.8 443.3,2494.7 444.0,2495.7 444.7,2496.4 445.4,2496.1 446.1,2495.4 446.8,2495.0 447.5,2494.7 448.2,2494.8 448.9,2494.6 449.6,2494.9 450.3,2493.7 451.0,2493.9 451.7,2494.3 452.4,2495.0 453.1,2495.8 453.8,2495.6 454.5,2495.9 455.2,2495.7 455.9,2495.2 456.6,2496.8 457.3,2495.8 458.0,2496.7 458.7,2496.1 459.4,2496.8 460.1,2496.4 460.8,2495.3 461.5,2494.9 462.2,2495.0 462.9,2495.8 463.6,2494.8 464.3,2495.0 465.0,2493.9 465.7,2494.7 466.4,2494.4 467.1,2494.6 467.8,2495.2 468.5,2494.4 469.2,2495.0 469.9,2494.2 470.6,2494.8 471.3,2494.5 472.0,2494.3 472.7,2494.7 473.4,2495.7 474.1,2496.1 474.8,2495.4 475.5,2495.1 476.2,2496.2 476.9,2495.6 477.6,2494.6 478.3,2493.4 479.0,2494.4 479.7,2494.5 480.4,2494.3 481.1,2493.9 481.8,2494.4 482.5,2494.4 483.2,2494.6 483.9,2494.2 484.6,2495.3 485.3,2495.1 486.0,2494.7 486.7,2493.0 487.4,2492.3 488.1,2492.1 488.8,2491.8 489.5,2490.8 490.2,2487.8 490.9,2485.2 491.6,2481.1 492.3,2477.0 493.0,2472.5 493.5,2471.3 493.7,2471.4 494.0,2471.4 494.4,2471.1 494.5,2471.5 495.0,2473.3 495.1,2474.5 495.8,2478.1 496.5,2482.0 497.2,2484.7 497.9,2486.7 498.6,2488.4 499.3,2489.7 500.0,2491.0 500.7,2492.0 501.4,2492.4 502.1,2492.7 502.8,2493.3 503.5,2493.3 504.2,2492.5 504.9,2493.4 505.6,2494.2 506.3,2495.6 507.0,2495.5 507.7,2496.0 508.4,2496.7 509.1,2496.7 509.8,2496.5 510.5,2496.1 511.2,2495.6 511.9,2495.2 512.6,2493.2 513.3,2494.1 514.0,2494.2 514.7,2495.5 515.4,2495.2 516.1,2494.9 516.8,2495.6 517.5,2494.6 518.2,2494.4 518.9,2494.7 519.6,2495.2 520.3,2495.0 521.0,2494.8 521.7,2495.1 522.4,2495.7 523.1,2495.6 523.8,2495.8 524.5,2496.4 525.2,2496.2 525.9,2495.8 526.6,2495.8 527.3,2495.3 528.0,2494.3 528.7,2492.6 529.4,2492.9 530.1,2490.9 530.8,2488.8 531.5,2483.6 531.8,2483.0 532.2,2481.6 532.3,2482.2 532.8,2482.1 532.9,2482.9 533.3,2483.6 533.6,2483.7 533.8,2483.4 534.3,2485.2 535.0,2487.8 535.7,2490.1 536.4,2491.9 537.1,2493.4 537.8,2495.1 538.5,2494.5 539.2,2494.7 539.9,2494.5 540.6,2494.9 541.3,2494.1 542.0,2494.7 542.7,2495.8 543.4,2497.0 544.1,2496.6 544.8,2495.7 545.5,2494.9 546.2,2495.1 546.9,2495.7 547.6,2495.5 548.3,2494.7 549.0,2495.4 549.7,2495.7 550.4,2495.0 551.1,2493.1 551.8,2493.5 552.5,2494.3 553.2,2495.1 553.9,2494.9 554.6,2494.9 555.3,2494.9 556.0,2494.9 556.7,2495.5 557.4,2495.8 558.1,2496.4 558.8,2495.0 559.5,2494.5 560.2,2494.8 560.9,2495.8 561.6,2496.7 562.3,2495.5 563.0,2495.8 563.7,2495.0 564.4,2495.7 565.1,2495.0 565.8,2494.8 566.5,2494.3 567.2,2494.6 567.9,2495.6 568.6,2495.6 569.3,2495.4 570.0,2494.3 570.7,2494.5 571.4,2495.1 572.1,2495.4 572.8,2495.3 573.5,2495.3 574.2,2495.7 574.9,2496.3 575.6,2496.1 576.3,2495.6 577.0,2495.8 577.7,2495.4 578.4,2495.8 579.1,2495.5 579.8,2496.3 580.5,2496.1 581.2,2496.4 581.9,2495.0 582.6,2495.1 583.3,2494.8 584.0,2495.7 584.7,2494.6 585.4,2494.8 586.1,2494.4 586.8,2494.9 587.5,2495.3 588.2,2495.3 588.9,2495.9 589.6,2494.1 590.3,2494.2 591.0,2493.5 591.7,2494.0 592.4,2492.6 593.1,2492.0 593.8,2491.1 594.0,2492.1 594.5,2491.4 595.0,2490.6 595.2,2490.5 595.5,2490.3 595.9,2491.2 596.0,2491.1 596.6,2492.9 597.3,2493.9 598.0,2494.5 598.7,2494.3 599.4,2494.5 600.1,2494.5 600.8,2494.8 601.5,2494.5 602.2,2494.7 602.9,2495.3 603.6,2495.8 604.3,2495.7 605.0,2495.5 605.7,2495.0 606.4,2495.0 607.1,2495.8 607.8,2496.6 608.5,2497.0 609.2,2495.8 609.9,2495.0 610.6,2494.0 611.3,2494.0 612.0,2494.9 612.7,2495.3 613.4,2495.5 614.1,2494.5 614.8,2494.4 615.5,2493.9 616.2,2495.1 616.9,2494.7 617.6,2493.6 618.3,2492.1 619.0,2491.4 619.7,2491.4 620.4,2489.9 621.1,2489.6 621.8,2488.4 622.5,2488.4 622.8,2487.6 623.2,2487.4 623.3,2487.4 623.8,2487.8 623.9,2487.1 624.3,2487.3 624.6,2487.6 624.8,2488.7 625.3,2488.9 626.0,2489.2 626.7,2489.9 627.4,2490.3 628.1,2491.4 628.8,2492.5 629.5,2492.8 630.2,2492.8 630.9,2492.2 631.6,2492.7 632.3,2493.4 633.0,2494.0 633.7,2494.4 634.4,2493.7 635.1,2494.5 635.8,2494.2 636.5,2493.2 637.2,2490.2 637.4,2489.9 637.9,2489.0 638.4,2488.5 638.6,2487.7 638.9,2487.1 639.3,2488.7 639.4,2489.9 640.0,2493.5 640.7,2494.8 641.4,2495.5 642.1,2494.2 642.8,2494.8 643.5,2494.2 644.2,2495.0 644.9,2494.4 645.6,2494.5 646.3,2494.7 647.0,2495.4 647.7,2495.6 648.4,2495.7 649.1,2495.4 649.8,2496.8 650.5,2497.4 651.2,2497.2 651.9,2496.6 652.6,2497.1 653.3,2497.3 654.0,2497.3 654.7,2497.1 655.4,2496.5 656.1,2496.2 656.8,2495.6 657.5,2496.8 658.2,2497.3 658.9,2497.2 659.6,2496.1 660.3,2495.2 661.0,2495.4 661.7,2495.9 662.4,2496.2 663.1,2495.7 663.8,2496.3 664.5,2496.5 665.2,2498.1 665.9,2497.8 666.6,2497.9 667.3,2496.6 668.0,2496.4 668.7,2495.5 669.4,2495.8 670.1,2495.5 670.8,2495.0 671.5,2496.2 672.2,2496.7 672.9,2497.6 673.6,2496.6 674.3,2496.5 675.0,2496.4 675.7,2496.9 676.4,2497.2 677.1,2497.9 677.8,2496.8 678.5,2496.9 679.2,2495.9 679.9,2495.9 680.6,2496.0 681.3,2496.6 682.0,2497.5 682.7,2497.5 683.4,2496.4 684.1,2496.4 684.8,2497.0 685.5,2498.0 686.2,2498.2 686.9,2498.0 687.6,2498.8 688.3,2497.1 689.0,2496.3 689.7,2495.4 690.4,2496.5 691.1,2497.1 691.8,2496.6 692.5,2495.6 693.2,2495.2 693.9,2495.7 694.6,2497.4 695.3,2497.8 696.0,2498.1 696.7,2498.2 697.4,2497.1 698.1,2496.9 698.8,2495.6 699.5,2497.1 700.2,2497.0 700.9,2498.2 701.6,2497.5 702.3,2498.0 703.0,2498.0 703.7,2498.3 704.4,2498.4 705.1,2497.9 705.8,2497.7 706.5,2496.4 707.2,2496.0 707.9,2496.3 708.6,2497.5 709.3,2497.3 710.0,2496.0 710.7,2495.1 711.4,2495.6 712.1,2496.6 712.8,2497.2 713.5,2497.8 714.2,2496.7 714.9,2496.7 715.6,2496.4 716.3,2497.2 717.0,2497.6 717.7,2497.6 718.4,2497.8 719.1,2498.0 719.8,2498.1 720.5,2497.1 721.2,2496.1 721.9,2495.4 722.6,2496.6 723.3,2497.1 724.0,2497.3 724.7,2495.8 725.4,2494.5 726.1,2494.5 726.3,2494.5 726.8,2494.1 727.3,2492.9 727.5,2493.3 727.8,2492.8 728.2,2493.3 728.3,2493.3 728.9,2495.2 729.6,2496.4 730.3,2496.5 731.0,2496.9 731.7,2497.7 732.4,2497.6 733.1,2496.9 733.8,2496.0 734.5,2496.5 735.2,2496.7 735.9,2496.6 736.6,2495.5 737.3,2496.2 738.0,2496.0 738.7,2497.2 739.4,2496.5 740.1,2497.4 740.8,2496.8 741.5,2496.5 742.2,2496.2 742.9,2496.8 743.6,2497.2 744.3,2497.3 745.0,2497.1 745.7,2497.1 746.4,2496.4 747.1,2496.6 747.8,2497.2 748.5,2497.8 749.2,2497.7 749.9,2497.8 750.6,2497.6 751.3,2497.4 752.0,2497.0 752.7,2498.0 753.4,2498.1 754.1,2498.0 754.8,2497.4 755.5,2497.4 756.2,2497.2 756.9,2497.7 757.6,2497.1 758.3,2497.5 759.0,2497.4 759.7,2498.8 760.4,2498.7 761.1,2498.5 761.8,2497.6 762.5,2496.7 763.2,2496.6 763.9,2496.9 764.6,2498.0 765.3,2498.5 766.0,2499.7 766.7,2499.7 767.4,2499.9 768.1,2498.8 768.8,2498.7 769.5,2497.4 770.2,2497.5 770.9,2497.0 771.6,2497.6 772.3,2496.8 773.0,2497.7 773.7,2496.8 774.4,2497.7 775.1,2496.2 775.8,2496.9 776.5,2496.8 777.2,2498.2 777.9,2499.0 778.6,2498.3 779.3,2497.8 780.0,2497.0 780.7,2497.6 781.4,2498.2 782.1,2498.1 782.8,2497.5 783.5,2496.7 784.2,2497.4 784.9,2497.5 785.6,2497.0 786.3,2496.3 787.0,2497.3 787.7,2498.9 788.4,2498.8 789.1,2497.9 789.8,2497.6 790.5,2498.4 791.2,2498.7 791.9,2498.4 792.6,2498.3 793.3,2497.5 794.0,2498.2 794.7,2497.3 795.4,2497.1 796.1,2497.1 796.8,2497.6 797.5,2499.0 798.2,2497.6 798.9,2497.7 799.6,2497.5 800.3,2498.3 801.0,2498.3 801.7,2498.1 802.4,2498.0 803.1,2497.3 803.8,2498.4 804.5,2498.1 805.2,2498.1 805.9,2497.3 806.6,2497.4 807.3,2497.6 808.0,2499.1 808.7,2499.4 809.4,2498.9 810.1,2497.1 810.8,2496.7 811.5,2497.6 812.2,2498.1 812.9,2498.5 813.6,2499.5 814.3,2499.0 815.0,2498.6 815.7,2498.3 816.4,2499.1 817.1,2499.1 817.8,2498.3 818.5,2498.3 819.2,2498.8 819.9,2499.6 820.6,2499.6 821.3,2499.5 822.0,2499.1 822.7,2498.6 823.4,2498.4 824.1,2497.7 824.8,2497.9 825.5,2498.3 826.2,2499.3 826.9,2498.7 827.6,2498.2 828.3,2498.4 829.0,2499.3 829.7,2498.9 830.4,2497.7 831.1,2497.2 831.8,2496.9 832.5,2498.6 833.2,2498.4 833.9,2499.5 834.6,2497.7 835.3,2497.8 836.0,2497.6 836.7,2497.7 837.4,2498.6 838.1,2498.5 838.8,2499.5 839.5,2498.4 840.2,2498.5 840.9,2498.7 841.6,2499.0 842.3,2499.1 843.0,2498.0 843.7,2497.8 844.4,2497.0 845.1,2497.9 845.8,2497.5 846.5,2497.3 847.2,2497.9 847.9,2498.2 848.6,2498.9 849.3,2498.1 850.0,2498.2 850.7,2498.7 851.4,2499.5 852.1,2499.4 852.8,2499.4 853.5,2498.9 854.2,2498.5 854.9,2498.5 855.6,2498.6 856.3,2499.2 856.6,2498.7" fill="none" stroke="#141414" stroke-width="3.30" stroke-linejoin="round" stroke-linecap="butt"/>
<line x1="17.7" y1="1900.0" x2="17.7" y2="2533.8" stroke="#505050" stroke-width="2.40"/>
<path d="M16.5,1900.0 L857.1,1900.0 L857.1,2533.8" fill="none" stroke="#1c1c1c" stroke-width="2.40" stroke-linejoin="round"/>
<line x1="16.5" y1="2520.9" x2="857.1" y2="2520.9" stroke="#505050" stroke-width="2.30"/>
<text x="18.1" y="2563.1" font-family='"Liberation Sans", sans-serif' font-size="26.6" text-anchor="middle" fill="#262626">10</text>
<line x1="77.7" y1="2520.9" x2="77.7" y2="2527.5" stroke="#505050" stroke-width="1.90"/>
<line x1="137.6" y1="2520.9" x2="137.6" y2="2533.8" stroke="#505050" stroke-width="1.90"/>
<text x="138.0" y="2563.1" font-family='"Liberation Sans", sans-serif' font-size="26.6" text-anchor="middle" fill="#262626">20</text>
<line x1="197.6" y1="2520.9" x2="197.6" y2="2527.5" stroke="#505050" stroke-width="1.90"/>
<line x1="257.5" y1="2520.9" x2="257.5" y2="2533.8" stroke="#505050" stroke-width="1.90"/>
<text x="257.9" y="2563.1" font-family='"Liberation Sans", sans-serif' font-size="26.6" text-anchor="middle" fill="#262626">30</text>
<line x1="317.5" y1="2520.9" x2="317.5" y2="2527.5" stroke="#505050" stroke-width="1.90"/>
<line x1="377.4" y1="2520.9" x2="377.4" y2="2533.8" stroke="#505050" stroke-width="1.90"/>
<text x="377.8" y="2563.1" font-family='"Liberation Sans", sans-serif' font-size="26.6" text-anchor="middle" fill="#262626">40</text>
<line x1="437.4" y1="2520.9" x2="437.4" y2="2527.5" stroke="#505050" stroke-width="1.90"/>
<line x1="497.4" y1="2520.9" x2="497.4" y2="2533.8" stroke="#505050" stroke-width="1.90"/>
<text x="497.8" y="2563.1" font-family='"Liberation Sans", sans-serif' font-size="26.6" text-anchor="middle" fill="#262626">50</text>
<line x1="557.3" y1="2520.9" x2="557.3" y2="2527.5" stroke="#505050" stroke-width="1.90"/>
<line x1="617.3" y1="2520.9" x2="617.3" y2="2533.8" stroke="#505050" stroke-width="1.90"/>
<text x="617.7" y="2563.1" font-family='"Liberation Sans", sans-serif' font-size="26.6" text-anchor="middle" fill="#262626">60</text>
<line x1="677.2" y1="2520.9" x2="677.2" y2="2527.5" stroke="#505050" stroke-width="1.90"/>
<line x1="737.2" y1="2520.9" x2="737.2" y2="2533.8" stroke="#505050" stroke-width="1.90"/>
<text x="737.6" y="2563.1" font-family='"Liberation Sans", sans-serif' font-size="26.6" text-anchor="middle" fill="#262626">70</text>
<line x1="797.1" y1="2520.9" x2="797.1" y2="2527.5" stroke="#505050" stroke-width="1.90"/>
<text x="857.5" y="2563.1" font-family='"Liberation Sans", sans-serif' font-size="26.6" text-anchor="middle" fill="#262626">80</text>
<polygon points="114.1,2025.0 121.4,2033.7 114.1,2042.4 106.8,2033.7" fill="#0c0c0c"/>
<polygon points="150.8,2051.2 158.1,2059.8 150.8,2068.5 143.5,2059.8" fill="#0c0c0c"/>
<polygon points="232.3,2019.5 239.6,2028.2 232.3,2036.9 225.0,2028.2" fill="#0c0c0c"/>
<polygon points="255.4,2001.5 262.7,2010.2 255.4,2018.9 248.1,2010.2" fill="#0c0c0c"/>
<polygon points="299.3,1924.8 306.6,1933.5 299.3,1942.2 292.0,1933.5" fill="#0c0c0c"/>
<polygon points="340.5,2029.1 347.8,2037.8 340.5,2046.5 333.2,2037.8" fill="#0c0c0c"/>
<polygon points="358.5,2052.2 365.8,2060.9 358.5,2069.6 351.2,2060.9" fill="#0c0c0c"/>
<polygon points="392.2,2031.4 399.5,2040.1 392.2,2048.8 384.9,2040.1" fill="#0c0c0c"/>
<polygon points="411.5,2054.5 418.8,2063.2 411.5,2071.8 404.2,2063.2" fill="#0c0c0c"/>
<polygon points="461.5,2022.6 468.8,2031.3 461.5,2040.0 454.2,2031.3" fill="#0c0c0c"/>
<polygon points="532.4,2031.8 539.7,2040.5 532.4,2049.2 525.1,2040.5" fill="#0c0c0c"/>
<polygon points="558.6,2013.8 565.9,2022.5 558.6,2031.2 551.3,2022.5" fill="#0c0c0c"/>
<polygon points="573.2,2053.9 580.5,2062.6 573.2,2071.2 565.9,2062.6" fill="#0c0c0c"/>
<polygon points="590.5,2016.8 597.8,2025.5 590.5,2034.2 583.2,2025.5" fill="#0c0c0c"/>
<polygon points="627.6,2058.7 634.9,2067.3 627.6,2076.0 620.3,2067.3" fill="#0c0c0c"/>
<polygon points="641.1,2041.7 648.4,2050.3 641.1,2059.0 633.8,2050.3" fill="#0c0c0c"/>
<polygon points="739.1,2045.4 746.4,2054.1 739.1,2062.8 731.8,2054.1" fill="#0c0c0c"/>
<polygon points="765.3,2034.2 772.6,2042.9 765.3,2051.6 758.0,2042.9" fill="#0c0c0c"/>
<polygon points="786.7,2054.5 794.0,2063.2 786.7,2071.8 779.4,2063.2" fill="#0c0c0c"/>
<polygon points="824.4,2052.8 831.7,2061.5 824.4,2070.2 817.1,2061.5" fill="#0c0c0c"/>
<path d="M102.90,2477.40 L95.13,2467.99 C93.44,2465.30 94.96,2460.60 98.68,2460.60 C101.04,2460.60 102.39,2462.11 102.90,2464.46 C103.41,2462.11 104.76,2460.60 107.12,2460.60 C110.84,2460.60 112.36,2465.30 110.67,2467.99 Z" fill="#0c0c0c"/>
<path d="M236.80,2446.10 L229.03,2436.69 C227.34,2434.00 228.86,2429.30 232.58,2429.30 C234.94,2429.30 236.29,2430.81 236.80,2433.16 C237.31,2430.81 238.66,2429.30 241.03,2429.30 C244.74,2429.30 246.26,2434.00 244.57,2436.69 Z" fill="#0c0c0c"/>
<path d="M252.40,2467.20 L244.63,2457.79 C242.94,2455.10 244.46,2450.40 248.18,2450.40 C250.54,2450.40 251.89,2451.91 252.40,2454.26 C252.91,2451.91 254.26,2450.40 256.62,2450.40 C260.34,2450.40 261.86,2455.10 260.17,2457.79 Z" fill="#0c0c0c"/>
<path d="M291.10,2407.10 L283.33,2397.69 C281.64,2395.00 283.16,2390.30 286.88,2390.30 C289.24,2390.30 290.59,2391.81 291.10,2394.16 C291.61,2391.81 292.96,2390.30 295.33,2390.30 C299.04,2390.30 300.56,2395.00 298.87,2397.69 Z" fill="#0c0c0c"/>
<path d="M311.10,2465.50 L303.33,2456.09 C301.64,2453.40 303.16,2448.70 306.88,2448.70 C309.24,2448.70 310.59,2450.21 311.10,2452.56 C311.61,2450.21 312.96,2448.70 315.33,2448.70 C319.04,2448.70 320.56,2453.40 318.87,2456.09 Z" fill="#0c0c0c"/>
<path d="M436.30,2446.10 L428.53,2436.69 C426.84,2434.00 428.36,2429.30 432.07,2429.30 C434.44,2429.30 435.79,2430.81 436.30,2433.16 C436.81,2430.81 438.16,2429.30 440.53,2429.30 C444.24,2429.30 445.76,2434.00 444.07,2436.69 Z" fill="#0c0c0c"/>
<path d="M493.00,2464.10 L485.23,2454.69 C483.54,2452.00 485.06,2447.30 488.77,2447.30 C491.14,2447.30 492.49,2448.81 493.00,2451.16 C493.51,2448.81 494.86,2447.30 497.23,2447.30 C500.94,2447.30 502.46,2452.00 500.77,2454.69 Z" fill="#0c0c0c"/>
<path d="M534.10,2473.30 L526.33,2463.89 C524.64,2461.20 526.16,2456.50 529.88,2456.50 C532.24,2456.50 533.59,2458.01 534.10,2460.36 C534.61,2458.01 535.96,2456.50 538.33,2456.50 C542.04,2456.50 543.56,2461.20 541.87,2463.89 Z" fill="#0c0c0c"/>
<path d="M642.50,2473.30 L634.73,2463.89 C633.04,2461.20 634.56,2456.50 638.27,2456.50 C640.64,2456.50 641.99,2458.01 642.50,2460.36 C643.01,2458.01 644.36,2456.50 646.73,2456.50 C650.44,2456.50 651.96,2461.20 650.27,2463.89 Z" fill="#0c0c0c"/>
<path d="M730.30,2484.50 L722.53,2475.09 C720.84,2472.40 722.36,2467.70 726.07,2467.70 C728.44,2467.70 729.79,2469.21 730.30,2471.56 C730.81,2469.21 732.16,2467.70 734.52,2467.70 C738.24,2467.70 739.76,2472.40 738.07,2475.09 Z" fill="#0c0c0c"/>
<text x="305.6" y="1867.0" font-family='"Liberation Serif", serif' font-size="69.0" text-anchor="start" fill="#161616">0.8 mol</text>
<text x="272.6" y="2611.8" font-family='"Liberation Serif", serif' font-size="42.8" text-anchor="start" fill="#161616">2 Theta (Degree)</text>
<text x="861.8" y="2091.6" font-family='"Liberation Serif", serif' font-size="33.0" text-anchor="start" fill="#161616">1400/4h</text>
<text x="856.2" y="2277.5" font-family='"Liberation Serif", serif' font-size="33.0" text-anchor="start" fill="#161616">1200/4h</text>
<text x="860.6" y="2385.8" font-family='"Liberation Serif", serif' font-size="33.0" text-anchor="start" fill="#161616">1000/4h</text>
<text x="865.2" y="2478.5" font-family='"Liberation Serif", serif' font-size="33.0" text-anchor="start" fill="#161616">Initial</text>
<text x="865.2" y="2520.0" font-family='"Liberation Serif", serif' font-size="33.0" text-anchor="start" fill="#161616">Powder</text>
<text x="760.1" y="1943.5" font-family='"Liberation Sans", sans-serif' font-size="33.6" text-anchor="start" fill="#161616" style="font-kerning:none">:<tspan x="769.7">YAG</tspan></text>
<text x="760.1" y="1988.7" font-family='"Liberation Sans", sans-serif' font-size="33.6" text-anchor="start" fill="#161616" style="font-kerning:none">:<tspan x="769.7">YAP</tspan></text>
<polygon points="747.7,1924.8 755.5,1934.0 747.7,1943.2 740.0,1934.0" fill="#0c0c0c"/>
<path d="M747.20,1987.60 L739.10,1977.97 C737.34,1975.22 738.93,1970.40 742.80,1970.40 C745.26,1970.40 746.67,1971.95 747.20,1974.36 C747.73,1971.95 749.14,1970.40 751.60,1970.40 C755.47,1970.40 757.06,1975.22 755.30,1977.97 Z" fill="#0c0c0c"/>
</g>
</svg>
</body></html>
